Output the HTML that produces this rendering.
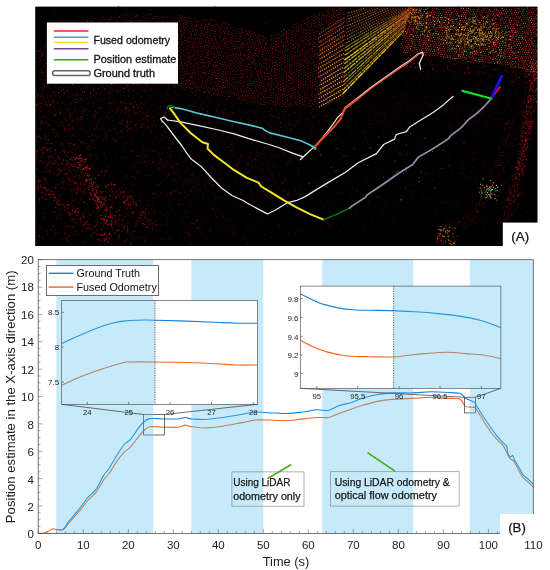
<!DOCTYPE html>
<html><head><meta charset="utf-8"><title>Figure</title>
<style>html,body{margin:0;padding:0;background:#fff}svg{display:block}</style></head>
<body>
<svg width="550" height="570" viewBox="0 0 550 570" font-family="Liberation Sans, Arial, sans-serif">
<rect x="35.2" y="6.6" width="502.3" height="239.4" fill="#000"/>
<linearGradient id="gy" gradientUnits="userSpaceOnUse" x1="345" y1="60" x2="412" y2="14"><stop offset="0" stop-color="#f0d428"/><stop offset="0.45" stop-color="#e6b422"/><stop offset="1" stop-color="#c8501c"/></linearGradient>
<linearGradient id="go" gradientUnits="userSpaceOnUse" x1="345" y1="30" x2="400" y2="8"><stop offset="0" stop-color="#d8801e"/><stop offset="1" stop-color="#b8301a"/></linearGradient>
<path d="M197.9 42.7h1M54.0 110.4h1M156.1 138.5h1M352.0 146.2h1M222.3 137.7h1M504.0 107.6h1M326.5 115.8h1M509.7 120.1h1M111.2 164.2h1M232.3 102.1h1M90.4 150.4h1M35.3 42.8h1M511.9 153.5h1M216.9 171.8h1M416.0 78.0h1M135.6 124.6h1M436.9 26.9h1M267.8 184.6h1M113.5 137.9h1M42.4 239.0h1M308.6 206.3h1M121.8 120.0h1M301.8 122.1h1M262.3 13.3h1M457.1 39.4h1M195.2 179.5h1M205.0 116.4h1M321.8 174.3h1M248.8 23.9h1M353.9 198.5h1M238.5 89.8h1M336.0 172.4h1M159.9 192.4h1M320.7 201.2h1M377.1 123.7h1M492.5 75.4h1M345.1 160.5h1M65.7 70.9h1M447.2 128.4h1M244.2 96.6h1M464.3 73.8h1M80.8 88.5h1M224.5 87.6h1M461.5 215.6h1M521.6 123.9h1M77.9 192.6h1M428.1 62.3h1M386.1 33.4h1M499.9 60.9h1M75.8 107.2h1M55.6 14.9h1M495.5 158.4h1M101.9 125.5h1M159.4 22.1h1M527.6 218.1h1M168.3 26.7h1M460.6 165.7h1M523.9 146.2h1M338.1 192.1h1M310.5 21.7h1M370.6 106.6h1M357.0 224.4h1M297.0 228.2h1M186.7 207.0h1M525.2 122.2h1M340.4 158.9h1M55.8 141.2h1M288.1 49.4h1M363.1 194.3h1M314.1 145.5h1M124.0 184.6h1M501.6 221.0h1M149.4 163.0h1M390.6 114.5h1M237.1 69.9h1M118.1 6.7h1M115.2 224.9h1M166.5 160.8h1M271.0 207.6h1M492.7 41.2h1M208.4 40.6h1M50.7 39.7h1M385.3 183.0h1M445.9 202.8h1M89.0 55.9h1M52.2 233.9h1M462.8 154.6h1M423.5 89.6h1M305.4 58.4h1M35.9 55.0h1M285.5 32.9h1M44.0 45.5h1M55.3 31.6h1M49.0 43.7h1M46.4 49.0h1M40.7 64.4h1M49.7 55.0h1M61.3 44.9h1M52.2 62.8h1M71.0 30.0h1M71.7 33.7h1M60.4 50.8h1M61.0 54.2h1M57.8 58.3h1M49.3 70.5h1M83.0 26.5h1M74.9 42.3h1M80.5 42.1h1M77.3 49.9h1M94.1 22.5h1M74.3 59.2h1M83.6 53.5h1M69.5 79.3h1M61.5 95.5h1M58.7 100.4h1M104.1 23.8h1M93.3 41.4h1M80.6 65.6h1M61.9 98.1h1M97.9 41.7h1M77.8 74.0h1M76.2 79.2h1M115.0 15.9h1M96.0 52.4h1M74.9 86.3h1M67.2 104.1h1M99.0 51.5h1M112.5 42.6h1M109.5 46.4h1M108.3 51.9h1M89.9 82.9h1M112.7 48.9h1M100.8 70.2h1M95.2 75.9h1M85.0 97.4h1M113.3 52.2h1M132.3 26.5h1M121.3 49.2h1M116.1 63.5h1M99.3 91.2h1M121.1 67.7h1M118.0 68.3h1M112.7 81.5h1M150.2 17.7h1M139.1 39.9h1M128.8 58.4h1M113.2 92.1h1M150.2 36.0h1M147.9 41.2h1M128.1 76.9h1M118.6 89.8h1M163.9 15.9h1M127.5 84.1h1M164.5 22.7h1M138.5 68.9h1M164.6 29.4h1M150.3 56.2h1M169.4 26.3h1M142.0 78.9h1M138.5 82.9h1M170.1 29.4h1M166.8 42.0h1M156.5 71.5h1M149.8 86.5h1M161.7 71.4h1M50.5 112.6h1M85.3 107.4h1M88.0 102.6h1M86.9 114.0h1M97.9 102.6h1M95.7 105.2h1M106.4 99.4h1M102.0 116.3h1M119.2 104.9h1M128.0 100.5h1M152.9 91.7h1M167.9 88.5h1M165.8 95.4h1M162.8 102.5h1M168.6 94.7h1M174.3 100.7h1M188.1 95.2h1M194.2 103.2h1M202.7 102.5h1M221.8 101.5h1M219.8 106.9h1M224.5 104.7h1M254.9 113.4h1M260.6 119.6h1M265.8 112.9h1M266.6 125.3h1M276.0 121.0h1M288.9 109.4h1M295.4 125.2h1M317.8 107.4h1M306.2 130.9h1M312.3 126.1h1M318.3 120.5h1M322.9 125.2h1M144.2 105.6h1M71.4 140.7h1M125.8 107.4h1M84.8 136.6h1M148.1 117.2h1M81.0 114.2h1M49.9 126.2h1M85.4 131.3h1M124.3 114.9h1M147.3 112.7h1M140.7 119.7h1M97.5 122.1h1M128.3 109.5h1M66.2 150.2h1M99.8 114.2h1M75.0 122.0h1M64.2 124.8h1M90.1 136.9h1M140.0 104.3h1M58.1 129.3h1M72.2 122.6h1M45.4 140.4h1M38.2 143.6h1M97.4 120.1h1M66.1 109.2h1M138.9 114.6h1M112.1 117.0h1M66.4 213.2h1M88.2 228.3h1M53.7 196.7h1M90.2 220.7h1M63.7 207.6h1M53.8 194.4h1M66.9 212.5h1M52.2 194.6h1M75.5 225.8h1M54.5 197.8h1M72.0 212.8h1M47.5 187.7h1M106.3 231.8h1M56.6 196.5h1M37.2 184.6h1M77.5 210.0h1M54.1 188.2h1M86.5 221.5h1M149.3 225.9h1M131.2 204.3h1M115.1 185.2h1M115.9 189.7h1M110.5 185.6h1M124.4 201.7h1M129.1 201.8h1M147.0 221.9h1M131.2 201.5h1M92.7 198.6h1M93.5 197.8h1M129.9 233.2h1M129.1 234.3h1M119.8 238.7h1M105.6 191.4h1M93.6 179.1h1M106.0 208.2h1M66.8 160.4h1M131.9 233.2h1M111.3 220.7h1M72.5 170.1h1M108.1 191.2h1M53.3 163.0h1M79.0 170.6h1M119.0 223.8h1M91.0 189.7h1M104.5 228.4h1M71.7 182.4h1M48.3 170.2h1M51.0 162.1h1M48.8 160.8h1M44.8 163.5h1M38.6 151.7h1M70.7 181.5h1M42.1 152.6h1M55.9 162.4h1M72.4 183.9h1M39.8 157.4h1M67.1 189.0h1M46.1 168.2h1M77.0 193.0h1M58.8 166.0h1M64.8 167.9h1M81.6 179.0h1M71.6 175.6h1M59.9 170.6h1M71.8 192.2h1M57.4 161.1h1M75.1 181.4h1M51.2 155.9h1M42.6 148.7h1M44.9 162.4h1M68.3 175.0h1M66.4 168.5h1M226.1 230.9h1M41.3 212.9h1M199.3 242.4h1M61.6 208.4h1M108.3 242.4h1M135.2 244.3h1M51.7 167.1h1M85.5 210.1h1M217.0 244.3h1M181.6 213.0h1M66.8 207.9h1M214.8 210.6h1M84.9 155.2h1M80.4 241.1h1M150.2 219.5h1M70.9 165.2h1M214.0 207.6h1M69.6 244.5h1M190.0 231.5h1M113.3 177.8h1M176.4 173.2h1M219.4 229.4h1M190.5 223.7h1M201.7 228.5h1M127.4 224.9h1M50.2 150.0h1M136.2 209.8h1M166.1 227.4h1M70.0 179.9h1M123.5 233.3h1M165.9 187.3h1M214.9 212.6h1M171.8 230.2h1M142.9 184.1h1M237.6 243.8h1M114.2 219.2h1M155.2 234.7h1M135.7 202.9h1M119.6 227.7h1M110.1 237.2h1M123.6 181.0h1M38.3 158.2h1M82.3 222.0h1M131.2 165.2h1M182.7 202.9h1M66.9 210.5h1M155.2 242.3h1M95.1 163.4h1M42.3 197.1h1M180.2 213.8h1M95.1 153.5h1M175.5 173.2h1M127.7 238.1h1M157.0 164.4h1M49.6 208.0h1M104.8 214.9h1M167.6 215.0h1M123.3 216.7h1M37.2 168.8h1M88.2 172.9h1M73.6 150.4h1M76.2 216.3h1M229.8 222.3h1M94.7 163.2h1M111.0 231.0h1M42.8 219.0h1M161.0 170.3h1M36.5 220.4h1M65.5 240.2h1M116.9 223.7h1M103.1 238.1h1M37.4 169.6h1M111.5 167.5h1M289.6 156.2h1M237.2 162.2h1M170.1 175.7h1M237.9 194.5h1M237.7 175.9h1M193.8 154.6h1M264.8 194.3h1M217.7 154.9h1M248.9 152.3h1M298.1 173.7h1M299.8 185.6h1M129.7 128.6h1M284.6 180.2h1M183.4 152.5h1M138.0 106.4h1M260.5 199.7h1M133.3 139.2h1M219.7 119.6h1M145.8 139.4h1M165.8 129.1h1M256.7 156.7h1M252.0 193.3h1M140.4 124.6h1M182.9 165.9h1M232.6 155.4h1M246.2 197.1h1M133.9 116.5h1M181.8 106.1h1M182.6 143.3h1M285.3 143.8h1M256.7 197.6h1M199.1 121.5h1M240.6 155.9h1M271.3 172.6h1M299.1 116.5h1M293.0 152.6h1M168.1 151.3h1M261.6 135.4h1M206.7 156.5h1M128.8 123.8h1M208.3 121.8h1M188.8 135.7h1M194.5 180.0h1M241.7 143.2h1M205.3 184.0h1M257.8 159.6h1M273.4 167.0h1M142.5 111.2h1M289.2 165.6h1M223.4 132.4h1M205.5 151.0h1M154.2 151.5h1M151.1 117.2h1M251.4 137.8h1M140.8 151.5h1M245.6 112.5h1M164.1 162.0h1M186.5 171.8h1M213.1 144.5h1M270.8 114.8h1M277.8 119.6h1M141.8 142.2h1M206.6 133.8h1M155.5 117.1h1M214.6 197.5h1M240.9 137.7h1M180.4 126.0h1M265.1 163.0h1M215.1 196.5h1M287.8 161.9h1M236.8 157.9h1M210.9 116.8h1M219.2 188.2h1M131.8 122.9h1M290.0 183.7h1M182.8 172.9h1M218.1 184.6h1M178.8 164.4h1M205.6 144.1h1M174.0 137.7h1M206.7 166.2h1M215.4 198.6h1M221.0 157.1h1M274.7 141.6h1M187.8 168.1h1M141.6 155.1h1M295.5 149.1h1M179.3 175.8h1M127.0 123.6h1M289.4 150.9h1M158.7 167.3h1M175.3 173.8h1M183.8 120.5h1M203.2 147.5h1M203.3 185.0h1M171.6 110.2h1M170.0 157.4h1M236.1 167.4h1M427.3 129.9h1M474.9 199.5h1M311.6 214.2h1M521.6 220.6h1M508.2 90.7h1M261.7 128.3h1M327.8 225.4h1M462.3 173.4h1M282.3 182.5h1M352.2 188.4h1M383.4 199.2h1M353.4 150.3h1M238.8 164.8h1M350.8 195.0h1M477.3 125.6h1M217.2 143.4h1M443.2 103.9h1M312.9 202.1h1M281.1 129.9h1M523.7 172.1h1M388.8 189.6h1M295.5 150.5h1M511.0 214.1h1M477.5 112.9h1M268.1 161.9h1M435.2 209.5h1M485.4 87.3h1M388.2 229.5h1M252.5 210.5h1M527.3 211.7h1M302.8 148.7h1M289.4 123.9h1M371.2 223.7h1M263.6 152.2h1M176.5 120.0h1M521.4 238.8h1M333.0 193.4h1M468.1 157.9h1M461.5 224.8h1M468.7 146.0h1M486.3 140.6h1M499.7 223.0h1M401.4 183.5h1M272.0 128.4h1M503.3 151.1h1M520.4 104.4h1M297.1 205.7h1M240.3 158.5h1M298.6 140.1h1M482.0 82.3h1M313.0 189.7h1M437.6 198.8h1M203.1 118.4h1M268.2 170.0h1M432.0 180.9h1M222.3 161.1h1M386.0 174.7h1M325.8 144.3h1M484.3 227.3h1M411.4 193.4h1M346.4 201.8h1M327.9 132.9h1M524.1 146.1h1M500.9 119.7h1M458.5 209.0h1M231.5 125.8h1M321.3 231.5h1M283.3 149.8h1M367.8 144.1h1M394.8 148.0h1M522.2 153.8h1M440.3 240.0h1M447.0 234.8h1M236.7 158.8h1M272.8 236.4h1M521.7 208.4h1M364.4 231.8h1M317.9 182.7h1M245.2 126.1h1M367.4 142.2h1M517.9 126.4h1M306.5 122.0h1M426.9 188.9h1M394.0 242.4h1M356.8 169.2h1M323.0 207.3h1M501.8 144.9h1M496.1 237.7h1M237.8 165.6h1M475.1 117.0h1M342.2 140.7h1M253.8 210.5h1M499.5 112.2h1M442.5 125.6h1M242.9 204.9h1M497.1 107.3h1M313.0 159.6h1M436.3 214.2h1M334.9 150.2h1M281.8 198.2h1M480.7 113.3h1M386.3 146.1h1M478.1 142.4h1M421.8 178.6h1M329.8 167.3h1M450.3 93.5h1M460.6 187.0h1M397.5 227.7h1M348.2 201.8h1M483.9 217.0h1M484.2 86.1h1M322.2 138.5h1M332.9 204.0h1M456.7 114.2h1M490.4 102.5h1M488.8 142.1h1M296.7 168.1h1M430.6 104.8h1M450.7 171.9h1M404.2 167.0h1M487.0 239.2h1M282.5 150.2h1M510.7 168.5h1M495.2 162.4h1M427.0 169.3h1M262.9 211.1h1M471.8 221.1h1M431.1 213.9h1M337.0 180.3h1M193.1 121.5h1M258.6 133.2h1M398.4 142.4h1M383.8 125.4h1M513.1 118.9h1M312.2 167.0h1M470.0 149.4h1M190.1 139.4h1M501.2 121.4h1M262.1 242.8h1M323.3 220.1h1M435.1 147.7h1M441.0 164.2h1M416.6 187.0h1M517.4 133.3h1M369.8 134.9h1M245.9 127.0h1M368.9 120.2h1M223.0 115.8h1M471.7 171.6h1M472.3 120.8h1M510.8 111.4h1M472.0 193.6h1M480.5 95.4h1M456.8 143.7h1M495.5 102.5h1M287.8 191.7h1M345.2 101.9h1M350.3 108.2h1M363.2 110.2h1M381.0 79.7h1M374.0 89.7h1M372.0 99.6h1M381.7 89.7h1M379.9 101.9h1M385.1 98.3h1M378.7 121.0h1M399.1 82.1h1M412.5 60.8h1M410.2 66.3h1M396.8 102.3h1M394.0 109.2h1M409.9 73.9h1M406.9 81.9h1M401.0 93.6h1M394.0 112.7h1M418.5 63.8h1M419.6 82.6h1M427.0 79.0h1M424.3 96.5h1M444.3 62.9h1M437.6 77.8h1M438.2 81.4h1M427.2 108.8h1M423.3 110.2h1M443.6 74.6h1M441.3 96.0h1M438.8 100.5h1M454.1 77.6h1M446.2 96.2h1M443.2 104.1h1M449.1 97.4h1M462.8 78.4h1M464.0 83.4h1M458.4 96.0h1M461.2 95.9h1M478.8 70.9h1M475.0 83.5h1M481.9 67.6h1M464.4 116.0h1M472.6 101.4h1M469.2 111.2h1M481.5 93.2h1M475.9 101.1h1M496.2 70.6h1M498.9 67.7h1M489.1 93.9h1M488.0 96.3h1M485.9 102.0h1M481.3 112.3h1M500.7 75.5h1M500.4 78.6h1M487.0 107.8h1M510.8 75.7h1M516.6 72.6h1M516.0 78.8h1M506.5 99.7h1M498.2 119.5h1M515.4 92.6h1M500.8 124.2h1M504.1 121.8h1M518.3 98.7h1M517.2 115.1h1M404.9 61.8h1M420.9 55.7h1M441.3 69.7h1M451.6 66.2h1M467.7 70.0h1M480.6 69.4h1M493.5 73.7h1M500.2 65.5h1M497.2 68.4h1M514.7 73.1h1M518.8 73.0h1M518.2 81.6h1M532.9 86.1h1M525.8 77.8h1M532.7 97.1h1M534.4 99.0h1M524.0 90.5h1M528.3 75.9h1M531.1 83.4h1M528.7 74.9h1M529.7 120.9h1M531.2 118.3h1M524.6 123.4h1M529.4 101.8h1M529.4 120.9h1M529.3 120.2h1M519.8 131.0h1M519.6 162.8h1M521.3 164.0h1M519.5 158.8h1M520.7 147.8h1M520.0 147.1h1M521.7 141.2h1M526.6 143.6h1M527.6 142.4h1M516.6 167.8h1M521.6 143.8h1M522.2 168.4h1M524.6 149.5h1M517.4 155.6h1M518.1 147.7h1M524.8 155.4h1M515.1 185.0h1M512.3 202.0h1M515.6 192.2h1M518.2 176.5h1M516.7 187.7h1M510.1 195.8h1M509.0 202.2h1M511.1 200.0h1M513.9 184.1h1M507.6 214.7h1M507.1 212.6h1M506.9 206.1h1M504.9 228.3h1M504.3 221.1h1M504.7 212.3h1M504.1 214.7h1M505.3 217.7h1M504.8 226.9h1M507.9 223.0h1M503.9 215.4h1M508.5 146.2h1M511.1 122.4h1M503.6 124.6h1M499.1 152.8h1M513.5 121.1h1M509.2 132.0h1M506.0 142.5h1M510.9 124.6h1M485.1 185.6h1M491.4 183.1h1M494.9 182.6h1M490.7 189.6h1M490.1 189.0h1M493.1 170.4h1M481.1 195.6h1M483.5 189.3h1M479.7 220.2h1M485.9 190.9h1M471.5 200.2h1M479.1 206.0h1M474.0 198.9h1M480.0 194.8h1M481.2 206.1h1M469.2 223.2h1M448.3 224.6h1M450.2 232.3h1M465.7 217.7h1M445.4 232.3h1M438.7 233.5h1" stroke="#3a0408" stroke-width="1" fill="none"/>
<path d="M71.6 134.9h1M58.6 212.1h1M377.0 109.0h1M269.1 227.7h1M474.8 181.2h1M419.2 143.8h1M534.0 203.4h1M395.2 219.0h1M278.8 147.6h1M191.8 41.1h1M384.9 69.1h1M302.7 193.1h1M165.4 172.4h1M259.8 230.9h1M86.5 119.1h1M457.4 121.4h1M275.3 49.3h1M527.6 164.0h1M156.0 147.0h1M339.7 54.3h1M475.5 232.2h1M250.4 57.5h1M507.1 160.6h1M238.0 107.5h1M228.3 130.5h1M523.3 31.7h1M461.9 168.4h1M340.7 59.8h1M468.6 115.2h1M534.6 106.6h1M506.4 238.6h1M60.5 54.9h1M171.1 199.0h1M455.6 10.0h1M472.5 167.1h1M37.0 93.8h1M330.0 100.9h1M77.9 16.6h1M68.4 183.0h1M336.4 86.0h1M382.9 168.4h1M521.5 114.2h1M457.2 7.0h1M393.4 222.4h1M216.4 109.1h1M261.7 186.8h1M99.1 119.6h1M176.7 67.8h1M285.4 144.1h1M236.0 113.3h1M49.9 105.2h1M384.7 178.6h1M378.1 54.0h1M151.1 59.6h1M261.1 177.1h1M120.2 7.3h1M410.6 221.7h1M57.1 185.3h1M340.2 85.1h1M426.9 77.0h1M319.9 95.9h1M129.8 22.1h1M494.5 16.3h1M210.9 15.6h1M106.2 55.4h1M375.9 50.9h1M235.0 71.5h1M192.1 142.2h1M243.2 11.0h1M506.6 44.1h1M336.3 138.3h1M101.3 218.6h1M68.1 90.6h1M114.9 221.2h1M489.8 115.9h1M237.9 159.0h1M532.7 144.8h1M184.1 130.2h1M410.5 59.7h1M62.5 142.4h1M355.8 215.2h1M63.4 203.1h1M443.8 48.4h1M203.7 186.1h1M509.7 185.2h1M449.6 157.8h1M183.1 87.2h1M45.7 68.1h1M59.5 188.5h1M166.1 232.6h1M57.9 29.4h1M48.7 46.9h1M38.0 64.4h1M61.5 37.7h1M68.1 28.5h1M69.0 32.1h1M37.6 92.9h1M81.6 24.7h1M61.9 57.6h1M42.5 92.6h1M77.9 33.1h1M63.7 59.1h1M78.0 43.5h1M53.2 90.7h1M46.6 96.9h1M81.7 44.2h1M61.6 81.8h1M80.3 54.9h1M72.9 71.0h1M66.7 81.8h1M54.3 105.9h1M79.9 61.9h1M59.1 106.3h1M95.3 43.7h1M90.6 56.5h1M81.0 72.5h1M73.6 87.1h1M86.1 68.6h1M70.4 96.2h1M118.2 24.0h1M103.6 46.1h1M121.1 26.6h1M104.7 58.0h1M87.3 84.7h1M86.3 89.2h1M90.2 86.2h1M87.2 93.1h1M118.3 55.2h1M104.4 81.3h1M99.2 94.8h1M132.8 46.4h1M124.6 57.5h1M116.0 78.1h1M107.9 90.0h1M135.2 46.8h1M153.1 23.1h1M150.7 28.0h1M147.9 29.6h1M125.3 74.9h1M121.9 87.6h1M156.4 27.5h1M135.6 68.0h1M156.5 42.7h1M134.7 78.5h1M152.7 54.0h1M147.3 63.2h1M142.5 84.9h1M138.3 89.5h1M161.7 60.9h1M157.1 68.7h1M147.3 88.9h1M161.6 65.4h1M167.4 68.4h1M156.8 88.8h1M38.6 129.7h1M37.1 134.5h1M45.2 122.5h1M51.4 126.5h1M62.4 121.8h1M68.2 105.4h1M76.2 118.0h1M84.9 109.4h1M89.3 111.1h1M99.3 105.8h1M113.5 100.3h1M111.3 104.9h1M119.3 110.4h1M123.2 97.0h1M129.4 112.4h1M134.4 102.3h1M137.6 108.0h1M156.8 93.9h1M155.3 113.3h1M164.3 99.2h1M163.3 106.6h1M159.4 108.4h1M174.7 93.5h1M170.2 103.1h1M187.0 97.1h1M196.8 102.2h1M199.9 105.2h1M201.8 109.5h1M210.5 96.8h1M218.4 101.1h1M215.7 106.5h1M219.0 104.1h1M222.3 111.6h1M230.8 104.0h1M232.2 107.8h1M247.3 103.2h1M240.0 119.0h1M252.6 122.0h1M264.4 110.5h1M275.6 105.7h1M283.4 109.0h1M280.4 122.3h1M289.1 113.7h1M285.9 127.7h1M298.5 121.0h1M307.2 113.1h1M305.8 119.2h1M311.1 113.0h1M311.1 122.9h1M319.5 114.1h1M317.6 124.0h1M324.8 127.7h1M337.1 110.3h1M36.8 141.1h1M155.7 125.2h1M62.7 125.9h1M141.6 113.1h1M87.9 129.6h1M67.4 142.7h1M76.8 133.5h1M50.6 133.6h1M150.1 126.1h1M41.0 119.2h1M127.1 132.3h1M41.2 121.3h1M86.8 132.0h1M63.4 126.8h1M122.9 111.0h1M143.3 120.4h1M69.1 109.2h1M152.7 122.4h1M119.1 121.3h1M115.6 121.9h1M91.9 142.7h1M40.0 129.3h1M92.7 107.3h1M81.2 125.2h1M40.7 117.4h1M56.3 113.8h1M135.8 104.4h1M81.5 111.3h1M37.0 137.0h1M45.4 188.3h1M97.0 234.7h1M68.5 211.3h1M48.2 193.8h1M37.8 186.9h1M64.3 201.5h1M104.7 242.2h1M81.1 223.0h1M49.2 194.3h1M64.9 204.2h1M65.2 208.5h1M44.3 192.7h1M92.7 229.9h1M87.0 224.3h1M91.3 234.0h1M72.6 217.3h1M56.3 191.4h1M142.8 210.9h1M113.2 193.7h1M117.6 194.4h1M114.7 189.2h1M141.4 219.5h1M122.3 192.1h1M120.3 199.8h1M112.9 187.1h1M121.3 187.6h1M128.2 206.5h1M128.3 202.3h1M116.4 186.5h1M119.1 189.2h1M141.2 208.7h1M148.3 212.6h1M155.6 224.5h1M137.2 205.7h1M81.8 158.4h1M107.4 220.9h1M126.9 223.1h1M79.7 172.7h1M117.9 220.6h1M111.8 216.9h1M121.9 231.2h1M100.2 195.0h1M82.9 182.5h1M87.4 176.9h1M129.3 234.0h1M122.1 220.1h1M108.3 216.4h1M56.5 156.5h1M83.5 185.4h1M74.7 164.4h1M79.9 189.2h1M125.6 240.4h1M44.6 151.4h1M63.5 172.8h1M52.8 161.0h1M63.7 174.8h1M48.8 156.7h1M36.5 158.2h1M61.2 178.8h1M80.2 187.3h1M49.8 155.4h1M35.7 153.7h1M69.4 179.6h1M73.0 186.4h1M52.7 163.7h1M68.0 176.4h1M68.5 181.5h1M50.8 172.0h1M69.2 178.6h1M148.0 196.4h1M36.2 177.1h1M43.9 208.6h1M104.3 184.3h1M87.1 204.6h1M189.7 244.2h1M136.1 223.5h1M210.1 201.6h1M192.4 178.6h1M201.4 229.1h1M219.6 229.2h1M171.0 200.0h1M38.9 172.5h1M199.9 187.5h1M132.2 167.0h1M119.7 243.3h1M47.2 155.9h1M206.9 238.4h1M194.3 186.9h1M155.9 184.5h1M163.7 200.8h1M177.1 192.1h1M102.5 242.6h1M227.4 219.4h1M71.1 183.7h1M187.0 196.6h1M218.5 208.1h1M202.4 198.2h1M130.7 190.7h1M83.3 180.7h1M170.9 166.6h1M225.0 218.9h1M118.8 225.6h1M186.9 195.9h1M39.8 181.8h1M143.3 180.9h1M38.2 228.3h1M38.0 203.0h1M90.6 159.8h1M145.7 164.7h1M165.3 224.6h1M114.1 240.2h1M65.1 229.3h1M88.2 215.2h1M96.9 234.6h1M147.5 164.1h1M131.6 200.9h1M126.1 157.9h1M187.6 216.6h1M47.3 211.1h1M71.0 194.3h1M157.9 154.7h1M227.9 242.7h1M146.4 222.0h1M83.2 206.8h1M164.1 180.4h1M243.9 238.8h1M118.6 234.2h1M41.2 202.7h1M77.8 208.2h1M37.8 176.8h1M93.6 207.4h1M125.4 210.7h1M236.5 236.7h1M108.1 187.3h1M155.3 194.1h1M151.7 243.8h1M133.5 234.9h1M69.4 177.6h1M170.0 155.5h1M134.4 238.3h1M160.2 159.4h1M101.1 181.7h1M141.1 187.1h1M100.6 170.1h1M181.9 204.9h1M177.3 193.1h1M98.9 172.5h1M197.7 190.2h1M274.6 133.0h1M200.1 190.5h1M224.2 148.7h1M196.2 122.1h1M236.8 166.6h1M168.5 173.7h1M190.7 154.8h1M236.2 166.1h1M251.7 162.3h1M164.3 105.7h1M176.1 106.0h1M146.9 112.3h1M194.4 155.2h1M145.1 150.7h1M272.0 184.9h1M147.6 119.5h1M189.3 121.4h1M287.2 181.6h1M122.8 148.4h1M133.9 131.9h1M162.8 153.8h1M128.1 116.3h1M152.2 157.1h1M232.0 112.9h1M202.8 108.1h1M287.2 164.1h1M294.3 124.8h1M265.3 139.2h1M299.5 155.1h1M284.8 179.2h1M283.7 146.3h1M207.7 173.9h1M180.0 154.3h1M130.3 127.4h1M262.5 169.3h1M270.6 136.9h1M226.2 139.5h1M297.3 189.2h1M298.7 117.2h1M287.4 189.7h1M219.5 119.3h1M223.7 198.4h1M155.7 136.6h1M244.3 156.2h1M270.4 125.2h1M226.7 175.5h1M126.2 146.8h1M129.3 109.0h1M179.8 176.1h1M143.4 161.3h1M246.7 118.7h1M247.2 186.1h1M200.9 107.7h1M181.3 148.2h1M207.2 118.8h1M223.1 186.5h1M250.3 138.4h1M230.6 143.9h1M120.2 137.9h1M169.7 156.4h1M171.5 141.7h1M257.5 148.3h1M247.0 172.8h1M157.4 154.0h1M162.9 139.2h1M212.6 192.6h1M247.2 144.0h1M245.2 114.7h1M133.3 110.1h1M212.6 136.0h1M263.7 136.1h1M293.6 141.4h1M260.4 169.4h1M246.5 173.4h1M281.7 130.8h1M277.7 119.3h1M372.1 174.7h1M273.1 157.3h1M237.2 204.8h1M248.0 122.2h1M202.2 146.8h1M385.4 202.2h1M521.9 131.3h1M229.6 193.2h1M328.6 173.5h1M391.6 219.3h1M255.8 194.1h1M305.1 170.1h1M422.0 243.9h1M220.7 184.7h1M472.5 122.7h1M319.4 136.3h1M502.4 92.9h1M467.7 176.5h1M355.8 200.3h1M401.4 195.7h1M311.2 134.7h1M261.8 182.0h1M520.9 167.1h1M483.7 161.7h1M340.4 192.2h1M379.7 173.4h1M273.7 181.0h1M269.0 169.3h1M450.9 93.5h1M423.1 139.1h1M270.9 237.9h1M278.4 227.3h1M519.4 240.4h1M379.4 162.7h1M255.5 176.8h1M212.6 155.8h1M270.6 210.4h1M428.6 104.7h1M369.9 244.6h1M477.2 129.0h1M243.4 201.4h1M279.4 175.0h1M407.8 135.4h1M386.2 125.0h1M460.7 140.9h1M290.3 220.4h1M201.7 118.6h1M449.3 126.0h1M259.1 125.1h1M420.8 170.4h1M375.1 243.6h1M221.4 183.2h1M339.7 231.0h1M405.9 129.8h1M285.7 215.3h1M473.0 159.8h1M529.8 221.9h1M342.0 235.1h1M243.4 137.5h1M474.1 114.8h1M220.1 169.2h1M181.4 118.7h1M294.8 185.8h1M300.8 188.6h1M184.8 129.5h1M336.2 203.9h1M204.6 149.1h1M506.3 102.7h1M393.6 220.4h1M248.1 170.5h1M273.0 240.9h1M250.9 160.2h1M487.6 105.5h1M420.1 151.2h1M333.3 210.8h1M353.6 209.6h1M280.7 147.2h1M310.0 199.2h1M382.0 213.3h1M404.2 181.9h1M250.7 224.5h1M507.1 123.8h1M474.2 152.3h1M396.2 149.3h1M356.8 203.6h1M306.3 123.6h1M444.9 219.1h1M429.5 199.6h1M262.1 149.6h1M179.4 111.4h1M251.9 204.7h1M359.8 192.1h1M491.0 99.2h1M365.1 131.6h1M288.4 211.2h1M338.8 141.2h1M299.9 144.8h1M264.9 226.4h1M412.5 198.8h1M521.4 144.2h1M400.9 142.1h1M446.5 228.7h1M432.1 170.7h1M291.1 128.0h1M238.9 207.7h1M438.1 136.5h1M498.0 173.3h1M215.8 122.4h1M514.3 186.6h1M334.0 205.0h1M288.0 232.5h1M415.7 125.7h1M317.4 182.3h1M501.3 222.5h1M334.6 124.8h1M478.7 220.2h1M308.0 183.2h1M457.5 185.8h1M354.8 92.3h1M349.7 105.2h1M362.2 91.1h1M358.2 100.8h1M350.1 124.5h1M369.1 100.6h1M393.9 61.1h1M385.2 89.3h1M379.5 98.3h1M375.1 118.7h1M383.6 112.9h1M393.0 96.8h1M386.6 109.7h1M384.2 118.0h1M408.4 85.1h1M415.0 68.8h1M423.5 58.3h1M419.3 73.7h1M433.0 64.6h1M412.3 108.9h1M437.6 60.1h1M432.2 70.0h1M419.1 104.1h1M417.0 109.7h1M442.9 69.9h1M439.1 76.4h1M426.5 103.3h1M429.2 104.7h1M445.6 89.2h1M440.2 112.4h1M459.7 73.2h1M471.8 64.2h1M452.8 111.1h1M457.9 114.1h1M466.9 101.1h1M481.6 72.4h1M476.3 85.2h1M470.3 103.9h1M485.9 76.7h1M485.0 84.2h1M470.3 118.5h1M490.1 78.9h1M496.9 73.0h1M490.7 87.0h1M492.6 90.2h1M486.3 99.9h1M477.6 120.6h1M495.2 87.6h1M499.8 83.5h1M499.7 97.5h1M496.2 103.2h1M508.7 90.7h1M511.5 95.3h1M507.5 115.4h1M516.3 108.4h1M514.3 121.5h1M418.5 64.6h1M419.8 68.0h1M427.5 57.7h1M478.9 66.6h1M503.5 74.8h1M510.5 70.0h1M526.3 77.9h1M531.9 83.9h1M529.0 75.7h1M530.4 83.3h1M530.8 73.7h1M527.7 88.1h1M530.8 73.3h1M529.0 67.3h1M529.6 70.9h1M533.2 64.6h1M534.7 64.0h1M526.9 96.1h1M532.5 66.8h1M522.1 132.0h1M528.5 130.6h1M527.3 116.4h1M528.7 119.4h1M530.7 125.4h1M526.0 114.4h1M524.6 136.3h1M529.1 133.6h1M526.7 119.6h1M529.4 107.4h1M525.9 134.7h1M527.8 126.5h1M528.6 134.1h1M527.5 105.3h1M525.7 123.7h1M523.4 146.0h1M531.1 150.0h1M522.3 150.2h1M524.5 155.1h1M521.3 149.6h1M523.4 142.2h1M521.7 148.4h1M511.3 167.7h1M529.3 159.9h1M517.7 144.4h1M522.2 165.0h1M520.5 153.5h1M521.7 155.3h1M523.0 173.3h1M505.2 199.8h1M519.3 187.1h1M518.4 179.5h1M516.2 178.7h1M509.1 201.9h1M514.0 193.3h1M517.2 196.5h1M514.2 195.0h1M515.4 176.3h1M506.9 203.9h1M507.9 197.6h1M505.9 200.2h1M512.5 195.8h1M518.6 180.4h1M517.6 179.0h1M521.2 185.4h1M507.9 212.6h1M508.8 211.5h1M503.2 221.9h1M509.8 215.4h1M502.7 222.6h1M509.1 223.9h1M504.0 227.6h1M496.7 222.1h1M501.7 222.6h1M503.5 215.5h1M507.5 208.0h1M511.5 212.8h1M505.1 144.0h1M506.8 140.2h1M505.1 122.5h1M505.7 153.4h1M508.6 134.8h1M512.0 123.3h1M511.8 123.9h1M500.5 147.4h1M504.2 139.8h1M510.1 143.6h1M503.6 140.5h1M502.8 169.3h1M495.4 161.9h1M498.0 173.3h1M488.8 186.7h1M499.1 174.8h1M501.2 182.7h1M488.0 198.3h1M486.2 191.7h1M485.7 200.9h1M481.8 202.2h1M466.3 204.7h1M479.0 201.9h1M452.4 215.9h1M466.3 223.7h1M453.2 229.8h1M467.2 216.6h1M457.6 223.8h1" stroke="#43050a" stroke-width="1" fill="none"/>
<path d="M327.9 224.4h1M450.5 36.2h1M325.1 101.6h1M190.2 202.0h1M87.0 143.3h1M185.8 196.8h1M245.2 187.9h1M46.5 117.1h1M342.1 124.8h1M421.1 37.6h1M516.3 42.7h1M220.7 142.2h1M277.1 102.5h1M69.0 56.6h1M474.4 153.6h1M407.1 121.2h1M491.4 91.8h1M354.9 153.4h1M440.1 202.5h1M514.9 93.9h1M492.2 193.9h1M399.3 47.3h1M530.7 53.2h1M44.6 112.0h1M340.9 192.4h1M478.8 20.2h1M498.7 220.3h1M232.3 82.2h1M429.0 221.3h1M479.7 45.6h1M292.5 22.0h1M171.8 223.5h1M175.4 198.0h1M347.5 16.9h1M351.0 133.7h1M180.8 126.3h1M522.6 80.3h1M528.7 88.6h1M523.7 137.6h1M52.5 217.8h1M77.3 73.4h1M516.2 210.9h1M110.3 180.0h1M450.3 146.4h1M441.7 209.2h1M229.5 226.0h1M377.6 103.7h1M456.7 35.3h1M454.5 75.0h1M315.1 101.0h1M490.3 125.6h1M249.9 137.7h1M227.5 185.2h1M98.4 127.1h1M464.9 239.4h1M428.6 60.2h1M359.4 79.3h1M186.1 232.5h1M175.1 82.3h1M273.9 62.8h1M406.5 127.5h1M284.2 54.6h1M108.7 100.8h1M503.1 85.4h1M79.3 175.4h1M222.4 226.7h1M438.7 21.4h1M438.3 183.4h1M74.9 53.8h1M277.2 137.0h1M135.3 65.8h1M533.7 128.1h1M54.4 181.9h1M435.0 165.6h1M356.3 28.4h1M137.5 8.0h1M325.4 93.9h1M100.5 19.0h1M121.4 89.9h1M227.9 187.0h1M489.4 155.1h1M97.0 65.7h1M361.2 80.4h1M346.1 123.8h1M291.5 16.4h1M402.9 201.7h1M515.7 225.9h1M379.8 179.2h1M287.5 226.8h1M332.5 154.0h1M195.5 15.4h1M376.6 221.0h1M201.4 26.1h1M88.6 92.1h1M242.8 78.7h1M114.9 10.0h1M505.9 182.2h1M302.2 103.8h1M41.4 138.5h1M523.4 77.4h1M78.1 128.1h1M166.0 63.1h1M465.9 111.3h1M321.7 80.3h1M91.4 155.5h1M465.4 189.0h1M274.9 38.4h1M444.7 231.2h1M75.4 202.7h1M214.4 215.8h1M183.4 217.1h1M91.4 185.1h1M55.7 207.6h1M111.8 166.8h1M134.6 171.0h1M59.0 241.9h1M189.9 205.2h1M110.8 206.8h1M151.8 178.8h1M67.0 183.7h1M38.1 204.9h1M136.7 173.5h1M227.9 228.0h1M127.8 190.8h1M105.4 184.6h1M169.0 228.4h1M86.6 228.5h1M200.0 216.6h1M48.5 150.2h1M205.9 203.5h1M82.7 241.6h1M50.0 180.0h1M141.8 242.6h1M157.5 240.8h1M114.7 222.4h1M193.1 231.5h1M150.4 202.6h1M77.9 153.9h1M201.8 199.4h1M104.7 222.8h1M122.8 178.5h1M151.5 172.5h1M47.7 244.1h1M102.8 163.9h1M71.3 182.7h1M385.6 124.1h1M405.5 196.8h1M445.2 244.5h1M381.5 205.5h1M329.4 225.8h1M456.5 204.6h1M464.1 176.4h1M221.1 129.4h1M294.9 188.3h1M305.6 136.9h1M359.4 144.4h1M515.0 125.7h1M198.7 137.8h1M311.5 205.8h1M429.2 217.2h1M272.1 193.1h1M499.2 155.5h1M341.3 171.0h1M459.9 168.3h1M497.6 235.2h1M488.2 233.1h1M349.4 190.6h1M518.1 192.3h1M265.1 239.5h1M187.9 122.4h1M526.1 144.6h1M409.0 207.8h1M375.7 115.7h1M484.5 122.8h1M492.3 179.5h1M451.9 144.0h1M204.7 130.9h1M452.0 106.9h1M419.2 104.8h1M280.9 138.6h1M513.1 192.9h1M323.7 205.2h1M251.1 191.6h1M485.1 204.7h1M506.9 180.3h1M465.1 152.1h1M336.9 183.3h1M469.9 172.0h1M428.5 203.9h1M463.4 123.4h1M359.9 197.3h1M224.4 179.7h1M399.7 126.7h1M508.6 188.6h1M422.3 195.4h1M438.5 172.3h1M383.8 190.3h1M264.8 120.7h1M415.6 182.5h1M407.6 219.6h1M314.4 185.2h1M348.1 129.9h1M327.4 146.3h1M472.0 117.7h1M298.1 241.2h1M337.0 215.5h1M251.6 123.0h1M218.8 174.7h1M365.3 232.3h1M234.8 153.6h1M524.1 155.5h1M401.3 235.0h1M411.8 108.5h1M440.0 188.5h1M383.0 211.5h1M363.3 217.3h1M220.6 141.1h1M446.3 238.8h1M530.1 185.8h1M355.3 244.2h1M507.2 99.2h1M405.3 163.7h1M495.2 143.1h1M483.6 224.1h1M389.9 185.7h1M367.1 161.4h1M468.1 146.5h1M336.9 221.1h1M359.0 153.2h1M298.9 163.8h1M310.4 163.8h1M473.2 159.8h1M403.4 186.2h1M307.7 170.4h1M417.3 102.3h1M192.5 134.5h1M349.2 158.1h1M422.4 199.4h1M413.3 224.7h1M392.7 142.9h1M226.3 154.2h1M358.7 190.6h1M283.9 154.6h1M268.3 198.5h1M245.6 133.8h1M397.5 204.0h1M415.6 241.2h1M450.8 228.4h1M367.6 176.7h1M489.7 108.2h1M525.9 138.7h1M503.4 158.4h1M447.1 144.0h1M438.5 163.9h1M349.2 194.4h1M461.0 188.6h1M227.6 204.8h1M480.7 221.4h1M398.3 200.0h1M366.5 150.6h1M349.9 226.9h1M240.7 156.4h1M497.4 105.8h1M401.1 158.0h1M345.8 229.1h1M448.6 153.6h1M293.7 222.3h1M467.0 180.4h1M385.6 241.4h1M439.2 169.4h1M197.1 148.1h1M341.4 175.9h1M260.8 120.4h1M393.0 146.0h1M399.7 125.9h1M354.0 96.6h1M369.3 89.8h1M362.8 103.7h1M358.1 111.5h1M357.9 115.3h1M362.4 105.6h1M354.0 125.7h1M384.2 77.5h1M376.3 100.2h1M372.2 103.6h1M371.9 107.6h1M369.7 109.1h1M369.0 119.5h1M395.9 65.9h1M376.7 103.7h1M386.3 93.4h1M407.4 56.0h1M398.7 69.0h1M378.5 124.4h1M399.0 77.2h1M388.8 103.9h1M383.8 115.2h1M414.2 57.4h1M406.9 73.2h1M404.9 82.5h1M389.8 110.2h1M410.9 78.1h1M405.3 90.5h1M400.5 98.9h1M398.5 103.3h1M396.0 106.0h1M397.1 117.4h1M422.7 65.2h1M422.9 67.5h1M405.2 103.1h1M418.0 86.2h1M416.8 89.8h1M407.1 110.3h1M421.2 92.8h1M417.1 107.3h1M440.3 67.6h1M429.2 93.2h1M434.0 84.9h1M435.7 89.0h1M438.6 86.5h1M431.0 108.3h1M449.8 69.3h1M443.7 80.8h1M438.4 94.5h1M434.2 111.7h1M452.9 81.5h1M460.3 84.6h1M456.4 100.3h1M477.1 69.0h1M467.3 92.3h1M469.2 94.6h1M463.8 104.8h1M459.1 116.3h1M484.6 70.0h1M479.2 91.7h1M496.9 80.4h1M498.4 84.9h1M501.4 87.6h1M492.8 102.9h1M502.8 94.8h1M497.0 108.0h1M494.1 114.3h1M512.4 72.7h1M507.3 85.0h1M508.5 97.9h1M506.0 125.3h1M523.0 112.0h1M521.5 121.6h1M502.2 225.7h1M503.8 226.5h1M502.3 225.6h1M505.5 223.9h1M508.7 209.4h1" stroke="#2e0306" stroke-width="1" fill="none"/>
<path d="M245.7 136.0h1M341.1 24.1h1M65.7 174.5h1M75.7 114.1h1M176.8 41.5h1M382.0 130.0h1M487.0 193.3h1M353.9 235.3h1M294.6 55.7h1M137.9 156.0h1M440.3 41.6h1M49.3 57.5h1M368.0 201.7h1M246.5 226.3h1M100.9 42.9h1M314.7 84.6h1M174.3 191.5h1M257.8 153.2h1M290.2 65.9h1M116.3 109.9h1M239.1 135.1h1M53.8 11.0h1M188.0 62.3h1M365.5 178.0h1M57.2 206.6h1M350.3 182.3h1M105.2 132.0h1M315.7 156.9h1M264.7 23.4h1M486.2 28.6h1M269.4 35.0h1M44.0 116.5h1M72.7 28.2h1M166.7 92.7h1M160.4 70.2h1M494.0 231.8h1M279.1 224.9h1M358.3 24.6h1M195.6 94.8h1M231.9 228.5h1M230.1 60.1h1M90.0 155.9h1M492.5 20.1h1M217.5 86.8h1M499.4 77.8h1M266.7 194.2h1M346.8 168.0h1M153.5 74.0h1M152.2 18.7h1M88.3 149.3h1M322.9 228.6h1M356.8 211.7h1M218.7 198.7h1M76.5 182.2h1M433.1 69.9h1M356.3 242.2h1M344.6 110.1h1M333.9 145.1h1M106.7 54.4h1M392.7 70.3h1M376.4 170.8h1M131.6 99.7h1M155.3 223.9h1M231.9 146.7h1M431.5 14.1h1M332.8 235.8h1M281.5 243.9h1M37.9 54.8h1M52.4 33.5h1M38.2 57.8h1M61.0 30.9h1M40.9 67.9h1M67.0 30.2h1M38.7 78.8h1M75.2 22.0h1M67.2 33.3h1M58.4 53.6h1M48.9 64.0h1M37.9 84.6h1M66.9 44.3h1M64.0 44.9h1M81.0 21.8h1M78.7 29.7h1M63.3 52.9h1M72.9 47.2h1M66.7 54.5h1M60.7 67.8h1M50.0 88.2h1M47.2 94.4h1M43.1 96.4h1M43.1 99.4h1M41.0 101.0h1M37.5 109.8h1M92.4 18.3h1M90.5 21.9h1M85.6 24.6h1M82.0 34.5h1M80.4 37.0h1M74.9 47.5h1M66.3 60.7h1M57.1 76.8h1M63.3 73.6h1M61.6 78.7h1M52.9 96.1h1M50.7 101.8h1M77.3 53.7h1M70.1 68.9h1M68.7 73.0h1M63.2 79.0h1M54.9 97.9h1M100.9 19.6h1M92.8 34.8h1M89.0 38.6h1M84.8 49.7h1M59.0 97.1h1M53.0 107.6h1M94.8 35.7h1M92.9 45.7h1M86.7 51.4h1M85.7 54.8h1M74.7 75.7h1M106.9 24.5h1M92.7 47.9h1M76.4 81.9h1M70.1 92.3h1M101.8 39.2h1M115.7 20.7h1M112.5 27.3h1M107.2 34.9h1M101.0 48.5h1M98.0 54.8h1M95.5 59.8h1M86.0 75.1h1M85.3 80.0h1M81.8 86.4h1M78.2 87.1h1M115.8 31.2h1M111.9 31.1h1M112.2 36.0h1M86.2 78.1h1M87.6 82.2h1M83.9 82.6h1M124.4 21.1h1M114.8 36.8h1M110.6 43.8h1M101.3 62.1h1M83.9 93.0h1M81.3 95.7h1M126.2 19.5h1M126.6 21.8h1M131.8 18.7h1M122.0 36.0h1M101.0 71.9h1M97.9 82.1h1M96.7 83.0h1M118.2 51.4h1M112.4 63.0h1M95.0 90.8h1M142.4 16.5h1M138.7 19.8h1M133.1 29.2h1M115.3 61.3h1M107.6 79.7h1M104.2 83.9h1M143.6 14.4h1M144.3 18.4h1M138.2 27.8h1M123.9 51.1h1M117.9 65.8h1M107.4 85.8h1M100.8 92.9h1M142.5 26.7h1M124.2 60.7h1M112.3 79.6h1M143.8 31.5h1M141.5 33.1h1M139.4 42.7h1M124.0 65.3h1M148.2 33.5h1M139.0 46.8h1M136.6 54.2h1M137.5 53.0h1M129.7 67.2h1M126.6 73.1h1M124.0 82.7h1M117.5 93.1h1M147.2 47.2h1M141.9 57.4h1M161.7 24.3h1M149.5 46.1h1M146.7 53.1h1M130.1 86.4h1M170.1 16.4h1M164.6 26.6h1M162.8 34.6h1M158.3 40.7h1M153.0 49.5h1M132.9 87.9h1M156.4 48.7h1M161.7 46.1h1M156.7 58.1h1M150.6 72.6h1M150.8 82.0h1M168.1 59.0h1M162.5 69.1h1M158.5 74.0h1M167.7 65.6h1M156.9 85.6h1M161.6 86.1h1M166.9 81.8h1M168.1 85.0h1M36.8 128.2h1M47.7 115.0h1M48.1 119.7h1M45.4 129.8h1M59.4 113.0h1M65.4 109.0h1M64.7 115.1h1M58.2 125.3h1M64.6 119.9h1M73.8 110.3h1M67.5 119.9h1M98.6 99.6h1M105.0 98.1h1M116.4 112.1h1M128.6 95.9h1M122.3 110.2h1M127.7 111.6h1M147.7 97.4h1M178.5 95.0h1M173.2 106.7h1M173.5 110.7h1M182.9 109.2h1M207.6 99.4h1M206.7 111.3h1M215.9 111.3h1M217.0 115.1h1M228.4 110.1h1M232.7 105.7h1M238.4 109.8h1M242.5 111.7h1M251.9 101.9h1M249.6 110.9h1M253.5 111.0h1M259.9 104.4h1M257.6 107.2h1M257.6 113.1h1M267.0 107.5h1M268.1 124.6h1M276.1 109.8h1M278.6 113.2h1M298.7 113.9h1M317.5 110.3h1M313.4 130.3h1M323.5 105.8h1M324.5 116.2h1M324.1 121.5h1M334.7 115.4h1M117.2 108.6h1M60.7 142.2h1M62.9 146.1h1M70.6 137.3h1M120.6 106.9h1M42.1 123.7h1M82.6 126.5h1M128.9 107.5h1M119.8 110.1h1M96.8 126.7h1M121.6 124.7h1M108.6 112.7h1M83.1 122.0h1M140.9 108.9h1M120.9 131.0h1M70.8 115.8h1M56.0 135.0h1M111.8 109.9h1M118.4 123.6h1M134.9 101.8h1M124.9 125.8h1M110.8 108.6h1M93.4 117.1h1M55.5 110.1h1M53.5 121.0h1M85.9 148.8h1M77.7 145.6h1M102.5 207.6h1M83.5 168.1h1M89.5 189.9h1M82.9 165.1h1M96.0 196.9h1M84.7 174.5h1M94.5 192.1h1M99.8 202.2h1M76.6 163.0h1M89.3 186.3h1M101.5 199.1h1M113.7 216.8h1M95.5 180.8h1M92.0 185.1h1M57.7 194.8h1M103.0 240.1h1M47.8 190.2h1M102.9 235.8h1M72.7 219.2h1M48.8 190.5h1M99.2 238.9h1M98.6 233.1h1M46.0 182.8h1M87.6 229.0h1M66.2 206.0h1M108.5 241.2h1M42.5 187.8h1M57.8 200.4h1M62.2 199.8h1M35.4 186.4h1M80.0 217.5h1M70.7 219.0h1M42.0 197.7h1M83.3 228.2h1M37.0 188.6h1M36.9 187.3h1M63.7 206.6h1M35.3 186.9h1M82.7 217.3h1M76.1 222.0h1M69.6 214.5h1M103.4 235.2h1M102.4 234.2h1M104.2 238.8h1M43.4 178.7h1M49.9 195.7h1M96.6 233.5h1M93.2 225.3h1M128.0 197.0h1M112.0 190.7h1M125.4 200.5h1M127.2 195.2h1M148.1 225.0h1M156.0 226.7h1M126.8 198.2h1M130.9 209.4h1M130.4 211.5h1M146.0 217.9h1M119.2 191.3h1M122.9 194.1h1M132.2 216.3h1M135.6 201.5h1M144.9 213.6h1M125.8 199.8h1M156.6 225.4h1M106.8 185.3h1M146.2 226.8h1M147.3 226.9h1M142.5 223.9h1M146.4 227.1h1M143.3 216.1h1M123.3 191.3h1M110.6 189.3h1M107.6 185.3h1M112.4 181.9h1M123.2 242.8h1M70.3 190.7h1M118.7 237.7h1M115.1 217.6h1M116.6 221.8h1M108.4 232.7h1M97.2 192.6h1M119.4 207.4h1M118.7 219.1h1M86.6 202.7h1M66.5 160.6h1M80.9 194.8h1M109.9 224.5h1M111.0 245.0h1M84.7 184.7h1M124.9 243.0h1M97.6 208.8h1M87.6 192.4h1M93.1 210.6h1M84.9 182.2h1M85.4 188.2h1M109.8 215.6h1M86.8 166.2h1M80.5 178.9h1M80.4 191.4h1M83.9 214.2h1M85.2 184.0h1M71.6 166.6h1M120.0 245.2h1M106.9 206.3h1M93.2 212.1h1M52.6 173.5h1M54.1 164.3h1M41.3 150.4h1M66.9 174.2h1M42.6 155.3h1M42.5 157.7h1M41.7 163.4h1M77.3 181.1h1M52.3 156.6h1M73.3 176.7h1M69.9 189.7h1M45.4 161.4h1M56.3 175.8h1M39.4 149.5h1M46.5 163.4h1M51.4 164.8h1M36.1 151.4h1M66.3 177.0h1M47.9 162.5h1M53.2 159.3h1M68.8 180.0h1M76.8 181.9h1M48.6 143.5h1M50.3 167.8h1M58.3 184.2h1M76.8 184.0h1M49.8 161.1h1M122.3 197.4h1M113.9 225.3h1M172.1 164.8h1M50.9 229.4h1M129.8 169.7h1M143.5 162.5h1M45.7 189.4h1M140.3 193.5h1M36.8 169.6h1M66.6 154.1h1M52.6 194.6h1M152.3 202.6h1M145.9 175.5h1M141.0 237.0h1M169.2 204.6h1M210.0 240.2h1M138.9 214.2h1M87.4 189.7h1M72.6 227.2h1M223.0 217.2h1M103.8 175.4h1M106.3 206.4h1M85.1 243.1h1M210.2 229.4h1M167.5 152.6h1M149.5 186.7h1M209.6 230.8h1M160.7 159.7h1M116.2 155.1h1M109.5 165.9h1M137.2 235.8h1M96.7 172.0h1M190.3 223.7h1M139.7 238.6h1M71.3 229.1h1M159.8 182.8h1M41.5 196.2h1M202.8 236.6h1M95.5 182.3h1M189.7 233.9h1M127.7 215.3h1M79.8 211.5h1M221.3 213.6h1M59.5 215.6h1M169.1 166.6h1M188.1 205.2h1M225.7 226.7h1M66.6 236.1h1M112.8 203.1h1M164.6 162.9h1M130.4 186.8h1M57.5 209.7h1M65.4 224.0h1M193.0 182.7h1M93.4 159.9h1M62.3 184.3h1M76.2 195.0h1M152.8 162.5h1M48.3 171.7h1M43.7 217.7h1M133.5 199.2h1M109.8 213.9h1M142.1 206.2h1M103.9 153.3h1M150.4 150.2h1M104.9 200.8h1M115.6 184.3h1M45.3 180.2h1M179.0 235.0h1M101.1 171.2h1M92.4 167.7h1M229.2 221.0h1M96.8 206.9h1M69.3 166.2h1M112.3 191.5h1M166.1 217.8h1M151.2 205.9h1M122.9 198.2h1M157.3 196.6h1M120.2 207.9h1M115.6 199.9h1M159.7 193.5h1M183.9 192.2h1M192.9 133.4h1M190.6 162.7h1M157.8 169.8h1M237.5 162.9h1M217.3 161.4h1M291.4 130.9h1M125.2 108.1h1M268.2 140.5h1M251.1 167.1h1M214.1 154.9h1M229.7 114.2h1M175.3 122.0h1M289.9 162.2h1M203.7 194.6h1M170.8 115.3h1M140.6 108.2h1M252.4 123.8h1M286.6 145.8h1M190.8 142.3h1M218.6 178.4h1M231.5 169.1h1M122.2 146.3h1M226.5 115.6h1M251.3 154.1h1M252.2 120.2h1M228.8 159.1h1M146.8 156.1h1M152.3 125.9h1M170.3 167.4h1M225.9 174.8h1M213.1 184.6h1M173.0 143.7h1M269.9 131.5h1M284.4 179.1h1M208.8 116.1h1M145.7 165.0h1M130.5 141.3h1M242.8 123.0h1M190.7 127.5h1M195.4 125.9h1M220.7 130.4h1M132.7 110.8h1M198.8 156.0h1M299.4 148.6h1M187.9 160.1h1M267.4 171.7h1M230.5 174.2h1M276.6 117.1h1M139.1 107.0h1M231.4 129.9h1M240.9 192.0h1M200.4 150.3h1M139.6 117.3h1M194.2 115.7h1M124.5 144.4h1M286.2 178.1h1M208.6 142.0h1M183.6 135.1h1M187.3 171.4h1M142.2 159.3h1M280.1 137.9h1M206.7 177.0h1M201.5 123.4h1M147.5 111.3h1M263.8 131.2h1M128.9 116.5h1M177.2 109.5h1M152.4 161.8h1M209.1 155.3h1M282.0 115.4h1M275.2 166.3h1M133.3 105.5h1M180.0 116.3h1M184.5 118.3h1M253.6 131.3h1M255.3 177.2h1M245.8 141.4h1M294.0 156.6h1M214.8 133.3h1M256.1 143.1h1M177.4 171.2h1M171.3 150.4h1M236.8 165.7h1M259.6 166.6h1M152.3 142.3h1M140.0 152.3h1M166.0 164.4h1M262.6 152.0h1M350.7 112.7h1M357.4 107.9h1M365.2 91.6h1M367.7 93.1h1M368.3 124.5h1M404.3 58.4h1M381.1 114.1h1M407.5 59.8h1M407.0 68.2h1M408.3 70.6h1M389.0 121.3h1M396.7 108.9h1M406.8 98.8h1M422.9 71.3h1M449.2 62.0h1M453.5 95.5h1M466.6 67.8h1M472.0 85.1h1M475.9 90.2h1M471.1 93.2h1M481.5 90.2h1M490.6 108.8h1M495.2 118.6h1M506.9 104.2h1M523.4 82.3h1M507.6 120.7h1M524.9 87.2h1M513.7 115.5h1M511.8 121.6h1M524.8 97.7h1M406.7 55.1h1M411.5 57.4h1M418.1 58.8h1M429.7 57.0h1M437.1 69.6h1M441.5 61.2h1M447.3 65.1h1M449.4 67.3h1M453.0 71.5h1M456.4 62.7h1M460.4 67.3h1M466.6 65.2h1M470.0 72.9h1M479.1 74.7h1M480.9 71.9h1M512.5 71.9h1M512.9 70.6h1M523.4 76.1h1M525.5 71.8h1M533.3 91.4h1M532.5 69.4h1M533.7 75.3h1M532.9 75.0h1M530.8 87.0h1M531.0 69.2h1M528.7 96.4h1M525.7 71.1h1M527.7 99.7h1M529.3 86.8h1M533.1 80.7h1M530.3 99.2h1M531.2 72.2h1M528.8 74.9h1M533.2 74.5h1M530.3 86.4h1M531.9 82.6h1M527.4 81.5h1M532.8 96.9h1M536.4 80.2h1M532.2 63.2h1M522.1 62.3h1M529.8 92.6h1M532.6 72.3h1M530.7 83.9h1M530.0 95.5h1M531.2 69.1h1M525.6 63.0h1M533.7 64.6h1M533.6 84.6h1M534.5 90.4h1M528.0 102.3h1M527.5 127.1h1M528.6 106.8h1M524.6 121.2h1M522.5 124.0h1M522.6 132.5h1M533.1 122.9h1M530.6 121.2h1M527.3 135.7h1M525.9 108.0h1M532.4 120.2h1M527.2 103.1h1M523.7 124.9h1M528.3 120.9h1M529.8 129.9h1M524.1 123.2h1M531.1 127.0h1M530.5 123.6h1M534.3 106.4h1M531.2 105.8h1M522.0 174.2h1M516.4 174.3h1M522.4 163.8h1M527.7 146.4h1M526.0 140.5h1M518.4 160.9h1M528.0 150.6h1M521.6 161.9h1M521.3 163.2h1M522.8 174.0h1M522.4 159.2h1M521.1 156.2h1M521.7 159.9h1M521.5 149.5h1M525.6 141.6h1M521.8 150.3h1M516.7 171.1h1M514.8 198.9h1M514.1 196.8h1M515.3 198.9h1M519.5 175.8h1M513.5 200.9h1M511.1 195.8h1M514.1 197.2h1M511.2 198.3h1M509.7 176.4h1M520.7 181.8h1M516.9 190.8h1M506.9 207.2h1M505.2 214.0h1M504.1 212.5h1M509.2 209.7h1M508.4 205.0h1M502.9 226.8h1M505.0 219.8h1M501.7 141.9h1M515.3 122.3h1M497.2 154.0h1M506.3 137.1h1M505.3 139.7h1M505.4 123.6h1M504.9 142.0h1M497.8 185.7h1M494.4 177.2h1M492.1 186.9h1M496.3 177.9h1M490.6 182.7h1M503.1 155.9h1M496.7 160.6h1M488.9 174.1h1M485.7 192.0h1M491.6 195.4h1M476.6 219.1h1M470.0 213.9h1M484.0 202.9h1M483.4 197.3h1M475.5 210.7h1M477.4 211.6h1M474.6 217.9h1M482.7 205.3h1M470.1 220.5h1M455.6 218.8h1M465.0 222.2h1M450.9 227.8h1M469.2 224.1h1M448.0 227.9h1M466.5 225.9h1M467.4 218.5h1M464.5 222.1h1M443.7 230.8h1M465.2 228.1h1M444.5 230.5h1M451.3 227.3h1M444.6 241.7h1M441.3 238.8h1M451.4 244.3h1M456.9 239.7h1M447.1 239.1h1" stroke="#5a060c" stroke-width="1" fill="none"/>
<path d="M318.7 154.8h1M76.3 78.5h1M206.0 90.4h1M235.1 226.1h1M174.8 39.4h1M469.2 73.3h1M530.7 170.0h1M364.2 183.7h1M218.1 36.0h1M534.0 118.2h1M532.3 195.8h1M78.8 233.1h1M49.0 148.0h1M299.7 230.1h1M492.3 91.3h1M262.4 134.3h1M107.0 218.0h1M145.5 234.6h1M171.0 37.6h1M312.0 52.0h1M158.6 113.6h1M365.0 137.3h1M251.6 19.9h1M266.0 44.3h1M214.3 6.9h1M167.9 28.1h1M230.9 84.7h1M517.2 96.8h1M401.5 55.7h1M283.3 98.2h1M347.2 38.5h1M391.3 75.0h1M135.3 240.8h1M388.5 62.0h1M233.1 44.7h1M162.4 22.2h1M193.7 191.7h1M479.4 201.0h1M137.4 25.9h1M239.2 63.7h1M262.7 86.3h1M136.7 11.4h1M81.7 221.3h1M99.1 108.4h1M297.6 169.9h1M349.9 133.1h1M35.8 135.3h1M63.0 53.1h1M75.9 61.1h1M129.3 60.1h1M47.1 149.3h1M61.2 21.0h1M362.9 132.2h1M51.2 165.7h1M456.7 242.4h1M317.1 188.3h1M214.3 203.3h1M197.6 183.1h1M50.4 104.9h1M47.4 62.6h1M394.6 118.1h1M431.9 225.3h1M246.7 243.2h1M122.2 38.4h1M361.5 30.7h1M533.0 31.1h1M478.6 61.9h1M222.2 214.0h1M444.4 202.6h1M74.3 14.1h1M358.9 100.1h1M248.1 203.0h1M238.4 209.2h1M127.1 58.8h1M370.7 84.2h1M249.0 164.3h1M259.6 154.7h1M455.4 200.6h1M89.0 37.4h1M75.4 186.6h1M59.6 212.1h1M161.8 134.8h1M405.9 95.5h1M218.1 18.0h1M137.8 156.0h1M358.0 161.6h1M67.2 156.5h1M394.5 8.1h1M409.5 118.0h1M477.1 187.5h1M421.6 150.7h1M323.8 75.3h1M37.4 124.1h1M384.4 204.2h1M59.9 27.3h1M58.0 31.9h1M49.2 50.9h1M45.9 56.7h1M55.3 47.5h1M46.4 67.2h1M65.9 36.4h1M60.9 48.5h1M52.9 60.3h1M68.4 35.6h1M41.5 87.3h1M83.3 21.8h1M72.8 43.7h1M69.0 49.3h1M51.9 83.3h1M54.2 85.0h1M52.9 86.1h1M69.1 62.2h1M70.2 65.7h1M55.1 87.5h1M47.4 106.7h1M98.6 21.2h1M94.9 25.9h1M93.5 26.9h1M89.3 35.4h1M87.3 44.6h1M75.6 66.1h1M54.9 101.5h1M106.6 19.0h1M97.8 34.1h1M74.3 72.4h1M70.0 86.8h1M104.5 26.4h1M98.7 38.1h1M95.6 46.3h1M67.7 97.5h1M64.0 104.0h1M86.8 64.3h1M75.1 89.4h1M107.4 39.7h1M98.2 60.0h1M96.6 66.1h1M118.0 30.8h1M98.2 68.1h1M79.7 100.7h1M129.7 13.7h1M129.7 17.2h1M120.6 29.8h1M97.5 74.8h1M92.2 81.6h1M124.7 30.9h1M126.0 36.4h1M121.5 46.7h1M121.5 60.7h1M109.7 81.1h1M138.0 32.8h1M118.8 75.7h1M109.5 91.5h1M129.5 65.1h1M149.8 30.8h1M135.6 58.5h1M135.0 64.9h1M130.6 74.8h1M141.4 61.4h1M124.1 92.4h1M172.9 20.9h1M170.0 23.3h1M162.3 38.6h1M149.2 66.2h1M161.2 54.6h1M153.1 68.4h1M161.4 83.2h1M159.9 84.7h1M169.7 70.7h1M164.6 83.6h1M55.8 114.3h1M53.8 115.0h1M66.8 110.7h1M74.5 107.0h1M70.4 113.6h1M108.7 98.0h1M107.6 110.7h1M110.1 116.7h1M128.7 103.6h1M131.9 101.8h1M144.8 91.6h1M149.7 90.1h1M153.2 98.9h1M151.5 105.9h1M165.9 93.0h1M177.9 99.3h1M180.8 103.8h1M189.6 95.2h1M189.7 112.1h1M196.2 108.4h1M226.4 102.9h1M229.8 115.4h1M255.6 120.7h1M270.4 118.3h1M272.5 124.6h1M282.2 111.0h1M292.7 113.7h1M307.9 119.3h1M313.2 114.9h1M321.7 109.3h1M326.5 116.3h1M322.0 128.8h1M341.0 111.7h1M342.2 113.1h1M344.8 109.7h1M45.9 139.9h1M143.0 117.8h1M95.9 124.3h1M39.1 118.8h1M148.7 128.8h1M133.9 125.0h1M51.7 129.7h1M91.8 147.6h1M109.7 106.3h1M106.4 137.1h1M87.6 125.9h1M136.4 113.5h1M88.3 136.8h1M41.2 122.3h1M76.7 115.3h1M130.2 104.5h1M59.2 115.2h1M65.0 118.7h1M107.3 131.0h1M116.8 109.8h1M72.8 119.1h1M84.1 109.9h1M87.0 109.8h1M128.2 114.1h1M74.0 150.2h1M54.1 200.5h1M105.4 237.8h1M89.7 227.0h1M74.2 211.5h1M38.7 182.6h1M101.4 240.5h1M63.1 204.4h1M50.0 188.7h1M74.2 211.0h1M96.1 229.9h1M47.1 189.8h1M71.2 220.0h1M105.1 233.0h1M135.0 205.4h1M111.4 182.1h1M124.8 191.5h1M127.8 206.2h1M152.2 223.8h1M113.8 195.2h1M148.2 219.3h1M139.0 214.5h1M128.0 195.7h1M83.1 194.5h1M91.7 186.1h1M66.1 170.0h1M92.5 197.2h1M91.5 197.0h1M72.0 195.8h1M82.9 191.4h1M97.6 202.7h1M71.7 164.3h1M97.3 216.2h1M101.1 184.9h1M83.6 189.4h1M108.8 239.3h1M92.1 199.5h1M131.6 242.7h1M63.3 159.6h1M112.8 202.9h1M107.3 225.4h1M59.8 173.4h1M102.1 178.3h1M70.3 180.9h1M86.1 181.1h1M83.8 184.4h1M118.1 245.1h1M79.8 190.0h1M84.7 191.8h1M57.0 155.7h1M38.5 161.2h1M55.6 160.4h1M76.7 183.7h1M69.0 185.8h1M66.6 177.5h1M40.6 162.6h1M35.7 159.8h1M61.2 187.9h1M64.0 169.0h1M70.4 180.8h1M58.7 162.7h1M77.8 187.8h1M72.4 189.5h1M59.1 169.8h1M42.2 156.2h1M79.9 182.6h1M50.3 170.7h1M58.2 174.0h1M60.6 194.9h1M225.5 216.1h1M182.2 222.8h1M56.1 174.8h1M96.4 178.9h1M161.6 197.2h1M226.8 234.1h1M40.5 228.7h1M48.9 165.7h1M68.3 156.4h1M71.1 152.4h1M60.8 218.7h1M241.9 238.6h1M99.5 215.5h1M190.3 223.9h1M94.0 221.1h1M54.8 236.4h1M79.9 181.8h1M95.5 223.1h1M194.8 225.4h1M143.6 218.7h1M157.3 230.5h1M148.5 221.1h1M134.6 155.9h1M89.2 212.4h1M92.0 174.9h1M39.3 200.2h1M189.2 203.3h1M73.0 219.1h1M220.4 226.9h1M66.7 162.8h1M120.9 215.0h1M150.5 194.4h1M176.8 191.6h1M49.3 209.2h1M66.8 205.1h1M142.2 153.7h1M247.8 244.6h1M214.1 214.2h1M200.5 232.2h1M135.0 166.2h1M55.1 161.1h1M42.9 213.4h1M161.3 211.4h1M44.9 150.1h1M223.9 220.3h1M179.7 177.7h1M76.2 191.8h1M138.2 180.7h1M174.5 180.4h1M82.6 225.3h1M132.4 198.6h1M139.1 199.6h1M55.7 229.2h1M145.9 200.2h1M241.4 155.7h1M178.0 130.0h1M170.9 109.5h1M290.0 132.3h1M184.6 180.1h1M281.3 139.3h1M168.0 174.0h1M187.5 132.2h1M294.0 189.4h1M188.5 133.2h1M211.2 186.9h1M265.4 161.9h1M142.5 119.1h1M216.8 150.8h1M252.2 161.3h1M206.4 144.0h1M236.6 165.0h1M297.7 149.0h1M149.9 139.3h1M268.1 167.1h1M163.6 113.9h1M237.6 125.3h1M215.8 155.3h1M161.1 163.1h1M145.5 102.5h1M283.8 153.4h1M262.6 117.6h1M298.4 198.1h1M196.6 154.2h1M186.8 182.5h1M157.3 121.7h1M140.3 155.5h1M162.8 122.9h1M239.4 162.6h1M289.5 194.6h1M248.8 157.9h1M160.2 140.1h1M281.0 180.7h1M150.1 167.1h1M206.5 141.6h1M247.8 156.7h1M183.5 138.2h1M288.6 115.8h1M154.8 107.5h1M146.2 157.5h1M148.1 136.2h1M201.9 123.8h1M271.4 191.3h1M132.3 131.0h1M256.4 129.2h1M261.6 157.8h1M268.5 186.3h1M267.3 179.4h1M270.2 121.3h1M274.3 183.1h1M171.2 132.2h1M160.6 134.2h1M228.4 173.4h1M275.1 197.1h1M284.5 124.4h1M211.5 121.7h1M165.0 172.1h1M234.7 163.1h1M211.1 166.6h1M248.4 182.6h1M165.8 136.4h1M231.1 143.0h1M226.8 119.9h1M253.3 162.0h1M239.9 119.9h1M235.8 164.1h1M288.6 129.1h1M191.8 113.6h1M205.6 122.3h1M298.5 188.2h1M221.3 188.3h1M218.2 155.8h1M214.4 195.7h1M347.7 110.3h1M352.2 101.7h1M354.6 122.8h1M378.1 87.6h1M378.0 94.8h1M392.5 66.2h1M391.1 77.2h1M402.4 64.0h1M414.3 60.3h1M401.1 111.2h1M407.0 106.5h1M435.9 71.3h1M452.5 69.1h1M460.1 77.5h1M444.3 111.9h1M450.9 105.8h1M449.4 110.3h1M469.1 72.3h1M465.9 75.2h1M465.7 86.1h1M456.4 104.8h1M481.1 82.0h1M489.1 74.3h1M473.4 109.4h1M478.4 113.6h1M483.2 106.1h1M505.9 70.5h1M496.7 99.1h1M504.7 110.2h1M515.0 90.1h1M517.2 112.5h1M400.0 64.4h1M403.7 53.6h1M420.0 63.8h1M422.9 68.5h1M424.2 58.4h1M431.1 65.0h1M459.2 69.9h1M472.9 67.4h1M475.2 66.4h1M488.4 76.1h1M491.7 77.1h1M495.0 66.9h1M504.0 69.5h1M513.4 75.1h1M516.3 81.2h1M521.2 74.6h1M532.8 80.5h1M532.0 64.5h1M530.7 70.8h1M530.7 80.5h1M536.2 100.1h1M529.3 69.0h1M529.3 71.4h1M531.9 81.6h1M527.5 87.5h1M528.0 78.8h1M525.2 86.0h1M529.9 74.6h1M529.5 111.7h1M529.5 114.5h1M522.3 135.3h1M522.6 136.3h1M525.0 124.8h1M525.4 133.8h1M526.7 116.2h1M523.5 132.5h1M524.7 101.8h1M527.2 113.3h1M531.2 101.6h1M524.0 142.9h1M521.9 141.6h1M523.0 145.3h1M524.0 147.6h1M518.6 165.8h1M520.9 168.7h1M523.5 159.5h1M515.8 171.4h1M523.8 146.7h1M524.9 143.4h1M518.5 162.8h1M519.0 153.5h1M516.8 185.1h1M515.4 199.7h1M524.5 179.4h1M511.8 195.3h1M513.0 187.4h1M518.8 175.2h1M508.6 186.8h1M513.7 202.6h1M515.6 182.2h1M517.3 204.6h1M510.3 206.3h1M510.1 208.8h1M507.2 211.1h1M506.9 220.2h1M509.2 210.9h1M511.8 215.2h1M506.2 217.6h1M507.6 215.8h1M511.7 140.3h1M513.2 126.0h1M501.0 152.3h1M508.2 135.7h1M506.5 130.3h1M508.6 135.4h1M504.9 144.6h1M501.9 133.2h1M512.7 146.8h1M504.6 141.1h1M482.4 185.3h1M493.0 183.1h1M492.9 177.7h1M496.7 165.5h1M492.4 182.9h1M498.6 157.9h1M502.3 163.0h1M474.2 217.7h1M469.4 218.4h1M476.7 207.0h1M476.3 205.1h1M454.5 230.4h1M464.7 222.5h1M443.0 236.0h1" stroke="#4a050a" stroke-width="1" fill="none"/>
<path d="M170.0 31.8h1M178.7 18.3h1M172.6 50.6h1M180.3 31.4h1M170.4 70.7h1M185.2 17.5h1M181.5 44.5h1M178.0 51.2h1M173.9 78.7h1M179.1 65.1h1M177.5 66.5h1M175.1 76.9h1M181.1 62.2h1M189.7 41.8h1M180.1 83.2h1M191.6 44.9h1M188.8 53.7h1M185.1 73.7h1M184.9 81.0h1M181.3 88.0h1M199.4 28.6h1M191.1 77.3h1M189.0 80.4h1M196.8 63.8h1M192.7 83.1h1M207.1 29.2h1M205.2 40.1h1M203.9 44.9h1M198.0 74.2h1M202.0 62.3h1M199.6 71.7h1M195.7 87.0h1M213.5 25.8h1M207.3 55.2h1M204.2 62.9h1M202.3 72.6h1M215.1 31.6h1M208.2 65.8h1M204.6 72.5h1M209.6 63.6h1M204.5 91.5h1M218.2 47.2h1M214.3 54.7h1M213.2 66.8h1M223.9 33.1h1M215.6 67.2h1M214.7 72.7h1M225.3 38.7h1M224.4 43.3h1M217.4 65.4h1M216.2 78.3h1M215.4 83.0h1M213.7 93.4h1M220.5 73.9h1M216.9 89.3h1M222.2 79.7h1M227.7 65.9h1M225.5 74.7h1M238.5 32.0h1M236.4 41.5h1M233.7 48.5h1M240.9 29.1h1M234.9 54.3h1M241.2 47.3h1M238.0 55.1h1M236.3 59.1h1M247.2 33.6h1M240.0 54.5h1M241.1 58.3h1M249.8 34.0h1M240.8 73.4h1M236.1 93.1h1M246.9 58.7h1M242.5 70.9h1M249.0 59.4h1M246.2 67.4h1M241.0 90.9h1M245.8 90.3h1M243.5 91.9h1M244.6 95.2h1M243.6 99.7h1M252.5 63.1h1M251.3 75.2h1M261.0 46.8h1M255.4 64.1h1M253.1 81.6h1M251.6 83.5h1M249.7 96.2h1M264.0 48.0h1M252.1 93.6h1M260.3 73.2h1M264.7 60.1h1M264.0 72.9h1M258.8 93.5h1M266.3 65.9h1M267.1 68.8h1M264.7 79.3h1M260.4 98.8h1M259.6 103.2h1M265.5 88.8h1M270.2 100.7h1M271.9 102.1h1M268.7 79.0h1M270.7 86.9h1M277.5 85.5h1M280.1 90.0h1M282.1 94.5h1M284.8 102.7h1M283.0 91.8h1M289.3 105.1h1M276.2 69.4h1M282.8 83.3h1M289.9 96.8h1M287.5 86.7h1M272.1 48.8h1M288.2 80.4h1M290.4 88.4h1M294.5 97.4h1M299.3 103.2h1M288.2 75.9h1M292.6 86.9h1M294.6 89.4h1M275.5 41.6h1M277.6 46.4h1M279.6 51.5h1M282.8 55.8h1M284.4 60.4h1M290.7 73.7h1M290.3 77.2h1M292.5 78.7h1M304.2 100.9h1M277.7 43.9h1M282.0 52.4h1M287.3 58.7h1M293.2 76.3h1M295.8 77.8h1M298.1 85.0h1M275.8 34.0h1M282.9 46.5h1M288.7 60.9h1M298.2 75.4h1M302.6 85.0h1M305.0 92.9h1M306.5 97.8h1M285.7 46.1h1M291.1 59.4h1M281.0 31.6h1M286.2 37.5h1M303.4 73.8h1M311.4 94.8h1M286.3 31.9h1M285.6 34.0h1M292.7 45.1h1M292.1 48.3h1M305.3 75.1h1M312.3 85.8h1M314.5 89.9h1M316.8 97.6h1M288.8 30.1h1M303.3 65.5h1M312.2 82.7h1M316.8 91.8h1M321.7 101.1h1M314.7 79.0h1M319.8 82.0h1M298.3 31.2h1M297.7 34.4h1M306.9 52.3h1M318.1 72.5h1M323.8 88.2h1M301.4 30.0h1M307.8 43.9h1M317.9 65.9h1M320.3 70.7h1M306.1 33.5h1M307.7 40.7h1M314.4 54.6h1M324.4 76.9h1M303.8 23.5h1M305.8 30.0h1M322.9 66.3h1M325.4 68.7h1M327.9 75.6h1M329.3 77.2h1M329.3 80.1h1M314.0 42.5h1M323.8 57.5h1M319.7 45.9h1M328.4 62.0h1M332.8 70.3h1M332.4 73.7h1M337.0 79.4h1M339.1 83.8h1M343.5 93.6h1M315.7 31.7h1M319.6 40.6h1M322.0 35.9h1M327.1 47.8h1M333.4 62.4h1M335.4 66.0h1M337.8 70.7h1M344.1 84.8h1M329.7 44.1h1M338.2 62.9h1M318.6 15.2h1M318.7 18.9h1M322.5 28.0h1M327.9 36.8h1M329.3 38.8h1M342.9 65.6h1M329.8 33.1h1M331.9 37.8h1M332.2 39.6h1M323.7 15.6h1M334.5 38.8h1M339.4 45.4h1M333.3 19.8h1M332.5 22.6h1M342.1 37.7h1M333.3 14.3h1M342.4 32.1h1M335.3 12.7h1M337.7 20.5h1M336.4 10.5h1M339.0 14.4h1M37.6 51.6h1M48.8 41.8h1M46.5 43.9h1M51.2 46.6h1M46.5 63.6h1M55.7 60.8h1M66.0 46.7h1M49.0 80.7h1M36.2 104.5h1M87.2 21.1h1M69.5 52.8h1M63.4 75.8h1M54.1 92.2h1M46.6 105.0h1M58.4 92.9h1M73.2 78.3h1M109.9 16.3h1M109.0 19.4h1M92.8 51.2h1M86.1 61.9h1M81.2 68.4h1M111.3 18.3h1M79.0 80.4h1M115.5 23.4h1M103.9 43.2h1M95.9 56.1h1M121.7 16.0h1M92.0 70.9h1M77.3 94.7h1M74.7 102.5h1M121.7 32.4h1M124.0 34.6h1M92.5 88.2h1M137.4 15.7h1M135.3 16.4h1M124.5 45.0h1M130.5 44.4h1M126.5 46.9h1M121.8 56.4h1M111.8 72.7h1M140.9 50.8h1M162.2 17.6h1M126.9 79.5h1M153.2 43.0h1M147.7 51.0h1M145.4 59.4h1M130.1 81.4h1M167.8 23.7h1M138.3 75.6h1M136.7 81.8h1M159.6 54.2h1M155.7 55.5h1M150.9 69.8h1M168.3 44.9h1M152.3 77.7h1M146.4 85.0h1M161.3 75.4h1M167.7 79.7h1M126.7 130.6h1M64.5 128.2h1M54.5 115.2h1M134.7 125.2h1M132.8 107.1h1M108.8 130.4h1M53.3 129.7h1M45.6 122.5h1M81.8 117.0h1M146.1 115.9h1M94.0 114.3h1M60.1 113.3h1M126.4 126.1h1M120.1 102.6h1M64.6 129.7h1M122.1 131.6h1M120.7 123.3h1M44.1 147.6h1M129.6 122.1h1M61.2 144.0h1M45.7 143.7h1M89.0 145.7h1M126.0 109.0h1M68.4 124.9h1M126.9 122.1h1M140.9 127.1h1M55.1 150.2h1M51.0 143.6h1M114.4 215.5h1M83.6 159.6h1M76.2 157.3h1M96.1 190.8h1M105.4 223.3h1M78.0 158.4h1M88.6 179.4h1M90.6 185.2h1M92.2 191.1h1M89.0 179.6h1M110.5 217.6h1M74.9 158.5h1M84.3 169.5h1M102.6 199.7h1M81.3 160.2h1M85.4 179.8h1M98.1 198.9h1M100.6 197.5h1M111.1 224.3h1M100.2 203.0h1M110.1 216.9h1M95.5 197.2h1M109.4 224.3h1M89.1 186.7h1M82.8 161.7h1M114.7 222.5h1M41.0 192.6h1M49.0 194.5h1M46.0 190.7h1M40.3 185.2h1M63.8 207.0h1M73.7 212.1h1M90.9 235.3h1M45.5 199.2h1M68.2 212.6h1M37.6 188.0h1M55.9 202.0h1M44.1 188.0h1M37.8 180.2h1M104.2 234.8h1M107.3 241.7h1M69.7 213.1h1M80.3 218.3h1M41.6 187.5h1M81.2 230.8h1M53.4 197.5h1M76.9 215.3h1M38.3 181.7h1M132.9 203.0h1M141.9 212.4h1M108.0 185.1h1M131.9 213.2h1M140.7 215.4h1M144.5 224.4h1M123.3 202.3h1M124.4 196.1h1M115.6 191.9h1M127.5 197.8h1M128.3 204.7h1M144.5 210.9h1M105.8 187.1h1M126.2 200.1h1M65.7 164.9h1M73.3 157.0h1M110.7 207.6h1M119.3 215.8h1M108.1 216.8h1M76.0 157.5h1M116.0 211.6h1M106.0 170.8h1M109.3 233.4h1M58.2 157.5h1M122.2 219.8h1M126.5 239.9h1M74.7 182.9h1M106.8 237.9h1M89.4 179.9h1M61.7 163.6h1M97.5 175.5h1M63.0 160.2h1M89.5 199.1h1M70.0 159.6h1M82.3 192.1h1M118.5 210.2h1M135.4 225.2h1M163.0 165.5h1M67.9 152.2h1M98.4 185.7h1M53.8 211.6h1M187.8 234.3h1M38.9 199.8h1M68.4 164.9h1M161.9 239.6h1M64.8 233.4h1M44.4 178.1h1M52.3 226.1h1M118.2 230.0h1M153.0 193.4h1M178.7 204.4h1M185.7 212.7h1M94.2 195.3h1M91.0 194.4h1M68.3 236.2h1M179.5 192.7h1M170.5 193.6h1M75.9 193.1h1M115.9 197.3h1M55.4 233.6h1M192.8 223.7h1M38.6 235.9h1M66.2 226.7h1M144.0 240.2h1M45.0 194.5h1M55.2 187.7h1M197.3 227.4h1M402.0 39.6h1M407.4 11.4h1M404.8 26.0h1M406.3 34.3h1M406.6 36.5h1M411.5 10.0h1M408.9 40.8h1M412.6 18.7h1M414.2 23.0h1M410.7 50.5h1M419.1 12.8h1M417.0 15.3h1M416.6 22.7h1M417.3 41.4h1M416.4 53.5h1M417.7 47.8h1M425.8 9.9h1M424.4 11.5h1M424.2 22.1h1M422.8 37.9h1M420.3 44.2h1M420.1 48.0h1M426.4 22.0h1M424.9 34.4h1M426.9 28.6h1M426.3 42.8h1M430.4 20.3h1M430.9 26.4h1M428.4 42.7h1M434.1 14.6h1M432.6 27.0h1M431.0 38.8h1M428.6 53.2h1M431.8 55.1h1M439.0 11.7h1M437.4 23.8h1M437.4 27.4h1M436.1 39.7h1M434.8 47.6h1M434.1 55.8h1M438.9 32.0h1M443.0 20.2h1M441.6 28.1h1M440.0 34.2h1M439.2 37.9h1M437.5 54.0h1M445.7 22.5h1M446.4 49.1h1M444.1 54.6h1M452.4 12.7h1M452.3 17.3h1M451.2 25.4h1M453.4 15.2h1M452.1 37.7h1M449.6 47.0h1M450.3 53.5h1M448.8 55.8h1M456.9 18.0h1M453.7 31.6h1M460.2 9.7h1M458.1 25.6h1M456.9 50.1h1M461.5 24.4h1M460.3 36.7h1M459.4 54.5h1M464.0 20.7h1M462.9 32.8h1M467.0 13.0h1M466.6 26.8h1M464.9 32.8h1M465.8 35.3h1M463.0 49.3h1M469.3 13.1h1M467.8 24.9h1M467.7 29.3h1M471.7 17.4h1M471.4 27.4h1M470.0 35.5h1M467.1 53.6h1M475.8 11.6h1M473.2 31.8h1M470.3 46.1h1M469.7 56.1h1M476.6 9.5h1M473.2 38.4h1M474.2 44.6h1M471.9 49.7h1M478.7 13.8h1M482.7 8.9h1M480.7 18.1h1M479.9 22.1h1M479.6 32.4h1M477.1 46.5h1M476.3 54.5h1M484.6 8.5h1M484.8 12.5h1M481.2 31.0h1M480.4 35.1h1M480.7 44.9h1M480.0 52.7h1M478.2 55.0h1M487.6 15.2h1M487.7 25.2h1M484.8 45.7h1M483.4 61.6h1M490.7 18.0h1M489.1 19.5h1M489.0 29.5h1M484.6 59.8h1M493.0 14.1h1M490.6 27.7h1M490.3 32.0h1M489.4 39.9h1M488.1 54.3h1M487.4 56.1h1M495.4 28.2h1M492.4 52.5h1M500.2 10.5h1M499.4 12.8h1M497.8 24.7h1M498.6 27.2h1M495.8 40.5h1M501.2 22.8h1M499.9 35.5h1M503.9 9.3h1M505.2 11.4h1M504.3 15.2h1M501.8 25.4h1M501.6 39.7h1M506.2 9.3h1M505.9 19.9h1M505.2 21.5h1M501.5 49.5h1M500.2 57.7h1M504.8 47.7h1M504.0 50.2h1M513.1 16.1h1M513.3 20.3h1M511.3 25.9h1M514.2 22.9h1M511.7 52.8h1M515.4 41.2h1M520.7 13.5h1M514.8 51.0h1M515.6 57.1h1M515.0 61.6h1M513.3 63.2h1M521.9 15.2h1M520.5 23.6h1M515.0 67.2h1M524.8 17.8h1M524.0 21.6h1M521.2 45.4h1M526.0 15.7h1M525.7 19.7h1M526.5 21.9h1M525.7 30.3h1M524.0 41.7h1M521.0 60.2h1M521.7 62.2h1M520.9 65.8h1M529.8 10.0h1M529.4 14.2h1M527.1 27.8h1M526.0 42.6h1M523.5 56.5h1M523.4 66.5h1M530.4 16.0h1M528.2 46.6h1M526.2 48.6h1M526.8 54.7h1M525.2 70.4h1M533.8 8.2h1M534.5 10.4h1M530.1 40.9h1M528.5 58.6h1M534.5 26.6h1M533.8 35.0h1M530.2 67.7h1M535.1 33.5h1M535.1 47.1h1M533.9 51.2h1M531.9 71.5h1M533.9 61.3h1M407.9 57.7h1M409.6 66.3h1M413.8 63.7h1M525.0 73.9h1M530.1 71.5h1M533.9 79.0h1M529.1 95.6h1M534.1 73.0h1M531.3 71.2h1M531.6 71.8h1M529.2 80.5h1M532.7 68.4h1M532.8 76.1h1M530.6 62.3h1M526.8 64.5h1M529.8 88.1h1M534.4 71.5h1M525.7 133.5h1M529.5 132.2h1M522.2 136.0h1M528.7 122.2h1M522.1 126.0h1M527.2 125.1h1M525.4 118.3h1M532.6 110.6h1M520.4 135.8h1M525.5 122.8h1M528.0 102.2h1M525.0 128.2h1M525.9 111.6h1M528.3 126.3h1M531.6 106.0h1M525.2 139.7h1M524.7 117.1h1M514.7 166.8h1M525.5 141.5h1M521.3 169.9h1M518.4 161.9h1M515.4 167.2h1M523.6 154.0h1M522.2 165.2h1M521.9 140.6h1M517.6 160.8h1M512.7 179.4h1M515.4 178.2h1M511.8 176.0h1M510.2 192.9h1M517.1 195.4h1M457.3 236.7h1M442.8 242.3h1M452.2 244.8h1M436.4 242.9h1M436.8 241.6h1" stroke="#c8141e" stroke-width="1" fill="none"/>
<path d="M174.6 22.9h1M177.5 22.6h1M175.4 25.4h1M174.9 29.6h1M170.0 57.4h1M176.6 38.8h1M171.8 55.2h1M171.2 63.4h1M183.5 19.2h1M177.8 41.6h1M172.8 68.4h1M172.2 73.3h1M171.1 78.1h1M182.5 40.0h1M181.0 52.6h1M176.7 74.1h1M176.6 79.6h1M188.6 27.9h1M190.4 30.8h1M182.1 57.9h1M179.3 71.9h1M179.8 75.6h1M177.6 77.3h1M175.3 87.5h1M193.0 23.9h1M188.9 43.8h1M187.3 48.4h1M184.8 58.5h1M186.1 61.5h1M184.8 65.5h1M181.6 73.2h1M186.1 71.7h1M199.0 20.2h1M198.5 25.3h1M194.2 47.4h1M188.6 77.2h1M202.8 23.5h1M200.4 30.5h1M196.8 52.7h1M193.8 55.3h1M191.8 65.2h1M190.5 70.1h1M204.5 21.1h1M191.7 80.3h1M189.7 90.3h1M207.4 22.4h1M206.7 34.8h1M203.2 41.6h1M196.7 78.9h1M194.4 81.6h1M204.9 55.3h1M200.5 67.5h1M201.7 69.3h1M200.2 74.3h1M210.9 40.4h1M208.0 47.8h1M206.4 60.2h1M203.3 74.9h1M198.1 87.2h1M217.8 22.0h1M206.5 71.3h1M218.6 24.1h1M207.2 80.7h1M219.0 43.2h1M209.5 79.8h1M206.7 89.0h1M224.7 29.1h1M219.6 46.0h1M218.8 49.9h1M218.9 53.1h1M216.7 60.3h1M211.7 80.1h1M213.3 82.6h1M221.7 46.3h1M226.3 49.8h1M222.1 62.1h1M218.2 76.4h1M231.6 27.5h1M230.1 48.2h1M229.6 52.3h1M227.7 62.7h1M222.8 89.8h1M236.1 33.2h1M234.1 44.0h1M226.9 85.7h1M235.5 48.8h1M231.3 68.6h1M227.1 96.6h1M242.9 30.4h1M243.1 37.8h1M240.2 40.1h1M240.1 44.8h1M236.0 64.1h1M235.5 71.9h1M230.7 91.9h1M243.8 43.5h1M243.9 47.9h1M234.7 79.4h1M232.8 89.8h1M231.0 94.9h1M232.8 96.9h1M243.8 58.2h1M242.7 64.0h1M241.9 68.4h1M237.5 88.0h1M235.6 98.0h1M244.6 60.8h1M242.5 78.4h1M240.3 80.5h1M239.2 86.2h1M236.7 95.5h1M252.5 44.6h1M243.5 76.7h1M243.2 88.8h1M242.2 94.5h1M247.8 71.9h1M258.3 45.7h1M256.2 55.6h1M254.2 66.3h1M249.7 77.5h1M245.0 97.9h1M251.7 78.8h1M252.1 85.9h1M248.9 101.1h1M259.7 62.7h1M255.5 79.5h1M251.9 101.2h1M263.6 58.0h1M263.3 63.4h1M258.8 82.0h1M257.2 87.0h1M256.1 89.7h1M257.0 92.0h1M253.5 99.6h1M267.0 51.0h1M260.2 80.8h1M261.1 83.6h1M257.1 102.2h1M262.8 81.5h1M260.4 95.9h1M259.2 101.1h1M264.8 86.4h1M262.3 100.9h1M265.5 97.5h1M272.7 97.3h1M276.2 105.6h1M273.0 90.3h1M277.3 97.4h1M271.0 80.3h1M272.7 85.7h1M275.7 89.6h1M279.8 95.8h1M268.8 70.8h1M276.3 81.2h1M279.0 80.3h1M280.2 87.5h1M283.9 96.2h1M279.2 77.4h1M280.5 79.1h1M289.9 99.8h1M293.6 105.8h1M270.2 53.2h1M290.0 91.2h1M270.2 47.4h1M276.5 60.8h1M278.8 62.6h1M281.5 70.0h1M285.9 79.1h1M287.9 83.9h1M292.4 90.3h1M275.1 47.4h1M297.1 96.2h1M301.7 104.7h1M282.7 58.9h1M284.7 63.2h1M287.0 65.1h1M299.1 92.0h1M303.7 104.4h1M282.7 50.5h1M286.9 61.6h1M299.9 86.4h1M306.4 99.7h1M289.0 57.8h1M293.5 66.4h1M300.3 80.7h1M281.1 34.5h1M282.7 42.1h1M285.2 42.6h1M290.2 55.0h1M303.2 79.4h1M304.8 86.5h1M309.7 95.9h1M311.9 96.9h1M315.6 106.8h1M288.0 44.4h1M289.9 46.4h1M289.7 49.0h1M292.6 54.1h1M309.7 89.5h1M294.9 49.3h1M301.4 63.8h1M311.3 88.6h1M297.3 48.7h1M305.2 69.2h1M316.9 89.8h1M319.8 94.0h1M319.5 96.8h1M295.2 38.0h1M310.6 70.0h1M314.9 82.0h1M321.2 96.0h1M325.8 101.7h1M326.3 104.3h1M295.1 35.8h1M306.6 54.9h1M308.2 59.4h1M315.2 76.2h1M319.3 85.0h1M326.1 99.3h1M296.4 26.6h1M302.5 42.5h1M309.0 54.0h1M330.9 101.6h1M309.4 50.4h1M313.4 60.1h1M322.9 75.2h1M324.3 82.3h1M333.1 101.1h1M301.0 24.6h1M318.6 60.7h1M318.1 63.8h1M323.3 69.0h1M335.9 97.0h1M312.9 41.3h1M316.6 53.1h1M320.8 61.9h1M332.2 81.3h1M336.2 94.1h1M306.5 22.2h1M312.4 35.8h1M323.8 61.3h1M336.5 88.4h1M341.2 96.5h1M343.1 99.0h1M312.5 29.8h1M330.2 66.2h1M330.1 69.5h1M315.2 28.1h1M322.1 45.5h1M324.0 49.1h1M329.1 56.1h1M324.3 38.2h1M331.5 51.9h1M334.2 53.0h1M337.5 65.1h1M344.0 75.6h1M321.2 23.6h1M324.7 31.9h1M331.7 42.6h1M332.0 46.2h1M340.3 61.2h1M322.8 22.1h1M326.0 23.7h1M334.1 45.1h1M336.2 46.1h1M343.2 62.1h1M327.5 22.1h1M334.3 35.9h1M344.0 48.6h1M344.2 51.5h1M339.3 30.3h1M342.8 23.8h1M38.5 62.1h1M55.1 44.3h1M49.5 61.4h1M72.3 23.1h1M49.6 68.8h1M70.1 38.2h1M55.8 65.2h1M51.9 66.3h1M47.5 77.1h1M72.0 37.0h1M51.8 77.3h1M63.2 68.9h1M61.9 74.0h1M45.0 102.0h1M86.2 34.6h1M82.0 48.3h1M66.2 75.1h1M54.4 95.4h1M100.3 21.0h1M104.6 19.9h1M101.5 25.7h1M69.4 81.9h1M68.0 87.6h1M103.0 30.0h1M93.0 54.4h1M90.1 67.7h1M110.8 40.0h1M105.7 42.6h1M99.1 57.3h1M89.9 76.6h1M106.5 48.4h1M95.9 74.3h1M93.6 74.9h1M117.9 37.6h1M114.8 40.7h1M118.3 41.6h1M110.9 60.8h1M121.9 43.9h1M106.6 73.5h1M100.5 80.3h1M135.9 24.5h1M135.7 26.4h1M130.7 34.0h1M128.8 37.8h1M95.2 97.7h1M139.2 25.4h1M129.0 41.3h1M115.3 70.2h1M113.5 75.7h1M130.6 52.1h1M143.8 38.0h1M116.3 87.2h1M124.0 78.4h1M132.1 69.6h1M166.8 17.0h1M161.5 28.9h1M159.6 30.2h1M149.0 49.1h1M133.2 77.8h1M152.6 47.0h1M154.1 56.7h1M165.2 40.5h1M158.5 59.2h1M167.2 51.1h1M160.5 58.8h1M157.3 78.9h1M169.4 63.6h1M167.4 73.0h1M164.4 74.3h1M38.1 115.9h1M69.2 107.7h1M93.2 102.3h1M97.9 109.2h1M102.6 99.3h1M107.5 103.9h1M109.8 102.8h1M108.0 112.9h1M105.4 116.5h1M112.9 102.9h1M123.1 95.5h1M124.6 102.5h1M126.2 107.6h1M139.9 99.0h1M132.8 110.6h1M140.9 96.4h1M141.2 103.2h1M146.6 101.1h1M150.2 99.2h1M149.3 109.2h1M164.1 112.3h1M167.7 111.3h1M190.6 91.2h1M186.7 108.4h1M197.8 97.3h1M206.2 97.7h1M246.3 110.0h1M263.5 116.5h1M268.6 111.4h1M269.9 127.4h1M278.5 118.0h1M284.7 111.7h1M288.2 125.3h1M294.6 112.7h1M292.8 125.6h1M294.8 127.8h1M306.7 127.1h1M313.1 108.4h1M311.9 117.6h1M314.9 117.2h1M328.5 104.7h1M330.7 109.6h1M326.8 120.9h1M335.7 119.6h1M332.7 122.9h1M342.4 123.3h1M94.7 135.1h1M92.4 140.3h1M68.2 143.2h1M38.4 136.3h1M106.1 138.8h1M142.0 106.0h1M107.4 118.5h1M125.6 120.8h1M37.3 150.8h1M104.8 133.5h1M98.7 128.6h1M58.3 125.2h1M100.0 108.8h1M127.0 127.6h1M72.1 134.1h1M72.2 147.4h1M99.4 107.7h1M92.0 134.2h1M91.5 134.3h1M115.9 133.0h1M86.6 148.2h1M87.3 146.5h1M103.0 129.5h1M66.2 140.3h1M139.4 121.0h1M143.8 123.5h1M132.7 107.9h1M38.0 134.3h1M49.8 151.3h1M117.5 111.1h1M87.8 224.7h1M101.0 235.3h1M83.8 222.6h1M56.2 204.2h1M54.7 197.7h1M51.4 195.7h1M59.8 204.5h1M85.9 223.5h1M104.6 245.2h1M82.1 214.6h1M73.5 223.1h1M40.6 181.5h1M37.2 181.9h1M66.9 208.3h1M38.4 185.8h1M56.5 199.3h1M88.8 227.2h1M149.8 222.2h1M144.9 216.0h1M140.5 217.8h1M121.3 193.5h1M122.5 192.0h1M142.7 211.5h1M138.7 214.4h1M123.3 197.1h1M132.6 213.2h1M137.4 218.2h1M119.6 193.6h1M139.6 212.8h1M106.7 185.1h1M130.0 195.8h1M138.5 217.5h1M141.3 219.8h1M151.7 224.5h1M84.0 201.9h1M115.3 233.1h1M100.4 202.0h1M123.6 228.2h1M117.7 230.4h1M124.6 242.7h1M133.4 238.1h1M135.6 237.9h1M54.5 154.2h1M107.1 235.1h1M51.9 157.9h1M74.3 182.8h1M97.7 189.9h1M134.5 231.5h1M109.0 195.2h1M67.1 162.8h1M91.6 186.7h1M91.4 196.1h1M108.1 217.9h1M95.7 185.6h1M80.1 184.6h1M70.2 169.9h1M79.2 209.2h1M73.5 182.4h1M69.2 170.4h1M39.6 161.3h1M37.9 158.4h1M48.1 158.3h1M72.1 179.8h1M45.9 149.1h1M50.4 163.5h1M67.9 167.9h1M57.4 169.7h1M68.9 179.2h1M64.3 181.0h1M48.3 163.2h1M54.7 160.9h1M74.7 177.2h1M46.9 150.5h1M69.9 184.4h1M67.2 184.0h1M38.1 148.0h1M58.5 172.9h1M53.7 173.5h1M50.2 170.0h1M51.8 154.5h1M65.9 174.5h1M50.2 156.0h1M58.9 158.9h1M36.4 155.3h1M43.4 162.1h1M36.5 150.4h1M64.6 187.0h1M75.9 174.8h1M51.9 162.6h1M88.6 219.1h1M131.2 238.6h1M126.2 208.3h1M231.7 242.5h1M95.9 207.2h1M46.2 171.1h1M69.2 216.2h1M88.7 227.4h1M42.9 172.2h1M137.2 162.5h1M164.3 243.4h1M53.9 229.7h1M65.9 182.0h1M127.0 192.1h1M182.2 186.1h1M185.5 217.0h1M69.4 162.1h1M159.0 163.0h1M123.8 241.1h1M57.0 215.8h1M78.7 190.2h1M43.9 180.4h1M112.0 208.0h1M135.4 222.5h1M109.3 237.7h1M123.4 228.3h1M198.0 228.0h1M96.7 170.1h1M69.3 226.9h1M108.4 199.2h1M44.2 243.9h1M171.9 209.3h1M44.5 188.1h1M189.4 243.2h1M73.4 181.2h1M84.0 242.0h1M164.9 112.9h1M157.6 141.7h1M243.2 186.9h1M152.2 151.7h1M228.2 113.7h1M284.3 146.0h1M212.5 158.0h1M179.7 155.8h1M234.8 178.0h1M270.2 144.3h1M245.5 127.4h1M214.2 127.7h1M165.6 112.4h1M230.4 144.7h1M130.6 104.1h1M142.2 135.3h1M202.9 169.4h1M228.5 165.9h1M169.3 147.3h1M163.3 127.7h1M287.5 194.2h1M146.8 115.5h1M272.1 178.3h1M286.3 162.8h1M213.8 134.8h1M171.0 144.1h1M262.3 136.1h1M169.5 140.8h1M263.8 134.2h1M136.0 156.0h1M265.0 195.8h1M292.7 194.4h1M125.2 142.3h1M250.7 143.4h1M294.4 191.0h1M148.2 160.1h1M255.3 179.3h1M247.6 165.0h1M151.0 130.7h1M244.8 198.1h1M217.2 120.1h1M228.1 189.3h1M289.0 123.2h1M282.5 155.9h1M254.7 186.2h1M219.9 173.8h1M192.2 174.7h1M201.1 132.1h1M166.8 108.7h1M164.0 132.1h1M262.9 132.1h1M278.8 131.2h1M293.5 140.5h1M120.2 130.8h1M191.5 108.0h1M270.3 155.1h1M168.6 148.1h1M289.4 159.8h1M252.4 138.0h1M235.2 168.6h1M245.8 164.5h1M226.9 147.4h1M217.9 126.7h1M165.4 148.5h1M279.7 122.9h1M233.4 149.4h1M174.8 131.8h1M221.5 111.9h1M268.0 179.4h1M290.9 129.6h1M278.2 155.9h1M281.9 134.9h1M269.8 115.6h1M278.6 145.4h1M187.0 138.3h1M252.9 198.2h1M125.2 103.1h1M250.8 129.6h1M262.3 133.3h1M257.8 196.3h1M185.5 148.9h1M183.7 182.8h1M203.8 166.9h1M199.1 110.1h1M412.2 67.0h1M424.8 64.2h1M427.7 60.0h1M429.6 63.0h1M437.1 60.2h1M457.5 65.8h1M483.2 63.8h1M498.7 77.4h1M524.4 83.3h1M530.9 76.0h1M535.5 90.7h1M532.8 78.0h1M525.0 93.8h1M531.4 81.8h1M529.0 92.0h1M532.6 66.7h1M532.1 62.2h1M534.0 70.6h1M530.2 89.1h1M530.1 71.9h1M526.8 97.1h1M528.9 93.1h1M534.9 92.1h1M531.2 138.4h1M527.3 118.1h1M526.5 121.3h1M530.6 116.2h1M532.0 126.5h1M528.9 117.5h1M530.9 118.4h1M527.8 112.3h1M529.9 107.6h1M520.5 139.0h1M520.6 136.7h1M526.4 107.0h1M527.0 121.4h1M530.0 123.8h1M525.7 132.4h1M526.0 130.4h1M528.9 109.8h1M531.0 107.7h1M527.5 122.9h1M516.3 163.4h1M517.9 158.2h1M515.4 166.5h1M522.1 175.4h1M523.7 140.2h1M522.0 148.8h1M526.6 143.8h1M516.8 162.3h1M523.2 172.5h1M526.6 156.7h1M510.5 203.9h1M515.0 178.6h1M516.8 183.9h1M513.8 196.7h1M507.8 200.9h1M517.0 190.2h1M516.1 177.7h1M512.4 186.5h1M516.6 188.0h1M510.6 189.2h1M508.8 199.2h1M510.6 193.4h1M513.6 195.6h1M509.3 196.3h1M508.2 198.6h1M512.3 195.6h1M506.4 206.1h1M507.9 218.6h1M509.0 219.2h1M503.7 220.9h1M507.0 121.6h1M508.1 124.1h1M498.5 149.0h1M507.5 138.7h1M506.1 123.8h1M501.5 162.4h1M498.8 165.1h1M494.3 167.4h1M498.9 156.1h1M491.8 192.4h1M503.2 171.3h1M483.0 190.1h1M494.3 185.1h1M506.6 158.2h1M491.7 173.8h1M488.3 200.1h1M482.9 203.8h1M475.4 223.3h1M443.7 228.1h1M444.7 229.1h1M439.2 234.2h1M440.0 231.2h1M440.3 233.6h1M443.0 230.9h1M445.0 232.7h1M453.9 222.1h1M446.6 236.8h1M463.0 217.6h1" stroke="#6a080e" stroke-width="1" fill="none"/>
<path d="M173.8 27.4h1M171.7 30.0h1M172.1 32.5h1M171.4 37.4h1M177.9 15.8h1M174.9 33.2h1M172.6 39.5h1M182.6 16.8h1M185.4 24.5h1M181.9 32.0h1M176.6 56.3h1M173.3 71.8h1M171.7 83.9h1M189.8 20.1h1M182.5 50.6h1M180.0 57.0h1M178.4 69.4h1M177.0 71.5h1M174.7 84.0h1M189.9 23.4h1M186.6 38.5h1M180.5 67.8h1M181.1 70.8h1M177.4 82.0h1M178.0 85.2h1M194.2 18.8h1M193.9 26.5h1M189.5 38.3h1M188.9 46.9h1M187.7 51.1h1M197.2 22.3h1M192.8 38.8h1M190.4 52.2h1M183.0 78.6h1M196.8 37.7h1M195.0 39.8h1M189.2 72.7h1M187.7 74.1h1M201.6 28.4h1M201.1 33.5h1M196.9 44.9h1M195.3 50.6h1M204.0 27.0h1M204.4 29.5h1M199.7 46.2h1M199.7 53.4h1M197.5 58.5h1M194.9 73.3h1M204.0 36.3h1M198.1 68.5h1M195.0 76.1h1M195.2 83.3h1M209.3 35.4h1M205.8 49.6h1M204.3 51.8h1M202.4 65.3h1M198.5 79.8h1M211.8 36.3h1M208.1 51.2h1M205.1 57.4h1M204.9 65.9h1M200.7 76.8h1M207.5 62.8h1M203.5 77.6h1M203.5 85.2h1M220.9 22.1h1M214.9 46.7h1M213.3 48.6h1M211.6 53.5h1M211.5 61.2h1M209.4 71.3h1M206.6 79.0h1M218.4 35.3h1M212.1 72.5h1M210.4 77.4h1M209.4 82.0h1M222.9 31.0h1M221.4 35.0h1M220.7 40.4h1M212.7 74.6h1M213.3 77.1h1M211.8 87.9h1M210.3 92.5h1M227.2 28.7h1M225.6 31.1h1M226.8 33.8h1M219.7 70.7h1M216.3 86.0h1M231.8 35.5h1M228.1 46.8h1M224.0 69.0h1M218.2 94.2h1M231.5 50.2h1M228.4 58.0h1M224.1 76.9h1M221.6 87.7h1M237.7 29.3h1M237.9 36.3h1M229.7 63.7h1M231.3 65.7h1M225.4 90.1h1M223.4 92.7h1M239.9 34.2h1M236.5 44.5h1M236.0 56.4h1M233.6 66.3h1M232.1 71.3h1M230.1 73.6h1M229.1 78.5h1M239.9 53.0h1M237.3 62.1h1M231.6 86.6h1M245.6 31.1h1M245.3 35.3h1M245.5 38.1h1M245.9 40.8h1M241.6 60.6h1M240.8 65.4h1M235.1 89.9h1M251.2 31.7h1M251.3 39.3h1M249.9 44.9h1M247.8 54.3h1M240.2 88.8h1M254.2 32.6h1M248.8 64.3h1M243.4 81.2h1M258.0 35.7h1M254.7 50.6h1M252.9 55.9h1M250.8 57.4h1M252.6 60.6h1M250.1 70.0h1M246.0 82.3h1M259.9 36.0h1M259.3 51.3h1M256.9 66.2h1M247.7 98.1h1M263.2 40.0h1M261.1 54.5h1M261.9 56.8h1M258.2 71.6h1M253.5 83.9h1M264.7 50.9h1M261.0 65.5h1M259.3 77.9h1M258.2 79.3h1M268.0 53.3h1M265.7 63.3h1M257.7 90.3h1M266.9 73.5h1M270.1 93.0h1M272.8 88.9h1M275.1 95.2h1M282.2 106.6h1M268.8 76.4h1M269.1 67.3h1M278.1 88.6h1M269.7 61.9h1M269.1 65.2h1M273.6 74.3h1M280.5 85.0h1M286.9 100.5h1M275.7 72.6h1M282.6 85.9h1M284.8 90.5h1M269.6 50.3h1M276.5 64.2h1M281.3 72.9h1M287.9 90.0h1M294.0 101.0h1M272.4 52.1h1M279.4 65.6h1M297.0 99.1h1M296.4 102.1h1M275.4 50.4h1M285.7 70.7h1M290.9 80.1h1M292.4 84.0h1M294.4 92.2h1M299.2 97.5h1M271.3 36.3h1M277.3 50.0h1M306.2 105.7h1M284.3 58.0h1M289.0 64.3h1M308.7 103.9h1M300.3 84.0h1M309.1 101.1h1M311.6 103.2h1M310.9 106.5h1M286.9 50.6h1M294.5 64.0h1M300.7 74.9h1M306.6 91.0h1M313.4 101.8h1M282.8 35.2h1M292.6 51.2h1M293.8 58.2h1M296.6 60.5h1M298.8 64.1h1M298.9 66.9h1M302.7 76.6h1M307.7 82.1h1M313.9 99.8h1M284.0 29.5h1M287.6 36.2h1M288.4 38.6h1M306.0 72.0h1M308.2 79.8h1M309.5 84.8h1M319.4 99.8h1M321.4 103.6h1M304.1 61.5h1M306.4 66.4h1M299.6 50.2h1M304.8 56.6h1M310.0 72.5h1M323.8 100.5h1M293.1 27.5h1M304.7 50.6h1M308.5 62.0h1M316.1 73.4h1M296.3 29.7h1M309.0 56.9h1M315.5 67.4h1M315.6 70.4h1M322.5 80.5h1M326.0 93.0h1M304.7 39.3h1M318.4 69.0h1M329.1 91.4h1M329.4 86.2h1M336.5 99.6h1M310.7 39.7h1M310.1 33.4h1M313.0 38.6h1M327.9 67.2h1M332.3 76.4h1M339.0 92.5h1M306.3 18.7h1M310.7 25.2h1M312.9 32.4h1M322.0 50.4h1M339.2 87.6h1M308.2 17.7h1M311.8 19.6h1M321.6 41.9h1M326.4 50.6h1M328.5 58.2h1M334.8 72.4h1M341.4 86.1h1M320.5 31.2h1M331.2 56.6h1M314.0 15.8h1M318.7 24.6h1M320.3 26.3h1M320.7 28.6h1M324.8 34.7h1M331.8 49.0h1M335.8 61.2h1M340.4 66.5h1M316.3 13.8h1M328.2 34.2h1M333.6 47.8h1M335.9 52.4h1M339.1 56.7h1M338.6 59.4h1M341.0 64.0h1M322.0 14.8h1M328.0 28.7h1M327.7 31.6h1M330.5 26.7h1M331.1 21.4h1M333.5 25.6h1M336.9 38.1h1M338.8 41.9h1M344.1 42.4h1M333.6 16.9h1M333.4 11.8h1M336.3 15.5h1M337.8 17.5h1M339.9 21.8h1M342.5 26.5h1M338.7 11.4h1M340.5 19.1h1M341.2 8.2h1" stroke="#90101a" stroke-width="1" fill="none"/>
<path d="M170.6 35.0h1M176.9 30.7h1M175.9 36.0h1M174.1 48.2h1M178.1 44.0h1M176.5 53.8h1M173.7 64.1h1M171.8 65.7h1M183.2 34.2h1M181.1 36.7h1M176.4 64.7h1M175.6 69.2h1M186.9 22.8h1M185.9 27.6h1M184.2 37.0h1M184.5 40.4h1M178.3 62.4h1M173.2 86.2h1M187.4 41.1h1M195.3 21.3h1M192.1 29.2h1M192.7 31.0h1M184.3 63.3h1M196.0 25.1h1M196.0 26.6h1M188.3 58.5h1M181.8 84.0h1M195.7 35.0h1M195.4 43.1h1M193.6 44.9h1M191.1 62.6h1M186.7 79.1h1M185.2 83.8h1M183.8 89.5h1M202.7 20.4h1M199.2 38.6h1M195.2 58.2h1M193.4 59.9h1M192.2 72.3h1M201.7 35.7h1M200.8 43.4h1M209.6 20.0h1M208.0 24.1h1M201.6 51.4h1M202.2 54.3h1M200.3 56.5h1M209.7 27.5h1M207.1 45.5h1M204.4 46.8h1M196.7 89.1h1M202.0 80.3h1M213.8 33.9h1M214.1 36.7h1M210.7 49.1h1M205.1 75.3h1M215.0 38.8h1M213.6 44.0h1M203.5 93.0h1M219.8 29.5h1M219.6 37.7h1M217.4 44.7h1M217.0 52.1h1M214.9 62.2h1M212.7 64.7h1M226.1 23.4h1M223.1 38.8h1M217.6 55.4h1M215.4 65.4h1M215.5 75.5h1M213.7 85.6h1M227.9 31.8h1M229.7 34.5h1M224.8 46.0h1M222.1 64.4h1M221.0 65.9h1M217.6 81.0h1M231.3 33.0h1M229.0 42.0h1M225.6 57.2h1M223.9 62.4h1M223.4 67.0h1M233.7 41.1h1M224.9 72.0h1M222.7 82.5h1M232.5 53.8h1M231.7 61.0h1M228.9 75.8h1M226.9 81.2h1M224.6 87.4h1M240.4 36.7h1M242.1 43.0h1M242.5 45.0h1M239.3 60.7h1M232.9 92.9h1M247.9 38.9h1M243.1 55.4h1M233.9 94.7h1M248.3 49.3h1M245.3 55.9h1M243.6 66.4h1M241.8 76.3h1M238.5 94.1h1M238.3 98.4h1M251.8 42.7h1M249.4 52.3h1M242.5 86.6h1M255.5 45.2h1M246.7 84.5h1M242.3 96.4h1M255.9 48.4h1M257.7 50.8h1M255.0 53.7h1M251.4 67.8h1M250.3 73.0h1M248.9 83.4h1M247.2 96.0h1M259.9 43.6h1M259.1 49.2h1M258.1 53.8h1M254.9 68.6h1M255.9 71.1h1M253.3 74.0h1M254.1 76.9h1M249.8 88.5h1M248.9 93.6h1M265.3 38.1h1M252.9 96.7h1M265.0 44.8h1M259.9 69.5h1M257.0 84.5h1M266.2 59.0h1M263.3 66.1h1M261.2 75.7h1M264.5 76.1h1M264.5 94.1h1M263.4 98.8h1M262.2 104.5h1M266.7 102.1h1M270.7 95.2h1M274.6 104.2h1M268.9 85.2h1M272.8 93.3h1M275.1 98.1h1M270.6 84.0h1M270.7 78.3h1M279.1 98.9h1M281.9 101.2h1M270.8 71.8h1M281.7 98.1h1M271.8 66.6h1M270.9 69.4h1M275.7 75.3h1M275.8 78.7h1M283.0 88.8h1M284.6 94.2h1M287.1 98.8h1M270.3 56.0h1M269.5 59.2h1M274.5 68.4h1M272.6 54.1h1M285.9 82.3h1M296.4 104.4h1M283.5 75.2h1M285.9 76.0h1M284.6 66.3h1M283.8 69.1h1M285.7 73.5h1M297.6 93.2h1M273.4 40.8h1M289.0 72.1h1M275.8 38.6h1M285.4 54.8h1M293.4 72.1h1M302.2 90.6h1M281.0 40.0h1M291.3 64.7h1M309.4 98.2h1M280.4 36.8h1M310.9 100.3h1M285.7 39.8h1M287.1 41.6h1M300.9 69.4h1M289.6 43.3h1M294.7 52.4h1M303.5 70.7h1M307.5 76.6h1M310.1 81.2h1M293.0 40.0h1M292.3 42.1h1M294.6 47.5h1M296.9 51.6h1M298.7 55.6h1M307.6 74.1h1M310.5 75.4h1M297.3 43.0h1M297.7 45.2h1M301.9 51.2h1M312.5 74.3h1M316.9 86.8h1M302.1 49.4h1M313.0 69.1h1M324.0 91.6h1M328.9 100.2h1M300.0 38.3h1M313.2 62.6h1M298.8 28.6h1M302.4 37.0h1M314.3 57.3h1M329.6 88.9h1M331.3 93.6h1M312.1 49.1h1M316.9 56.0h1M325.8 74.2h1M326.6 78.5h1M327.8 81.4h1M309.9 37.2h1M314.3 46.4h1M319.0 55.4h1M318.5 57.8h1M306.4 24.8h1M314.9 39.9h1M319.4 49.1h1M321.4 53.5h1M325.5 65.0h1M334.1 83.5h1M337.0 85.3h1M341.0 94.7h1M317.9 38.7h1M317.7 41.3h1M323.2 55.2h1M328.8 64.2h1M335.0 78.2h1M343.0 95.9h1M313.5 23.4h1M332.8 67.6h1M336.7 76.8h1M329.0 53.1h1M335.7 63.9h1M339.8 73.3h1M318.7 21.7h1M342.3 74.3h1M344.8 70.3h1M344.6 73.6h1M318.9 13.5h1M336.4 43.8h1M341.3 49.8h1M326.5 11.8h1M329.8 23.8h1M332.6 29.0h1M328.9 10.2h1M328.2 13.8h1M335.1 24.0h1M338.2 28.8h1M339.1 36.1h1M342.3 40.7h1M340.0 27.4h1M341.7 35.4h1M340.3 25.3h1M343.2 20.6h1M341.2 12.8h1M343.2 14.6h1M343.6 17.8h1" stroke="#b01018" stroke-width="1" fill="none"/>
<path d="M176.4 20.3h1M175.8 28.3h1M171.3 44.4h1M180.4 15.8h1M178.3 25.7h1M177.8 33.1h1M174.6 40.9h1M171.7 57.8h1M170.0 67.6h1M180.9 26.9h1M181.2 29.3h1M177.6 48.8h1M178.3 54.4h1M174.8 66.5h1M175.0 74.2h1M188.1 17.9h1M188.1 25.6h1M185.1 32.5h1M182.8 42.7h1M182.3 47.9h1M181.5 54.5h1M173.7 81.2h1M188.5 36.4h1M185.1 47.8h1M184.3 55.7h1M183.3 60.8h1M186.8 53.2h1M184.1 71.0h1M181.7 81.2h1M194.9 30.1h1M195.7 32.2h1M190.3 49.4h1M185.6 68.9h1M193.7 52.0h1M190.1 59.3h1M189.9 64.1h1M190.0 67.0h1M192.9 67.5h1M188.2 84.7h1M206.6 19.8h1M200.2 48.4h1M190.3 84.9h1M201.9 46.6h1M197.2 65.9h1M211.3 25.3h1M196.9 81.4h1M198.1 83.9h1M215.6 20.8h1M210.3 33.3h1M209.3 45.6h1M217.2 26.6h1M209.8 55.9h1M204.9 81.3h1M219.3 27.1h1M215.7 34.3h1M210.3 66.9h1M222.9 23.1h1M211.3 69.5h1M219.9 48.3h1M213.8 70.3h1M224.3 36.6h1M223.1 48.5h1M212.0 90.0h1M227.7 39.9h1M222.8 56.2h1M228.2 49.8h1M226.5 59.8h1M223.0 74.9h1M221.1 76.6h1M232.6 45.3h1M227.0 70.7h1M223.0 85.4h1M235.9 38.6h1M232.9 56.0h1M230.9 57.8h1M224.4 96.1h1M239.1 41.7h1M235.1 61.2h1M232.9 63.6h1M228.5 83.1h1M229.1 86.4h1M241.8 35.3h1M238.8 49.3h1M235.9 67.0h1M230.0 89.2h1M239.5 67.6h1M236.0 82.3h1M248.9 31.0h1M247.5 35.7h1M245.3 46.1h1M244.8 50.7h1M238.6 75.3h1M236.2 85.1h1M249.0 41.5h1M246.9 51.2h1M244.8 69.3h1M255.0 35.3h1M251.1 49.9h1M247.2 69.4h1M245.0 72.3h1M245.5 79.2h1M239.4 96.6h1M256.0 37.6h1M256.1 40.2h1M253.9 47.7h1M252.6 52.7h1M250.8 62.5h1M257.7 43.2h1M250.7 80.5h1M247.3 87.5h1M246.1 100.4h1M263.1 36.5h1M261.3 39.2h1M257.3 61.7h1M264.8 42.7h1M262.8 44.6h1M262.2 49.6h1M259.3 59.4h1M257.6 68.8h1M256.3 73.7h1M255.1 86.7h1M263.4 54.7h1M261.4 67.5h1M254.2 95.0h1M265.9 55.8h1M260.1 88.3h1M256.1 100.1h1M267.6 79.5h1M263.1 96.5h1M265.8 99.7h1M269.5 103.9h1M271.6 105.7h1M268.3 90.4h1M269.8 89.6h1M279.1 104.9h1M275.7 84.0h1M280.4 93.1h1M272.0 60.4h1M284.6 88.0h1M287.7 92.3h1M283.0 78.0h1M283.2 79.8h1M285.1 85.7h1M289.6 94.7h1M291.8 95.9h1M291.6 98.4h1M274.0 56.3h1M277.7 58.2h1M290.3 84.8h1M270.9 41.1h1M277.9 52.7h1M277.7 55.6h1M298.9 100.2h1M303.9 107.3h1M275.0 45.3h1M279.6 54.0h1M288.8 69.6h1M295.6 86.1h1M296.9 91.0h1M299.1 95.5h1M301.3 96.8h1M276.0 36.9h1M280.8 45.5h1M289.1 65.8h1M290.5 70.7h1M295.6 80.1h1M304.0 95.1h1M278.7 34.4h1M296.1 71.4h1M295.5 74.0h1M298.3 79.0h1M304.3 89.8h1M283.4 38.0h1M296.5 65.8h1M298.1 70.5h1M313.0 104.7h1M294.0 55.9h1M300.2 71.7h1M312.8 79.8h1M314.5 88.2h1M295.6 41.0h1M299.4 47.4h1M319.4 91.6h1M299.7 44.2h1M302.3 46.3h1M306.2 58.3h1M311.3 63.7h1M310.5 67.3h1M317.3 81.1h1M326.4 96.2h1M293.7 24.8h1M304.2 47.3h1M307.2 49.7h1M313.8 65.8h1M319.9 79.1h1M296.7 23.6h1M304.5 42.1h1M311.8 52.2h1M320.5 73.7h1M325.0 79.7h1M327.2 84.8h1M331.0 96.3h1M307.2 37.9h1M315.8 58.5h1M321.1 68.1h1M323.0 72.0h1M334.4 92.4h1M305.4 27.7h1M308.3 32.1h1M312.5 44.3h1M334.1 87.2h1M308.5 29.0h1M321.6 56.7h1M330.3 74.1h1M331.9 79.6h1M308.4 23.1h1M310.6 27.4h1M315.1 33.9h1M315.0 37.1h1M324.5 52.5h1M326.4 56.2h1M325.5 59.9h1M341.6 91.8h1M330.5 62.7h1M337.7 74.2h1M341.9 82.7h1M344.1 87.3h1M315.8 25.8h1M318.0 30.2h1M324.7 40.4h1M331.3 54.6h1M316.0 19.4h1M327.4 39.6h1M327.7 42.8h1M333.9 55.5h1M339.8 69.4h1M320.7 20.1h1M325.5 28.8h1M336.4 54.5h1M325.4 25.8h1M343.1 59.6h1M320.9 11.9h1M328.0 24.7h1M328.5 16.5h1M329.0 19.8h1M339.7 39.2h1M341.5 46.1h1M343.4 45.4h1M331.5 11.9h1M335.2 18.8h1M343.7 39.5h1M340.3 16.2h1M340.4 10.5h1M43.7 47.2h1M54.5 33.4h1M47.2 53.2h1M42.7 55.4h1M40.4 60.7h1M63.5 25.0h1M60.5 34.7h1M40.7 70.1h1M38.3 71.8h1M52.5 52.2h1M50.1 58.6h1M40.8 73.0h1M62.5 38.7h1M43.0 75.3h1M40.6 79.6h1M41.9 83.5h1M67.0 41.3h1M52.4 69.4h1M43.2 82.3h1M72.6 39.6h1M66.9 50.3h1M60.6 61.4h1M54.6 70.6h1M49.4 77.9h1M46.7 84.7h1M43.2 89.0h1M37.9 102.6h1M80.6 26.8h1M59.2 72.6h1M54.3 74.5h1M76.9 39.9h1M58.9 79.4h1M55.0 81.9h1M50.0 96.2h1M43.2 105.1h1M40.0 107.8h1M95.6 18.6h1M75.5 55.6h1M57.0 83.2h1M57.5 86.8h1M52.2 93.8h1M86.6 38.0h1M83.0 46.4h1M78.2 56.7h1M60.7 87.7h1M97.9 23.1h1M92.0 37.4h1M81.8 58.1h1M89.8 46.8h1M83.1 59.6h1M77.6 69.5h1M57.2 103.8h1M101.7 31.5h1M86.5 57.3h1M106.9 32.2h1M104.6 36.5h1M97.4 47.4h1M94.1 49.8h1M89.7 71.0h1M75.7 93.7h1M72.6 100.4h1M116.0 25.9h1M109.3 36.8h1M96.0 62.5h1M80.3 89.4h1M126.6 15.4h1M89.7 79.4h1M118.2 35.1h1M103.8 63.3h1M101.5 67.2h1M135.5 14.2h1M130.0 21.1h1M104.3 70.2h1M101.6 75.7h1M93.3 91.1h1M86.4 99.0h1M124.6 41.0h1M119.0 48.1h1M93.0 95.6h1M125.8 39.8h1M127.4 42.6h1M109.7 70.4h1M141.7 20.7h1M132.7 40.4h1M127.7 49.1h1M125.1 55.3h1M118.4 62.0h1M118.8 71.3h1M115.4 73.5h1M109.9 88.0h1M153.5 16.4h1M135.8 44.5h1M132.7 50.2h1M133.4 54.0h1M121.0 69.6h1M118.9 79.6h1M115.9 81.9h1M112.7 85.0h1M112.6 89.6h1M149.7 25.5h1M144.0 35.5h1M137.7 49.1h1M119.6 82.0h1M157.5 16.6h1M155.8 21.3h1M152.8 27.4h1M147.0 37.2h1M130.3 72.0h1M162.3 21.2h1M153.5 36.1h1M150.5 38.9h1M143.6 52.0h1M120.9 91.2h1M156.0 38.6h1M153.2 41.3h1M138.9 65.3h1M128.2 90.9h1M166.8 21.2h1M143.6 62.5h1M141.2 66.9h1M140.9 71.7h1M129.4 88.8h1M173.0 18.4h1M168.0 27.8h1M161.7 41.4h1M133.0 90.6h1M162.4 48.1h1M152.8 59.7h1M138.8 85.7h1M159.6 56.3h1M153.3 70.4h1M151.3 76.2h1M167.8 47.3h1M164.8 56.7h1M158.5 67.7h1M153.6 75.0h1M153.3 85.0h1M150.6 89.5h1M158.4 80.6h1M164.2 77.1h1M39.9 111.5h1M71.9 121.1h1M81.2 113.4h1M79.7 117.8h1M81.1 120.2h1M76.6 121.6h1M94.8 111.5h1M93.6 117.1h1M119.9 113.4h1M132.5 97.5h1M137.5 93.5h1M135.3 112.4h1M144.5 113.6h1M154.1 111.6h1M160.5 96.2h1M192.3 92.9h1M189.4 105.6h1M207.5 105.9h1M226.3 99.3h1M224.3 109.4h1M231.7 112.9h1M240.4 102.3h1M257.3 105.3h1M248.8 120.3h1M271.1 109.2h1M275.3 116.7h1M310.2 129.8h1M339.8 104.2h1M338.1 113.4h1M338.6 121.8h1M68.9 109.5h1M41.9 148.4h1M65.9 121.3h1M95.6 126.4h1M42.2 121.2h1M155.9 125.2h1M47.5 126.2h1M72.4 127.7h1M47.9 150.0h1M117.7 107.1h1M44.9 147.4h1M70.4 143.4h1M74.8 110.3h1M82.5 142.9h1M145.3 126.2h1M149.2 115.2h1M114.0 128.6h1M114.2 141.1h1M93.9 148.1h1M94.7 117.3h1M115.7 107.2h1M72.5 113.6h1M80.4 142.7h1M39.9 123.5h1M44.8 137.4h1M91.5 140.3h1M142.6 125.0h1M132.8 106.2h1M153.3 120.4h1M114.6 140.9h1M74.3 144.1h1M48.5 124.6h1M143.4 113.3h1M112.7 138.4h1M128.6 111.0h1M68.8 128.8h1M153.4 117.0h1M147.1 120.5h1M64.1 149.1h1M54.8 137.0h1M78.5 147.2h1M40.2 138.4h1M89.5 117.9h1M47.8 111.6h1M81.6 141.5h1M136.0 104.4h1M109.7 103.6h1M96.0 112.3h1M125.6 113.2h1M43.5 116.9h1M57.7 136.7h1M36.4 151.9h1M130.3 103.1h1M115.7 139.8h1M80.6 119.7h1M84.4 143.7h1M101.3 107.6h1M82.9 130.2h1M98.7 122.1h1M78.2 139.4h1M97.5 136.8h1M81.2 128.4h1M46.1 118.4h1M135.9 123.9h1M105.5 135.6h1M36.8 137.0h1M42.1 150.4h1M121.8 136.5h1M36.9 140.2h1M103.0 139.8h1M112.0 110.7h1M118.2 116.3h1M85.2 166.8h1M102.9 225.8h1M106.3 198.1h1M103.4 203.3h1M100.9 207.4h1M97.9 200.1h1M79.1 165.2h1M80.5 157.7h1M84.5 162.6h1M100.6 218.8h1M81.1 157.6h1M97.8 198.8h1M92.2 184.9h1M97.6 187.7h1M112.1 217.7h1M105.9 211.8h1M87.8 176.4h1M95.7 191.5h1M79.2 165.1h1M82.8 159.2h1M96.2 185.1h1M87.1 168.0h1M90.1 196.1h1M102.8 223.8h1M91.9 186.5h1M104.0 218.9h1M82.7 172.9h1M103.8 205.9h1M90.2 194.0h1M87.9 224.7h1M58.6 205.3h1M38.9 179.6h1M92.9 232.2h1M99.2 240.6h1M75.5 210.2h1M84.3 224.1h1M94.2 232.6h1M98.3 235.0h1M75.4 214.6h1M41.9 190.6h1M55.2 197.3h1M80.2 222.2h1M40.3 186.8h1M99.9 223.5h1M110.9 235.9h1M38.3 189.3h1M66.8 205.2h1M74.2 219.9h1M96.5 235.3h1M63.8 210.3h1M78.4 218.6h1M96.6 230.1h1M38.5 184.2h1M49.1 190.3h1M83.9 224.6h1M123.5 203.6h1M111.1 182.6h1M128.9 199.0h1M141.8 223.7h1M127.4 204.9h1M126.7 199.5h1M122.4 197.8h1M132.4 211.7h1M117.6 195.1h1M150.8 219.9h1M138.3 221.2h1M126.5 196.3h1M112.3 184.7h1M109.3 190.7h1M135.9 220.4h1M124.1 204.1h1M50.3 157.3h1M70.3 151.6h1M117.8 202.9h1M90.8 179.2h1M96.1 204.1h1M86.1 193.9h1M118.3 215.0h1M118.4 230.3h1M101.8 205.2h1M75.6 149.0h1M111.7 223.4h1M87.7 168.3h1M81.7 185.1h1M73.0 177.0h1M59.6 152.4h1M76.1 189.8h1M105.9 195.8h1M131.5 231.8h1M112.3 200.0h1M89.1 199.9h1M100.3 219.1h1M117.9 239.1h1M106.7 224.4h1M82.5 169.4h1M79.2 167.1h1M120.8 225.0h1M90.4 166.4h1M86.0 170.5h1M109.4 223.4h1M92.5 165.0h1M100.9 201.1h1M112.2 230.9h1M74.2 170.1h1M75.0 155.0h1M110.9 225.7h1M101.8 218.6h1M54.7 157.9h1M88.3 185.6h1M118.6 236.1h1M118.0 218.0h1M84.5 181.7h1M129.5 244.0h1M104.9 203.1h1M53.6 171.4h1M63.7 189.8h1M61.3 183.1h1M75.6 171.0h1M56.9 164.1h1M58.0 170.7h1M62.3 177.7h1M65.3 173.6h1M62.0 163.1h1M68.3 178.6h1M46.5 165.7h1M46.5 165.2h1M45.3 167.9h1M69.0 167.9h1M47.1 149.4h1M77.2 187.3h1M58.1 165.6h1M35.7 158.0h1M41.4 147.2h1M77.5 189.5h1M54.4 164.0h1M47.9 156.5h1M35.9 153.9h1M40.4 160.6h1M75.4 189.5h1M73.5 189.5h1M50.2 195.2h1M129.8 202.9h1M47.2 234.7h1M99.8 241.3h1M43.4 237.5h1M190.1 190.9h1M166.0 220.6h1M126.4 213.6h1M117.9 189.2h1M46.0 230.5h1M121.8 157.6h1M197.7 184.1h1M48.0 194.1h1M129.5 217.8h1M107.6 229.1h1M159.2 168.7h1M171.6 191.6h1M138.2 172.0h1M167.6 238.0h1M85.2 159.4h1M80.2 199.8h1M184.0 197.8h1M125.1 204.8h1M104.7 170.7h1M96.1 157.2h1M133.1 184.9h1M202.6 193.4h1M62.0 188.0h1M101.7 172.5h1M169.9 193.7h1M67.6 240.5h1M160.6 224.8h1M38.1 224.2h1M150.2 175.9h1M162.7 215.6h1M165.9 195.2h1M49.1 172.4h1M115.6 221.2h1M65.3 238.3h1M75.0 210.4h1M101.4 192.6h1M148.4 232.0h1M169.8 240.2h1M37.7 190.9h1M196.8 220.4h1M101.4 229.0h1M60.5 170.0h1M86.4 168.0h1M197.1 194.5h1M176.8 163.5h1M97.3 219.7h1M108.9 209.6h1M74.0 162.5h1M131.8 176.5h1M99.9 173.1h1M194.2 187.7h1M204.0 222.8h1M131.2 192.0h1M45.6 170.9h1M185.0 232.2h1M82.6 224.8h1M43.0 152.4h1M66.4 239.7h1M158.4 184.8h1M126.7 232.7h1M91.5 238.0h1M175.5 164.4h1M56.1 218.8h1M173.5 172.8h1M135.2 178.1h1M207.6 221.3h1M146.3 236.8h1M229.3 134.1h1M190.9 174.8h1M255.6 120.2h1M299.9 194.7h1M272.3 116.5h1M189.8 134.4h1M291.1 146.7h1M253.0 111.8h1M161.0 121.7h1M134.3 113.8h1M142.5 149.9h1M234.3 134.6h1M170.6 117.4h1M189.9 182.0h1M152.9 150.4h1M200.2 162.9h1M240.3 156.6h1M288.2 192.9h1M132.3 151.1h1M283.3 119.2h1M221.1 197.1h1M140.1 111.9h1M196.9 177.7h1M247.5 162.6h1M122.2 121.3h1M128.1 128.6h1M240.3 135.5h1M159.8 106.3h1M272.8 198.4h1M247.9 117.4h1M271.5 145.0h1M232.2 113.1h1M151.2 132.2h1M252.1 141.8h1M230.5 150.7h1M191.0 163.5h1M164.6 115.1h1M206.8 112.2h1M158.3 153.3h1M255.0 159.3h1M166.8 176.2h1M135.9 130.0h1M248.5 172.3h1M262.2 164.4h1M214.8 180.2h1M218.7 116.6h1M212.1 185.5h1M142.6 146.8h1M270.3 137.2h1M161.6 137.9h1M156.3 150.0h1M256.9 155.8h1M236.5 138.5h1M212.9 185.3h1M145.1 156.7h1M296.6 122.1h1M284.0 191.5h1M225.9 199.1h1M282.1 183.1h1M164.8 118.9h1M280.5 127.7h1M271.5 174.9h1M160.9 162.6h1M130.0 150.7h1M204.1 180.6h1M122.4 101.7h1M218.8 122.6h1M216.3 145.4h1M262.9 190.6h1M250.2 189.3h1M281.5 150.0h1M204.9 188.4h1M276.8 188.6h1M189.8 154.7h1M194.9 124.5h1M223.5 112.7h1M407.6 62.1h1M411.8 64.1h1M416.3 54.9h1M437.1 66.0h1M447.7 61.5h1M453.6 63.6h1M457.6 71.9h1M462.0 63.3h1M478.0 62.7h1M500.6 77.3h1M504.8 71.1h1M506.9 68.5h1M508.4 78.5h1M536.3 80.6h1M532.9 71.3h1M528.3 96.2h1M530.5 88.5h1M535.1 90.7h1M535.4 94.9h1M528.9 63.3h1M528.2 74.9h1M527.7 73.7h1M526.0 71.3h1M534.4 64.8h1M526.7 99.1h1M534.7 78.7h1M526.1 83.5h1M532.5 89.7h1M526.8 69.0h1M532.8 62.7h1M532.1 95.4h1M532.7 97.4h1M529.2 73.6h1M529.5 99.6h1M532.3 84.3h1M533.5 100.1h1M530.9 112.7h1M528.2 111.4h1M522.9 121.5h1M527.8 123.8h1M528.8 139.7h1M524.3 116.5h1M528.5 100.6h1M525.8 111.1h1M524.9 123.8h1M521.4 131.8h1M531.3 107.6h1M523.9 132.5h1M531.3 127.2h1M531.3 103.9h1M533.0 102.9h1M527.4 111.1h1M536.2 120.1h1M524.1 99.8h1M530.4 130.7h1M521.7 137.0h1M522.0 133.5h1M522.4 131.0h1M516.3 170.0h1M520.6 157.7h1M519.6 166.8h1M518.3 168.6h1M521.7 156.1h1M523.5 151.8h1M523.6 140.3h1M521.0 147.8h1M517.6 167.9h1M525.6 142.3h1M525.3 149.6h1M515.5 167.8h1M524.2 151.2h1M522.1 168.2h1M518.3 163.7h1M525.9 150.7h1M523.7 170.0h1M523.4 147.8h1M524.5 145.0h1M519.1 143.0h1M517.7 172.7h1M523.1 163.4h1M519.2 178.0h1M514.2 190.9h1M516.5 204.4h1M510.1 200.5h1M513.1 201.8h1M510.0 190.5h1M515.5 176.9h1M506.9 200.3h1M513.1 185.6h1M509.9 192.2h1M513.2 201.6h1M515.2 179.3h1M508.1 197.8h1M514.9 189.9h1M507.8 226.1h1M504.3 210.3h1M502.5 207.9h1M509.6 127.8h1M504.2 129.5h1M501.9 152.2h1M498.6 145.4h1M499.4 165.2h1M491.8 186.6h1M500.9 155.1h1M497.4 165.1h1M490.3 170.8h1M503.2 167.9h1M484.7 188.2h1M505.1 164.9h1M475.6 212.1h1M473.2 215.9h1M479.4 205.1h1M484.4 207.6h1M472.7 220.6h1M487.0 193.4h1M478.5 203.4h1M467.1 214.7h1M477.5 210.8h1M490.0 196.1h1M485.6 194.9h1M485.3 191.1h1M475.6 208.6h1M448.5 231.9h1M440.2 233.3h1M447.5 222.5h1M458.3 222.4h1M463.7 227.9h1M452.7 228.5h1M459.2 221.7h1M456.7 227.3h1M439.0 236.2h1M439.5 238.1h1" stroke="#7a0a10" stroke-width="1" fill="none"/>
<path d="M172.9 34.6h1M173.9 37.2h1M172.5 42.3h1M180.7 18.1h1M180.0 24.2h1M175.4 43.4h1M173.7 45.4h1M181.8 21.8h1M176.5 46.1h1M184.6 22.5h1M184.1 30.1h1M180.9 41.4h1M179.4 47.1h1M178.2 59.5h1M173.0 75.7h1M187.4 29.9h1M180.0 59.8h1M191.3 26.1h1M187.8 33.4h1M186.3 42.7h1M186.3 46.2h1M185.2 50.2h1M182.1 65.5h1M178.7 79.6h1M182.1 75.6h1M180.9 78.6h1M180.3 86.2h1M193.5 34.4h1M194.5 37.7h1M189.2 56.5h1M192.7 49.8h1M192.2 54.7h1M186.6 82.4h1M197.6 40.0h1M197.6 47.9h1M194.7 62.9h1M190.1 83.3h1M205.2 24.4h1M203.8 34.5h1M201.7 39.4h1M197.4 55.5h1M195.9 60.8h1M196.2 68.2h1M192.4 75.6h1M203.4 49.1h1M198.5 61.7h1M196.7 70.8h1M192.8 85.8h1M206.6 37.6h1M205.9 42.6h1M203.2 60.4h1M212.5 27.7h1M203.5 70.6h1M200.4 85.6h1M214.4 29.1h1M212.1 39.2h1M213.0 41.0h1M210.5 51.4h1M207.7 58.6h1M201.0 87.2h1M217.1 29.1h1M218.8 32.0h1M213.1 57.1h1M211.0 59.3h1M208.1 76.8h1M206.8 85.8h1M203.6 88.6h1M220.5 32.2h1M215.2 57.1h1M210.7 74.4h1M221.3 43.4h1M218.4 57.7h1M210.1 90.1h1M223.4 41.1h1M219.8 55.5h1M219.2 60.5h1M213.9 88.5h1M229.9 27.4h1M226.6 41.8h1M226.6 44.8h1M219.2 78.4h1M215.0 90.9h1M232.8 30.6h1M230.2 37.5h1M226.6 52.6h1M225.2 65.3h1M222.6 71.5h1M219.5 81.6h1M220.9 85.0h1M219.2 86.7h1M218.1 91.8h1M234.2 28.6h1M235.3 30.9h1M233.6 33.5h1M235.3 35.5h1M232.5 38.4h1M228.9 59.9h1M226.1 68.1h1M227.8 73.0h1M226.5 78.4h1M225.5 83.1h1M237.3 51.6h1M238.3 57.9h1M233.9 69.8h1M232.7 82.3h1M230.5 84.3h1M240.6 62.4h1M238.5 65.4h1M236.0 74.3h1M237.1 77.4h1M234.1 85.3h1M244.6 53.9h1M240.0 70.5h1M238.0 80.2h1M252.6 34.2h1M248.0 46.6h1M242.7 74.3h1M250.9 55.3h1M246.2 74.1h1M240.7 99.1h1M254.8 43.0h1M249.3 75.3h1M248.3 79.8h1M258.9 41.2h1M246.4 92.3h1M261.8 41.4h1M258.2 56.9h1M258.8 64.2h1M257.3 76.5h1M256.2 81.4h1M254.0 91.2h1M250.9 98.6h1M266.9 40.0h1M265.8 48.6h1M258.4 75.1h1M254.6 97.7h1M254.2 102.0h1M265.0 68.7h1M256.9 95.6h1M257.9 97.7h1M268.0 60.9h1M266.1 70.7h1M266.8 76.8h1M264.3 91.1h1M265.0 104.4h1M274.8 101.1h1M277.1 100.0h1M272.9 83.0h1M278.0 94.2h1M282.2 103.7h1M283.7 104.7h1M270.8 75.1h1M273.9 76.1h1M287.3 104.1h1M278.0 83.4h1M280.3 81.4h1M287.1 95.8h1M268.2 48.2h1M272.2 57.6h1M280.8 76.6h1M275.1 54.1h1M283.7 71.6h1M292.3 93.4h1M294.4 95.0h1M299.2 105.9h1M271.1 39.3h1M281.8 61.6h1M281.2 64.3h1M290.4 83.2h1M273.0 37.7h1M292.5 81.4h1M290.9 68.0h1M299.5 88.9h1M280.3 42.0h1M284.9 49.2h1M285.2 51.2h1M302.8 87.7h1M287.3 48.3h1M291.2 56.4h1M298.3 72.9h1M301.0 77.5h1M302.9 82.4h1M305.1 84.5h1M307.2 87.9h1M283.2 33.5h1M296.1 63.0h1M305.4 78.1h1M312.5 91.8h1M290.6 40.3h1M297.3 57.2h1M298.9 61.2h1M316.2 94.7h1M287.9 33.3h1M295.4 44.0h1M310.4 78.5h1M314.3 84.7h1M291.0 31.6h1M292.5 36.5h1M301.5 54.4h1M303.8 59.1h1M306.4 60.8h1M306.4 63.1h1M308.3 65.4h1M317.1 83.5h1M319.6 88.4h1M321.5 93.0h1M293.8 30.6h1M298.0 36.7h1M298.3 39.8h1M300.1 41.1h1M303.9 53.7h1M313.3 71.7h1M322.3 89.3h1M324.2 94.9h1M328.6 103.6h1M325.0 85.8h1M326.8 90.6h1M330.9 99.8h1M298.4 26.0h1M303.5 34.8h1M316.8 62.0h1M333.3 98.6h1M303.4 29.2h1M309.3 42.7h1M330.0 83.5h1M331.6 90.1h1M333.4 95.3h1M323.2 64.4h1M327.6 73.2h1M331.9 84.3h1M307.9 26.2h1M319.1 52.5h1M330.5 71.7h1M308.5 20.3h1M319.7 42.6h1M334.8 74.6h1M310.7 22.9h1M313.6 26.3h1M319.5 37.3h1M324.8 46.4h1M331.5 60.1h1M333.5 64.8h1M339.3 80.8h1M311.0 16.3h1M313.3 21.3h1M315.7 22.8h1M317.8 27.3h1M319.8 34.9h1M327.1 45.5h1M333.4 59.5h1M340.1 75.5h1M342.2 77.7h1M335.8 57.6h1M343.0 71.6h1M344.8 79.3h1M322.7 24.9h1M334.4 50.4h1M342.7 68.4h1M321.3 17.4h1M323.8 18.7h1M338.9 53.1h1M340.5 58.9h1M325.8 17.3h1M339.4 47.7h1M326.5 15.2h1M337.2 34.6h1M330.9 17.6h1M335.2 27.7h1M339.8 33.0h1M335.3 21.4h1M338.3 22.7h1M333.9 8.7h1M343.8 8.6h1M343.4 12.6h1M45.9 45.4h1M43.8 51.3h1M60.2 24.4h1M51.0 39.1h1M55.8 40.7h1M66.0 26.4h1M46.5 72.4h1M59.1 55.8h1M36.2 97.4h1M74.6 32.2h1M52.8 72.5h1M40.9 94.6h1M40.9 96.7h1M60.8 64.8h1M54.9 78.9h1M68.4 59.4h1M66.3 64.8h1M47.5 100.8h1M67.3 78.4h1M52.1 103.6h1M96.0 28.3h1M97.9 30.4h1M109.4 24.2h1M109.7 26.0h1M84.7 70.3h1M70.5 103.8h1M106.8 46.1h1M100.4 56.0h1M119.0 27.6h1M112.4 37.8h1M102.3 58.8h1M122.9 28.2h1M108.9 54.5h1M96.7 79.6h1M130.6 24.3h1M111.9 55.9h1M90.1 96.4h1M131.9 22.0h1M107.5 70.1h1M104.8 77.4h1M97.7 88.7h1M138.1 21.7h1M121.3 53.0h1M112.3 64.6h1M101.7 86.8h1M141.2 22.8h1M133.2 36.1h1M108.7 78.1h1M146.6 15.7h1M146.4 19.7h1M144.3 22.4h1M144.6 26.3h1M129.2 47.4h1M106.2 92.8h1M152.8 18.8h1M158.5 18.8h1M144.1 45.5h1M132.3 62.3h1M158.8 27.0h1M138.1 58.7h1M138.5 62.6h1M136.6 72.2h1M136.7 84.5h1M157.7 50.4h1M144.2 75.7h1M144.5 80.5h1M157.0 61.6h1M144.9 90.3h1M162.5 79.9h1M168.5 75.0h1M165.7 80.0h1M108.8 213.8h1M78.7 156.1h1M100.2 194.0h1M104.1 199.1h1M92.4 186.2h1M103.9 209.5h1M85.8 173.5h1M94.7 182.1h1M102.5 212.6h1M87.5 174.2h1M76.8 157.0h1M86.2 167.7h1M88.0 189.6h1M95.4 189.6h1M94.4 194.6h1M96.9 198.6h1M83.5 168.0h1M87.0 165.8h1M54.6 196.8h1M87.5 224.5h1M57.1 202.6h1M71.3 202.6h1M53.1 199.8h1M104.0 240.4h1M58.3 199.0h1M68.5 204.9h1M67.9 212.8h1M51.5 193.0h1M106.5 243.6h1M101.1 233.5h1M70.3 214.4h1M85.3 222.3h1M86.6 221.5h1M142.4 213.0h1M139.8 214.9h1M118.9 196.9h1M156.6 224.6h1M152.3 227.3h1M145.7 221.6h1M132.6 201.5h1M152.8 223.9h1M149.1 223.0h1M124.7 203.3h1M120.2 191.6h1M142.3 213.2h1M147.2 218.9h1M154.1 212.3h1M139.0 218.7h1M132.8 212.2h1M92.1 190.7h1M77.4 187.8h1M118.7 235.9h1M114.8 220.0h1M91.0 165.6h1M108.9 238.3h1M66.3 172.8h1M85.6 212.5h1M95.4 193.7h1M65.7 160.7h1M112.4 215.1h1M78.8 175.8h1M102.8 217.2h1M59.9 170.4h1M89.0 183.4h1M117.8 237.3h1M96.7 222.3h1M61.1 171.1h1M122.4 230.6h1M93.0 182.6h1M94.5 202.0h1M112.1 228.1h1M75.4 183.0h1M127.7 222.9h1M403.9 23.6h1M403.3 27.3h1M403.6 37.5h1M404.3 39.8h1M403.6 43.7h1M408.9 9.5h1M407.3 25.7h1M411.1 20.4h1M407.5 42.6h1M412.1 32.5h1M409.6 42.2h1M414.8 18.7h1M414.8 28.6h1M413.8 32.8h1M412.3 35.0h1M413.4 41.1h1M412.2 49.0h1M418.1 10.8h1M417.4 20.7h1M414.2 52.9h1M421.2 9.1h1M417.4 45.2h1M422.5 11.1h1M422.3 17.6h1M420.3 27.6h1M420.9 29.4h1M419.7 31.9h1M420.3 33.9h1M424.3 15.8h1M422.0 35.8h1M426.9 17.8h1M422.9 50.5h1M429.5 18.6h1M431.8 19.0h1M430.1 30.4h1M427.3 55.3h1M432.0 25.0h1M430.9 32.9h1M432.5 36.9h1M431.5 45.0h1M435.5 33.4h1M435.1 37.6h1M442.0 13.9h1M442.7 23.9h1M438.1 56.0h1M446.3 8.5h1M445.3 10.1h1M443.9 28.7h1M440.5 46.1h1M441.7 48.3h1M447.5 16.2h1M446.1 32.7h1M444.7 34.5h1M443.4 52.8h1M448.6 24.9h1M446.6 34.5h1M451.6 11.3h1M451.4 21.2h1M449.8 26.9h1M454.3 17.0h1M453.9 21.4h1M450.9 45.2h1M456.0 35.9h1M456.6 38.0h1M454.6 43.7h1M455.0 50.2h1M460.0 26.1h1M459.8 30.4h1M458.9 38.7h1M458.5 42.7h1M457.5 46.0h1M455.7 56.1h1M462.8 22.7h1M461.5 30.3h1M466.1 8.4h1M465.3 19.0h1M466.6 16.7h1M465.8 29.1h1M464.9 36.9h1M463.2 58.9h1M471.1 11.4h1M467.4 39.4h1M466.8 47.6h1M472.0 23.2h1M468.5 41.5h1M473.9 23.5h1M469.6 49.4h1M475.1 32.2h1M471.0 57.9h1M471.9 60.1h1M479.7 16.0h1M476.5 34.4h1M475.6 48.5h1M481.9 12.4h1M477.9 38.8h1M477.4 49.1h1M482.9 18.8h1M479.6 46.7h1M479.3 57.2h1M487.2 8.9h1M486.9 13.3h1M483.0 41.4h1M488.1 17.6h1M487.0 23.0h1M484.4 49.5h1M484.4 53.4h1M491.3 9.7h1M490.0 15.2h1M489.7 26.0h1M487.1 35.8h1M487.0 40.0h1M487.1 46.1h1M484.9 62.1h1M489.3 46.3h1M493.7 20.2h1M490.5 48.3h1M497.5 18.8h1M496.6 22.5h1M494.6 38.8h1M491.8 56.9h1M491.2 60.7h1M500.0 14.6h1M497.1 32.7h1M496.9 38.7h1M496.4 42.4h1M498.9 32.8h1M497.4 49.1h1M496.5 53.0h1M503.5 17.4h1M502.6 31.0h1M500.7 37.0h1M500.3 41.6h1M501.1 43.5h1M499.9 51.3h1M506.2 23.2h1M504.0 29.4h1M500.7 63.5h1M507.4 21.6h1M505.9 29.7h1M505.3 34.1h1M505.2 38.0h1M505.4 44.0h1M502.0 61.8h1M503.2 64.3h1M502.0 65.6h1M511.4 15.7h1M508.9 26.2h1M508.2 43.9h1M505.6 60.4h1M514.7 8.3h1M512.4 13.8h1M512.0 18.1h1M511.4 22.1h1M508.8 42.4h1M510.1 44.5h1M514.6 24.3h1M511.2 42.6h1M512.3 44.8h1M510.3 61.0h1M516.9 14.8h1M515.9 22.7h1M515.4 27.1h1M512.3 51.1h1M518.0 37.4h1M516.2 49.6h1M521.4 25.1h1M520.2 27.5h1M521.1 29.7h1M519.3 31.1h1M520.1 37.6h1M516.9 55.5h1M517.0 61.5h1M516.5 65.3h1M525.0 13.5h1M523.3 29.6h1M522.3 33.6h1M524.4 27.5h1M523.4 36.1h1M527.7 30.2h1M524.5 48.4h1M532.6 10.2h1M527.7 36.7h1M527.7 40.6h1M526.1 58.4h1M524.9 64.6h1M533.8 14.6h1M531.3 28.3h1M529.8 50.8h1M534.3 31.1h1M531.3 55.6h1M528.3 69.5h1M529.6 71.4h1M534.9 43.2h1M536.0 45.5h1M535.6 56.0h1M535.4 60.1h1M402.5 62.3h1M409.9 55.5h1M413.3 61.6h1M423.6 55.7h1M431.1 61.0h1M432.7 65.6h1M448.3 70.7h1M482.2 67.0h1M507.6 72.2h1M516.3 76.2h1M532.2 84.5h1M530.4 98.7h1M530.1 98.5h1M535.1 80.1h1M529.9 96.5h1M530.6 89.4h1M534.4 75.2h1M528.4 97.0h1M531.9 67.2h1M530.4 100.6h1M529.7 123.2h1M529.2 133.9h1M521.2 112.2h1M527.5 138.7h1M520.9 129.0h1M524.7 128.5h1M527.9 128.9h1M531.5 129.1h1M526.5 113.7h1M526.4 120.7h1M529.8 101.6h1M528.8 126.0h1M515.0 138.8h1M517.9 151.3h1M520.5 152.8h1M521.4 170.3h1M521.6 153.9h1M519.6 150.8h1M438.9 237.0h1M453.1 243.3h1M454.3 241.8h1M452.7 242.2h1M442.3 244.5h1M440.2 240.4h1" stroke="#8a0c14" stroke-width="1" fill="none"/>
<path d="M170.2 49.6h1M171.0 52.3h1M179.1 21.2h1M179.0 28.9h1M173.4 53.4h1M183.0 23.9h1M180.8 34.5h1M178.1 36.1h1M179.7 39.1h1M174.8 50.4h1M175.1 58.8h1M170.0 75.3h1M186.3 20.4h1M183.1 26.8h1M180.4 49.4h1M175.5 61.1h1M171.9 81.1h1M191.4 21.5h1M191.0 33.7h1M191.0 35.9h1M187.0 55.9h1M183.1 68.2h1M193.1 42.4h1M191.8 47.5h1M188.1 61.5h1M186.6 64.3h1M187.2 66.0h1M197.6 30.5h1M192.5 56.9h1M185.8 87.5h1M201.1 25.7h1M198.5 35.0h1M199.1 43.1h1M190.4 75.1h1M188.8 87.4h1M202.6 31.7h1M197.8 50.7h1M194.7 65.9h1M193.5 70.6h1M193.8 78.3h1M191.6 88.5h1M206.6 26.5h1M205.8 32.3h1M200.9 59.3h1M212.2 20.3h1M209.9 23.0h1M210.6 30.3h1M207.6 32.1h1M208.2 40.5h1M194.6 91.5h1M212.7 30.4h1M209.3 38.2h1M208.9 42.6h1M206.8 52.8h1M203.4 67.4h1M199.2 90.2h1M215.8 24.1h1M211.3 44.0h1M212.5 46.6h1M208.7 53.7h1M208.6 61.6h1M205.9 67.8h1M202.3 83.0h1M216.1 42.1h1M213.4 51.9h1M208.0 73.4h1M205.7 83.2h1M221.1 25.1h1M221.5 27.9h1M216.0 49.4h1M208.7 87.4h1M208.1 92.4h1M223.8 26.1h1M217.1 62.3h1M210.7 84.1h1M228.5 24.5h1M227.0 26.4h1M221.5 51.3h1M221.4 58.5h1M219.6 63.8h1M219.0 68.8h1M216.9 70.8h1M217.9 73.2h1M211.3 94.7h1M224.5 54.1h1M218.1 84.0h1M215.8 93.9h1M231.0 40.1h1M227.5 55.2h1M219.8 89.3h1M217.1 95.9h1M231.2 42.5h1M230.4 55.3h1M225.0 80.5h1M220.9 92.0h1M221.1 94.7h1M234.7 46.1h1M228.8 68.3h1M241.3 32.3h1M238.6 38.8h1M237.9 47.3h1M233.5 58.6h1M228.4 91.5h1M233.6 74.6h1M233.9 77.2h1M232.3 79.0h1M228.4 93.5h1M229.3 96.7h1M241.6 50.1h1M237.0 69.4h1M234.5 88.0h1M247.0 43.2h1M239.9 77.7h1M238.3 83.0h1M250.1 36.4h1M245.2 63.7h1M240.9 83.7h1M237.7 91.0h1M253.2 37.2h1M250.5 47.2h1M248.0 56.6h1M243.4 83.8h1M249.5 67.2h1M246.8 76.9h1M258.9 38.7h1M254.0 58.2h1M254.4 61.2h1M249.1 85.5h1M248.0 90.2h1M251.1 91.2h1M262.5 52.0h1M259.5 66.8h1M265.5 52.5h1M262.5 59.9h1M262.0 77.9h1M258.8 85.4h1M263.6 84.1h1M261.9 86.1h1M263.2 89.0h1M262.2 93.4h1M267.3 84.8h1M266.4 91.4h1M263.6 102.2h1M267.9 97.3h1M270.0 97.4h1M277.6 103.3h1M268.2 82.7h1M274.9 93.4h1M268.3 73.1h1M276.0 87.1h1M277.1 91.6h1M273.3 79.0h1M284.5 99.9h1M286.2 106.6h1M274.1 71.0h1M289.3 102.7h1M272.2 62.9h1M274.4 65.4h1M278.6 73.8h1M291.7 105.0h1M274.9 62.1h1M279.2 69.0h1M278.6 70.9h1M294.2 103.1h1M270.8 45.0h1M281.2 67.9h1M273.0 43.6h1M272.6 47.0h1M279.5 57.7h1M279.5 59.6h1M288.8 78.0h1M301.7 102.6h1M286.4 67.8h1M297.6 87.2h1M301.7 99.3h1M278.5 41.1h1M297.9 81.3h1M304.3 97.6h1M308.6 106.8h1M278.7 38.5h1M282.6 44.8h1M287.0 56.1h1M307.2 94.0h1M290.1 52.0h1M294.2 61.5h1M296.2 69.2h1M305.2 81.2h1M307.6 85.9h1M310.4 87.3h1M314.6 96.1h1M316.7 101.0h1M316.3 103.8h1M299.8 58.8h1M301.3 66.6h1M303.9 67.3h1M318.8 102.2h1M291.0 34.4h1M290.9 37.8h1M299.5 53.3h1M301.9 60.1h1M323.1 103.4h1M308.0 68.3h1M312.6 76.8h1M324.1 97.5h1M295.8 31.9h1M317.8 77.9h1M322.0 87.2h1M302.4 40.5h1M305.2 45.0h1M311.4 58.9h1M317.6 75.4h1M320.0 76.9h1M329.1 97.8h1M300.8 33.2h1M310.0 48.4h1M311.5 55.8h1M315.8 64.8h1M326.7 86.9h1M301.0 26.5h1M303.3 32.2h1M305.1 36.9h1M309.6 44.7h1M312.3 46.5h1M314.0 51.0h1M331.8 88.0h1M308.3 35.2h1M321.1 59.1h1M334.1 88.9h1M339.0 95.2h1M338.3 98.0h1M303.4 20.8h1M310.3 30.4h1M317.5 47.7h1M334.6 81.2h1M338.8 90.5h1M322.3 47.9h1M337.2 82.2h1M341.8 89.2h1M326.1 54.7h1M339.7 78.9h1M344.2 90.8h1M313.9 17.4h1M328.8 50.4h1M337.7 68.5h1M342.4 79.7h1M344.5 81.4h1M316.4 16.4h1M322.9 30.3h1M329.5 46.6h1M329.6 41.4h1M329.5 35.1h1M334.0 42.1h1M336.2 48.9h1M338.6 51.2h1M341.5 55.1h1M325.9 21.3h1M330.8 30.0h1M332.2 31.2h1M337.2 39.9h1M344.1 54.5h1M334.8 29.9h1M335.0 33.3h1M341.9 43.6h1M331.2 15.8h1M337.2 31.3h1M332.0 9.7h1M337.7 26.6h1M344.1 36.4h1M342.6 30.0h1M344.5 31.3h1M344.6 25.5h1M338.5 8.9h1M39.7 50.3h1M51.8 42.6h1M58.0 39.3h1M44.0 65.9h1M64.3 35.1h1M54.7 50.1h1M55.6 54.2h1M55.4 57.1h1M46.8 70.9h1M43.1 78.6h1M75.0 27.6h1M37.6 95.6h1M64.3 56.5h1M40.8 103.4h1M38.1 106.2h1M86.1 26.7h1M91.4 21.2h1M90.1 29.8h1M75.3 62.2h1M62.9 83.3h1M58.5 89.9h1M102.9 17.3h1M86.8 49.1h1M73.7 73.9h1M70.3 76.4h1M61.0 90.4h1M99.8 28.9h1M95.6 39.1h1M78.0 67.1h1M72.4 81.3h1M61.9 102.2h1M84.3 68.0h1M98.3 44.3h1M89.8 58.8h1M83.9 73.7h1M77.6 83.2h1M72.7 94.7h1M80.9 81.1h1M124.1 14.2h1M117.6 21.4h1M90.3 74.1h1M85.2 87.1h1M82.0 92.7h1M93.3 78.3h1M112.8 45.4h1M106.8 56.4h1M102.0 82.9h1M96.2 93.0h1M133.7 32.6h1M123.8 48.9h1M110.0 74.4h1M107.1 82.4h1M134.8 37.6h1M111.0 84.5h1M130.5 54.2h1M109.5 94.0h1M155.4 17.0h1M136.1 51.6h1M126.3 66.6h1M127.3 69.8h1M124.0 72.1h1M120.8 77.9h1M144.5 41.9h1M157.9 22.3h1M125.0 85.0h1M162.2 31.6h1M149.7 51.6h1M147.9 57.4h1M144.8 66.9h1M166.9 38.4h1M152.8 63.2h1M164.6 45.6h1M142.2 90.9h1M163.8 67.5h1M125.0 106.5h1M69.0 114.0h1M93.5 128.4h1M69.5 146.6h1M61.5 123.1h1M72.5 128.8h1M52.4 132.5h1M50.0 148.0h1M78.0 118.9h1M68.9 130.2h1M55.5 133.5h1M59.4 110.3h1M112.7 120.3h1M44.4 134.9h1M47.8 139.9h1M82.8 110.4h1M69.9 116.7h1M44.9 137.4h1M130.6 129.2h1M148.0 126.9h1M94.1 128.9h1M147.0 116.1h1M84.9 173.6h1M98.0 175.3h1M100.6 191.0h1M79.8 169.4h1M98.4 199.4h1M78.3 162.8h1M98.7 197.4h1M104.4 200.2h1M93.0 199.3h1M79.5 167.1h1M92.9 190.1h1M96.3 203.0h1M111.1 222.3h1M104.4 221.8h1M106.3 208.6h1M94.0 193.5h1M84.6 159.3h1M77.5 158.6h1M106.4 221.3h1M102.3 197.1h1M103.0 203.7h1M103.1 203.5h1M103.9 219.9h1M103.4 204.5h1M101.4 204.7h1M81.1 158.9h1M96.4 198.1h1M98.0 201.7h1M69.2 215.2h1M58.5 204.9h1M82.1 214.4h1M44.9 187.5h1M83.2 225.1h1M80.1 220.3h1M103.2 234.9h1M91.1 229.0h1M84.0 217.6h1M59.4 197.0h1M85.5 228.2h1M102.1 235.1h1M58.4 203.5h1M105.6 238.4h1M100.8 235.0h1M96.1 225.1h1M87.5 228.7h1M54.9 207.4h1M155.8 221.2h1M113.1 195.3h1M135.3 203.3h1M145.7 208.6h1M123.2 191.7h1M144.6 217.2h1M151.9 229.2h1M120.2 193.0h1M144.8 213.5h1M123.7 192.5h1M130.8 196.2h1M146.3 227.3h1M138.5 220.9h1M131.6 199.4h1M95.5 203.0h1M59.1 159.0h1M105.3 172.2h1M99.8 192.0h1M76.7 185.3h1M92.2 188.8h1M124.4 216.7h1M58.1 168.1h1M82.5 176.0h1M113.9 233.5h1M79.5 166.2h1M103.3 191.6h1M84.9 161.1h1M57.4 175.4h1M103.4 220.7h1M127.2 231.1h1M78.5 178.3h1M99.2 198.7h1M70.5 172.1h1M101.6 229.6h1M84.6 189.7h1M78.0 188.6h1M82.9 202.1h1M106.0 206.8h1M98.7 196.2h1M65.7 155.4h1M97.8 207.6h1M73.6 166.4h1M127.1 226.4h1M188.7 236.8h1M105.0 186.6h1M61.6 239.8h1M138.7 200.9h1M75.3 230.9h1M216.9 217.1h1M105.4 158.3h1M173.4 180.3h1M63.0 150.4h1M125.9 176.0h1M89.5 154.8h1M72.5 219.7h1M73.3 227.3h1M74.0 234.1h1M103.6 198.5h1M196.0 221.3h1M111.2 205.4h1M61.6 204.5h1M233.0 233.3h1M62.9 182.2h1M172.8 167.9h1M102.8 220.3h1M141.5 212.0h1M212.3 208.4h1M100.2 244.8h1M144.9 161.8h1M188.4 179.7h1M147.5 205.3h1M72.9 200.9h1M107.0 166.2h1M76.9 222.9h1M93.4 184.3h1M122.5 224.1h1M415.8 57.5h1M415.2 66.9h1M442.7 58.4h1M449.5 58.9h1M453.8 64.8h1M457.5 61.2h1M462.2 60.6h1M468.7 61.8h1M467.5 73.1h1M477.3 72.2h1M484.6 73.3h1M510.0 81.2h1M519.0 77.5h1M528.4 74.9h1M535.4 77.8h1M534.7 78.8h1M530.6 83.8h1M533.4 64.1h1M529.6 63.3h1M532.7 77.5h1M533.9 67.7h1M524.1 63.9h1M525.7 76.5h1M535.9 88.6h1M535.4 65.2h1M532.9 86.7h1M532.4 68.2h1M533.6 77.8h1M529.6 128.2h1M532.0 121.5h1M534.5 111.0h1M523.6 112.1h1M531.8 123.4h1M528.3 102.2h1M522.9 115.7h1M528.6 128.5h1M524.7 139.9h1M525.2 132.2h1M526.1 107.0h1M526.6 113.9h1M528.7 133.0h1M524.7 138.0h1M531.0 113.8h1M523.6 102.7h1M516.8 167.5h1M519.2 173.4h1M521.2 160.8h1M523.2 156.3h1M521.2 153.8h1M519.7 144.9h1M524.1 144.6h1M507.4 199.1h1M516.8 184.5h1M508.8 191.7h1M519.2 194.2h1M521.6 192.2h1M515.4 177.7h1M518.2 196.0h1M509.9 203.9h1M514.3 190.2h1M450.6 241.0h1M440.9 242.1h1M440.7 240.4h1M438.3 236.3h1M454.9 241.2h1" stroke="#a00e16" stroke-width="1" fill="none"/>
<path d="M41.6 53.4h1M41.1 56.0h1M52.4 50.6h1M42.3 72.2h1M57.6 49.6h1M63.9 48.1h1M46.6 80.3h1M43.9 85.7h1M78.5 26.3h1M57.8 66.3h1M54.1 68.3h1M47.5 87.1h1M75.4 39.4h1M57.4 70.3h1M52.8 80.8h1M74.8 44.1h1M84.4 36.7h1M76.4 51.6h1M72.8 57.6h1M65.8 70.9h1M84.0 42.1h1M52.9 101.1h1M50.1 105.2h1M62.9 89.7h1M90.1 50.8h1M66.6 90.7h1M64.1 93.0h1M106.7 22.4h1M101.4 35.0h1M82.8 63.8h1M72.5 84.4h1M106.4 27.9h1M100.4 42.2h1M92.8 57.2h1M118.7 17.0h1M112.6 24.9h1M110.7 33.4h1M93.3 61.8h1M87.5 72.1h1M76.5 99.7h1M84.2 91.5h1M80.7 98.7h1M115.8 43.8h1M109.6 50.0h1M104.5 60.3h1M103.5 67.2h1M90.3 93.1h1M127.8 32.3h1M114.6 53.5h1M118.0 58.1h1M135.7 34.9h1M104.4 88.9h1M149.5 14.1h1M133.9 42.5h1M150.4 23.0h1M146.6 26.9h1M143.6 29.5h1M141.2 37.8h1M124.4 68.5h1M116.4 91.4h1M153.4 30.6h1M141.0 47.5h1M136.4 61.0h1M153.0 34.1h1M144.3 49.8h1M129.1 79.0h1M123.7 88.6h1M141.1 63.6h1M135.1 74.6h1M127.1 85.9h1M138.0 73.7h1M133.1 84.4h1M164.8 32.3h1M151.2 58.7h1M150.6 63.6h1M144.3 68.2h1M142.5 74.6h1M148.0 78.6h1M143.7 83.2h1M159.0 69.9h1M153.3 82.1h1M165.1 70.5h1M96.7 187.1h1M106.7 210.7h1M86.1 167.4h1M100.9 202.2h1M106.8 220.6h1M96.9 205.3h1M79.3 155.8h1M85.8 159.0h1M79.5 158.2h1M77.8 162.4h1M87.7 188.0h1M109.8 207.4h1M79.8 162.0h1M97.5 206.3h1M97.5 199.4h1M87.1 180.0h1M100.6 205.0h1M81.0 160.8h1M110.1 211.8h1M107.5 224.6h1M98.6 210.2h1M93.2 188.6h1M105.9 209.8h1M95.1 194.9h1M90.3 178.3h1M112.3 218.0h1M94.3 196.3h1M81.9 169.7h1M100.5 215.2h1M91.3 180.3h1M93.2 182.8h1M104.6 239.9h1M73.2 206.3h1M53.3 194.5h1M76.6 208.3h1M105.5 239.1h1M51.4 191.6h1M58.7 201.1h1M67.6 204.6h1M90.0 214.4h1M71.9 210.6h1M82.7 216.2h1M104.2 233.3h1M78.2 213.2h1M77.8 212.1h1M75.0 211.9h1M99.6 234.8h1M94.6 226.8h1M97.4 239.6h1M136.0 205.0h1M129.9 204.8h1M124.6 201.2h1M114.2 185.2h1M142.2 223.6h1M114.1 184.6h1M115.1 197.9h1M110.8 184.1h1M130.2 197.4h1M109.8 195.8h1M123.2 201.9h1M73.8 144.8h1M89.5 192.9h1M71.2 164.3h1M67.4 163.0h1M110.5 226.3h1M123.8 226.3h1M83.0 168.5h1M130.3 243.9h1M102.4 219.3h1M73.9 166.4h1M95.0 178.4h1M116.0 230.3h1M79.1 164.4h1M127.3 229.2h1M76.5 167.3h1M70.4 157.5h1M64.0 152.0h1M105.1 197.3h1M111.3 220.2h1M104.5 210.5h1M98.4 208.1h1M74.6 159.8h1M95.3 187.7h1M109.1 234.4h1M432.4 68.4h1M447.0 67.9h1M454.6 60.0h1M463.9 72.4h1M467.8 67.5h1M470.4 62.2h1M473.4 62.6h1M484.9 66.4h1M493.6 69.6h1M513.2 81.6h1M533.6 75.5h1M533.7 80.7h1M531.1 67.0h1M535.0 98.9h1M531.0 99.6h1M536.0 78.4h1M526.6 69.4h1M530.5 69.7h1M530.2 82.2h1M529.9 85.9h1M529.4 90.2h1M534.5 67.2h1M532.1 90.9h1M532.4 73.8h1M526.2 106.0h1M527.5 102.0h1M530.4 127.0h1M530.5 121.6h1M529.7 114.0h1M536.2 102.0h1M529.6 125.1h1M528.8 107.6h1M523.3 127.2h1M526.7 139.9h1M523.7 166.6h1M523.1 147.5h1M521.9 171.9h1M523.0 151.1h1M525.5 148.4h1M527.0 147.1h1M518.2 168.9h1M518.4 163.7h1M519.3 165.4h1M524.1 156.7h1M525.3 140.3h1M524.3 166.5h1M514.5 174.3h1M519.4 162.3h1M517.5 169.5h1M519.6 158.5h1M525.9 159.8h1M519.1 174.4h1M450.0 241.0h1M448.5 240.6h1M452.7 236.8h1" stroke="#d81a26" stroke-width="1" fill="none"/>
<path d="M85.9 180.0h1M86.2 180.5h1M85.2 167.9h1M90.5 183.9h1M96.6 196.6h1M96.5 208.3h1M78.5 158.8h1M89.4 168.6h1M96.4 192.9h1M91.4 182.8h1M80.2 155.1h1M99.2 201.8h1M108.6 217.1h1M94.6 200.5h1M100.1 206.4h1M106.3 220.1h1M88.9 169.2h1M96.6 201.0h1M88.7 175.8h1M87.2 175.2h1M105.0 216.8h1M97.3 197.9h1M77.6 168.1h1M80.6 164.5h1" stroke="#d84018" stroke-width="1" fill="none"/>
<path d="M444.6 214.2h1M518.2 203.7h1M457.3 99.3h1M513.8 217.0h1M472.5 88.3h1M256.8 223.5h1M498.6 171.2h1M320.7 126.4h1M304.9 159.1h1M436.3 219.6h1M234.8 192.9h1M523.5 161.8h1M323.3 127.0h1M420.8 146.4h1M514.0 141.0h1M449.9 124.1h1M204.3 162.8h1M331.6 162.4h1M298.8 134.2h1M531.1 219.6h1M524.4 195.9h1M533.5 231.3h1M420.7 183.9h1M451.9 189.9h1M497.4 200.8h1M329.6 207.1h1M346.3 146.1h1M351.8 228.2h1M520.9 238.6h1M319.1 138.9h1M289.1 192.0h1M500.2 188.6h1M299.2 186.2h1M261.6 129.9h1M316.7 195.1h1M500.4 193.9h1M470.8 199.2h1M515.8 152.9h1M354.2 219.2h1M294.6 120.8h1M306.3 220.3h1M435.3 241.9h1M375.8 122.1h1M522.5 234.6h1M490.6 136.0h1M370.4 187.1h1M473.9 176.1h1M187.2 115.2h1M358.6 132.0h1M370.9 237.3h1M259.4 217.6h1M457.0 183.5h1M499.0 116.4h1M274.9 181.4h1M222.6 133.5h1M480.1 103.5h1M433.7 149.6h1M413.6 239.9h1M462.6 164.3h1M426.5 168.9h1M486.3 125.2h1M511.5 79.8h1M313.4 191.7h1M344.6 239.6h1M269.9 235.8h1M512.3 134.4h1M275.6 222.3h1M393.8 201.7h1M521.5 86.5h1M313.8 237.7h1M498.8 176.0h1M465.7 109.9h1M510.6 221.6h1M257.6 154.1h1M216.0 184.0h1M272.7 162.4h1M480.3 96.5h1M399.2 203.6h1M356.6 224.4h1M298.1 169.8h1M405.3 177.4h1M398.0 233.8h1M222.1 141.2h1M427.9 174.4h1M472.2 135.3h1M245.5 210.6h1M264.2 178.5h1M273.1 240.9h1M377.0 239.0h1M201.6 120.0h1M353.0 219.9h1M493.4 161.9h1M339.6 133.3h1M464.0 174.7h1M388.4 152.9h1M318.9 226.4h1M381.1 214.3h1M454.0 115.7h1M447.3 94.1h1M483.7 126.4h1M472.2 185.5h1M312.0 219.9h1M371.2 220.1h1M262.4 150.2h1M379.4 226.7h1M482.6 155.9h1M476.0 125.0h1M500.5 188.2h1M505.6 102.5h1M336.2 136.6h1M218.6 123.3h1M527.5 236.1h1M356.0 242.4h1M225.2 117.3h1M363.2 170.4h1M248.9 171.4h1M332.7 207.1h1M475.0 175.3h1M245.0 169.1h1M477.4 237.6h1M491.0 106.3h1M230.8 208.2h1M523.2 136.6h1M458.7 243.1h1M299.1 192.2h1M414.5 233.7h1M225.9 201.1h1M390.5 153.3h1M253.9 231.3h1M312.5 178.4h1M267.1 166.8h1M403.2 157.5h1M425.0 166.1h1M323.5 137.3h1M210.6 141.7h1M240.8 181.5h1M356.1 100.1h1M385.5 68.1h1M386.7 72.6h1M375.2 114.5h1M404.1 76.0h1M411.5 87.5h1M404.5 94.0h1M423.5 79.6h1M428.4 89.5h1M440.5 79.5h1M435.1 95.8h1M460.9 63.7h1M440.6 110.4h1M447.2 103.9h1M456.5 108.7h1M474.0 116.6h1M487.3 111.8h1M503.2 81.8h1M502.7 90.2h1M522.7 73.3h1M514.4 106.4h1M519.0 100.9h1" stroke="#2a0306" stroke-width="1" fill="none"/>
<path d="M451.0 175.4h1M251.7 136.3h1M412.1 140.5h1M267.8 133.2h1M242.2 217.3h1M412.5 244.4h1M454.1 178.3h1M456.9 151.3h1M412.3 160.0h1M421.2 170.9h1M482.7 112.7h1M381.0 115.6h1M239.2 196.5h1M491.4 199.6h1M355.2 225.9h1M493.6 144.2h1M222.1 122.8h1M528.7 218.7h1M206.8 171.2h1M254.3 203.2h1M444.4 145.2h1M361.2 225.2h1M391.5 190.0h1M439.8 122.2h1M251.6 132.3h1M386.8 165.0h1M307.6 191.6h1M452.3 166.4h1M397.9 202.8h1M260.8 209.5h1M418.3 114.1h1M531.5 206.5h1M415.2 165.3h1M322.4 228.9h1M402.5 153.6h1M510.4 158.7h1M367.6 149.2h1M470.4 201.3h1M387.3 218.2h1M493.9 133.2h1M498.5 123.0h1M348.7 240.7h1M241.1 223.3h1M293.5 133.2h1M499.3 181.3h1M379.7 172.8h1M341.1 135.0h1M289.9 170.2h1M407.1 147.6h1M498.1 242.9h1M450.4 222.5h1M478.9 216.3h1M409.9 212.6h1M418.4 111.0h1M498.6 112.3h1M335.2 166.1h1M358.5 140.0h1M304.8 236.7h1M319.9 227.1h1M303.1 196.6h1M466.7 143.0h1M235.6 174.5h1M328.0 178.5h1M510.0 165.7h1M352.6 209.3h1M513.8 187.3h1M507.1 238.1h1M388.8 138.7h1M250.1 152.1h1M524.6 201.6h1M393.1 196.2h1M218.6 116.2h1M324.0 179.0h1M476.3 91.2h1M193.0 125.4h1M309.2 198.2h1M434.3 148.3h1M298.4 149.5h1M483.0 132.5h1M272.7 214.3h1M346.6 178.0h1M361.2 161.4h1M223.6 143.4h1M424.0 198.0h1M255.5 161.0h1M395.7 132.0h1M501.1 202.0h1M290.1 157.1h1M333.6 207.7h1M507.0 130.5h1M495.5 138.2h1M246.8 185.5h1M269.8 224.1h1M361.8 157.8h1M272.7 154.2h1M294.2 232.9h1M261.5 149.8h1M462.2 220.4h1M366.0 168.3h1M331.4 213.2h1M467.3 178.0h1M456.9 204.0h1M241.3 137.2h1M214.9 126.5h1M402.9 220.0h1M293.8 153.6h1M460.8 167.6h1M388.8 238.8h1M466.2 232.3h1M243.2 134.8h1M229.0 137.5h1M243.0 203.1h1M309.9 232.6h1M510.8 215.6h1M438.9 121.4h1M401.2 145.3h1M458.8 154.1h1M474.3 178.6h1M508.3 78.1h1M263.6 218.2h1M320.5 130.4h1M374.7 162.2h1M285.3 216.7h1M511.9 81.2h1M417.7 141.6h1M457.8 104.2h1M332.9 227.0h1M433.7 163.3h1M386.2 118.0h1M343.6 147.9h1M523.0 183.3h1M507.4 134.9h1M342.2 126.2h1M478.1 170.8h1M278.1 180.6h1M312.7 216.8h1M517.2 98.0h1M241.3 149.6h1M469.9 230.5h1M342.3 209.8h1M212.6 147.2h1M191.0 130.2h1M258.9 165.7h1M470.3 167.9h1M348.2 97.7h1M359.6 97.7h1M353.6 110.3h1M348.8 121.8h1M372.0 92.3h1M367.8 98.6h1M365.3 100.1h1M360.7 117.6h1M382.5 74.0h1M362.3 124.0h1M368.8 127.5h1M383.3 100.4h1M380.1 106.3h1M399.4 74.2h1M393.1 100.0h1M380.8 122.3h1M396.3 97.2h1M402.1 96.0h1M390.3 123.1h1M425.3 84.3h1M409.6 111.5h1M456.2 97.1h1M462.2 100.5h1M458.7 107.1h1M466.7 106.7h1M479.6 100.1h1M492.7 75.7h1M485.2 91.2h1M484.5 94.5h1M484.5 116.6h1M497.1 114.8h1M494.3 121.9h1M517.4 104.0h1M522.4 100.6h1M522.7 124.8h1" stroke="#220205" stroke-width="1" fill="none"/>
<path d="M483.9 165.0h1M400.7 127.9h1M327.6 223.3h1M492.6 222.2h1M339.8 180.4h1M436.2 96.4h1M486.6 146.4h1M395.2 203.5h1M284.8 141.1h1M247.7 236.5h1M265.1 235.3h1M339.0 241.1h1M245.7 211.2h1M520.9 101.6h1M502.6 190.1h1M511.8 109.1h1M297.6 231.5h1M489.9 88.5h1M302.0 139.6h1M479.4 202.7h1M517.9 84.9h1M235.2 191.5h1M402.8 173.9h1M256.2 152.4h1M434.9 196.6h1M529.1 170.1h1M392.6 211.5h1M480.7 201.9h1M524.8 132.1h1M507.6 91.8h1M200.4 115.9h1M212.0 167.5h1M490.0 243.8h1M413.5 184.5h1M252.3 232.1h1M418.9 183.0h1M315.1 135.8h1M260.0 239.1h1M318.2 209.4h1M336.7 226.1h1M300.7 232.6h1M250.6 218.0h1M484.7 173.7h1M473.6 146.2h1M339.1 127.6h1M479.1 216.6h1M398.3 153.0h1M485.5 176.3h1M393.0 174.4h1M346.2 221.9h1M180.1 120.9h1M327.8 189.2h1M442.8 114.6h1M520.7 102.8h1M418.9 152.7h1M487.0 127.4h1M500.8 173.9h1M363.0 227.4h1M314.1 181.4h1M454.2 201.1h1M431.5 206.0h1M325.9 195.1h1M533.4 233.9h1M232.6 127.5h1M359.4 186.8h1M257.1 228.2h1M281.8 145.0h1M255.8 151.5h1M408.1 191.5h1M383.3 132.5h1M259.0 181.8h1M256.9 126.5h1M486.2 161.5h1M517.7 133.0h1M314.8 173.2h1M396.1 223.6h1M425.2 152.8h1M406.8 186.1h1M255.7 162.3h1M455.1 234.0h1M438.9 226.7h1M283.2 128.1h1M295.9 152.1h1M465.9 189.2h1M394.1 133.6h1M331.1 181.5h1M285.2 121.3h1M257.9 244.1h1M379.9 146.1h1M513.3 218.8h1M508.7 103.7h1M401.9 226.8h1M507.1 96.9h1M464.2 156.1h1M416.6 133.2h1M428.3 174.4h1M448.5 127.5h1M332.2 173.2h1M436.3 107.4h1M436.0 210.4h1M433.8 104.1h1M427.5 180.4h1M236.4 182.0h1M269.0 199.0h1M331.3 159.9h1M468.3 114.5h1M250.4 181.6h1M261.8 217.8h1M371.9 180.0h1M217.4 170.0h1M299.8 191.5h1M233.6 135.5h1M257.2 207.9h1M287.8 174.1h1M321.8 139.1h1M348.7 187.5h1M374.8 81.6h1M369.2 105.2h1M365.4 112.6h1M386.9 79.9h1M380.7 92.2h1M371.3 123.8h1M392.0 92.5h1M387.8 94.0h1M395.8 89.7h1M383.9 122.9h1M415.5 77.1h1M411.2 107.3h1M429.2 74.0h1M425.9 87.6h1M448.9 86.4h1M459.0 69.7h1M469.6 70.9h1M476.1 66.0h1M471.4 88.7h1M485.2 65.5h1M479.3 97.1h1M476.6 107.1h1M479.7 116.1h1M491.2 115.8h1M505.0 92.9h1M505.8 95.5h1M501.9 102.7h1M510.8 91.0h1M520.8 80.2h1M523.0 103.6h1M518.8 127.9h1" stroke="#33040a" stroke-width="1" fill="none"/>
<path d="M405.6 11.6h1M405.4 17.7h1M404.3 35.9h1M402.9 52.0h1M407.8 28.1h1M407.0 32.2h1M405.6 48.0h1M403.8 50.2h1M404.7 52.4h1M408.6 30.0h1M414.0 12.8h1M412.6 24.5h1M410.1 34.3h1M410.7 40.7h1M409.4 46.3h1M414.8 14.8h1M415.7 17.0h1M418.8 9.1h1M414.2 43.2h1M412.6 51.4h1M420.2 21.2h1M418.3 27.1h1M416.9 35.4h1M419.3 45.6h1M417.1 51.7h1M418.6 53.6h1M423.2 23.5h1M420.8 50.2h1M426.1 19.8h1M424.6 37.9h1M428.5 16.0h1M428.5 26.2h1M427.1 34.7h1M432.2 10.8h1M429.9 24.7h1M427.1 44.7h1M427.2 48.6h1M434.5 11.2h1M431.4 29.0h1M431.8 35.2h1M429.4 49.2h1M435.6 13.2h1M434.1 25.2h1M433.1 33.4h1M438.1 9.2h1M437.4 17.5h1M437.2 21.1h1M434.5 41.5h1M433.1 53.2h1M441.0 15.5h1M440.3 23.9h1M439.0 25.5h1M435.1 53.9h1M438.6 52.3h1M444.8 24.7h1M443.9 32.7h1M441.8 38.0h1M442.6 40.4h1M442.1 44.2h1M440.5 56.3h1M448.8 8.6h1M451.1 9.0h1M449.6 16.4h1M447.2 31.1h1M447.8 32.8h1M445.8 43.2h1M447.6 47.0h1M448.3 49.1h1M447.1 57.2h1M455.3 9.1h1M451.9 27.0h1M450.4 38.9h1M452.0 43.5h1M452.5 49.5h1M450.6 55.9h1M458.6 21.8h1M455.7 41.6h1M453.7 51.8h1M454.7 54.0h1M454.1 58.3h1M464.2 14.5h1M462.2 20.7h1M461.4 28.5h1M461.3 34.2h1M465.9 14.8h1M461.6 40.8h1M462.6 43.0h1M460.0 56.5h1M468.0 18.9h1M466.0 24.8h1M469.3 17.2h1M467.3 43.4h1M465.3 49.3h1M472.5 9.3h1M467.9 49.4h1M472.3 25.8h1M478.2 8.2h1M476.9 19.8h1M475.4 28.4h1M472.5 46.3h1M479.6 12.4h1M475.8 38.6h1M475.5 42.1h1M481.5 10.8h1M478.7 34.5h1M477.4 52.5h1M483.5 10.6h1M483.0 25.1h1M480.7 41.0h1M483.2 35.3h1M489.1 9.5h1M488.3 10.9h1M488.5 13.2h1M485.8 27.5h1M483.9 43.1h1M482.8 51.6h1M490.0 11.2h1M490.1 21.3h1M487.3 42.0h1M485.8 47.9h1M493.8 9.9h1M492.8 17.9h1M491.2 33.6h1M489.9 35.9h1M492.5 42.6h1M490.0 58.0h1M488.5 60.1h1M493.8 40.4h1M492.8 59.1h1M499.4 18.9h1M497.2 28.9h1M496.2 37.0h1M494.8 58.6h1M494.0 63.0h1M502.3 14.7h1M500.2 25.2h1M499.1 43.4h1M503.7 23.2h1M501.5 29.3h1M500.7 47.5h1M505.1 17.4h1M503.2 43.3h1M502.7 52.0h1M509.8 11.6h1M509.3 15.8h1M506.7 32.1h1M505.7 40.2h1M511.0 20.5h1M509.5 22.0h1M510.1 28.3h1M508.0 34.4h1M508.2 39.8h1M507.5 48.6h1M506.6 52.2h1M514.1 12.3h1M512.4 28.3h1M509.6 38.2h1M507.7 64.4h1M516.0 16.9h1M514.3 18.6h1M513.6 32.6h1M510.8 46.8h1M510.2 54.4h1M510.4 57.0h1M512.3 61.3h1M512.1 64.7h1M519.4 11.2h1M518.0 33.2h1M514.6 65.8h1M521.3 19.5h1M519.2 41.8h1M523.6 15.8h1M522.1 31.3h1M519.5 51.9h1M518.2 64.2h1M518.5 66.0h1M526.9 8.0h1M527.2 18.0h1M522.6 44.1h1M528.5 12.2h1M527.5 24.2h1M528.1 25.9h1M526.6 38.7h1M525.0 54.2h1M523.5 62.1h1M531.5 8.3h1M530.3 26.7h1M528.4 32.1h1M526.5 52.2h1M525.6 56.7h1M523.9 68.3h1M532.2 20.3h1M533.1 23.0h1M531.0 42.8h1M529.9 46.8h1M527.6 57.2h1M527.4 60.8h1M534.9 16.9h1M534.1 21.2h1M533.1 28.9h1M533.3 32.8h1M531.6 41.3h1M532.3 51.1h1M531.0 59.6h1M536.3 35.1h1M533.7 55.8h1M532.9 59.7h1M533.3 65.7h1M536.4 68.1h1" stroke="#c84a18" stroke-width="1" fill="none"/>
<path d="M404.5 15.2h1M402.4 35.4h1M400.7 47.3h1M406.1 20.1h1M406.3 24.1h1M402.5 41.8h1M409.9 12.1h1M408.0 17.6h1M405.3 38.3h1M404.9 46.2h1M411.6 12.4h1M407.5 38.5h1M406.9 52.2h1M414.3 8.7h1M413.6 16.4h1M415.1 35.4h1M413.7 47.4h1M421.1 13.0h1M418.7 29.1h1M416.5 39.1h1M415.5 47.1h1M423.3 13.3h1M419.3 41.8h1M419.1 49.6h1M425.7 13.7h1M420.9 54.1h1M423.5 40.5h1M422.0 52.5h1M423.0 54.4h1M426.3 36.5h1M425.8 50.3h1M429.1 38.9h1M427.8 40.9h1M433.2 12.5h1M432.9 20.5h1M430.4 41.2h1M429.9 44.8h1M429.2 55.3h1M436.3 15.5h1M431.0 49.2h1M435.7 29.3h1M434.3 45.2h1M436.7 41.9h1M436.6 52.1h1M442.9 9.6h1M441.6 22.1h1M441.0 26.0h1M438.9 42.0h1M445.3 20.3h1M439.9 54.2h1M446.7 14.3h1M445.3 26.2h1M444.5 44.8h1M449.7 10.6h1M450.8 12.8h1M449.3 20.7h1M446.4 39.2h1M446.8 44.7h1M450.8 29.3h1M448.7 34.7h1M448.0 43.3h1M448.9 45.5h1M452.5 29.7h1M451.8 41.8h1M456.2 11.5h1M455.8 15.1h1M454.5 27.2h1M455.0 29.7h1M453.0 45.3h1M456.7 27.8h1M461.0 8.2h1M461.2 18.0h1M456.0 48.4h1M456.4 58.2h1M464.5 10.7h1M461.3 38.7h1M460.0 46.9h1M458.5 52.2h1M466.2 10.3h1M463.9 30.7h1M462.7 36.7h1M461.0 45.1h1M460.7 52.5h1M464.2 41.1h1M463.2 54.9h1M462.1 57.3h1M469.3 27.4h1M466.6 41.4h1M465.9 51.6h1M469.3 33.7h1M466.2 57.9h1M469.2 57.6h1M476.5 30.1h1M473.7 54.4h1M478.9 36.7h1M479.1 40.9h1M482.3 28.6h1M480.1 49.2h1M478.7 50.7h1M484.7 22.8h1M481.2 61.2h1M488.3 21.8h1M484.3 39.0h1M488.0 31.8h1M485.1 51.8h1M485.4 58.2h1M492.2 15.8h1M490.9 24.2h1M488.6 43.6h1M488.5 48.0h1M488.9 49.9h1M495.8 13.9h1M493.8 30.2h1M491.8 36.0h1M497.9 10.7h1M499.1 16.5h1M499.3 22.9h1M496.0 46.9h1M501.0 27.4h1M499.2 28.6h1M495.8 56.7h1M495.6 61.0h1M503.5 13.4h1M502.7 21.3h1M499.1 59.7h1M497.5 61.5h1M506.8 11.8h1M503.5 33.8h1M504.3 39.4h1M502.0 45.6h1M508.6 9.9h1M507.4 17.8h1M506.1 46.1h1M504.8 57.7h1M505.3 64.2h1M513.4 10.0h1M511.7 32.7h1M508.9 46.4h1M514.0 28.3h1M511.4 48.9h1M509.4 58.5h1M509.1 63.1h1M517.2 20.9h1M516.6 28.9h1M515.2 30.9h1M515.8 32.7h1M513.3 43.0h1M512.9 46.7h1M513.6 53.1h1M521.3 8.9h1M520.1 16.9h1M515.6 47.4h1M523.4 9.3h1M518.7 49.5h1M517.5 51.4h1M521.2 35.6h1M521.8 41.6h1M518.7 56.0h1M517.8 67.5h1M525.0 23.5h1M524.3 37.9h1M523.0 50.1h1M521.7 52.1h1M522.6 54.0h1M519.7 67.9h1M522.6 60.5h1M531.0 18.4h1M530.0 20.6h1M528.4 42.3h1M527.6 50.8h1M528.5 49.1h1M527.6 71.1h1M535.8 8.8h1M536.1 15.2h1M535.4 23.4h1M530.0 56.9h1M530.1 62.9h1M535.7 29.5h1M533.5 45.4h1M532.6 53.2h1M532.3 67.7h1" stroke="#d8341a" stroke-width="1" fill="none"/>
<path d="M404.0 19.1h1M402.7 31.6h1M400.5 51.3h1M401.4 50.0h1M407.8 21.7h1M405.7 44.2h1M410.7 24.5h1M412.3 22.2h1M411.6 26.9h1M410.3 44.9h1M408.2 50.8h1M413.7 37.2h1M415.4 40.8h1M419.2 15.3h1M415.5 51.1h1M422.5 21.6h1M420.5 23.7h1M421.9 31.7h1M426.5 15.6h1M424.6 27.7h1M429.3 12.2h1M430.0 14.7h1M425.9 47.0h1M430.5 16.9h1M433.7 8.6h1M430.2 46.9h1M437.4 10.9h1M434.8 17.2h1M436.1 18.8h1M435.3 27.6h1M433.9 39.3h1M433.2 43.1h1M430.4 53.4h1M440.4 9.2h1M438.2 29.7h1M436.1 49.5h1M436.1 55.9h1M443.5 16.4h1M444.7 14.3h1M443.2 26.2h1M442.4 30.5h1M448.1 12.6h1M442.7 50.6h1M445.3 46.8h1M445.8 53.3h1M451.3 14.9h1M450.7 19.1h1M450.7 23.0h1M450.6 33.5h1M448.5 39.0h1M448.0 53.6h1M454.8 13.6h1M453.3 25.0h1M457.4 10.0h1M455.9 21.4h1M454.8 33.7h1M453.4 35.8h1M454.6 37.4h1M453.7 41.5h1M452.6 54.0h1M458.7 11.7h1M462.5 9.9h1M460.8 11.7h1M459.0 33.9h1M459.4 40.3h1M459.3 44.1h1M464.3 26.8h1M463.4 29.0h1M462.2 46.7h1M460.5 48.3h1M463.9 45.3h1M465.6 44.9h1M472.1 13.7h1M474.2 9.8h1M473.1 21.9h1M472.5 39.5h1M476.2 14.2h1M477.3 16.1h1M473.2 48.5h1M479.2 9.8h1M477.2 26.1h1M478.0 28.4h1M477.3 32.4h1M476.5 44.3h1M475.1 52.2h1M474.5 56.1h1M480.3 28.8h1M478.7 30.7h1M478.5 45.1h1M475.2 58.5h1M482.3 23.2h1M481.8 26.7h1M481.9 36.7h1M483.6 30.9h1M481.9 49.2h1M483.7 47.5h1M483.4 57.8h1M490.8 13.2h1M491.8 20.2h1M492.7 21.8h1M492.3 25.9h1M487.9 52.0h1M486.9 60.0h1M494.7 12.3h1M492.6 28.3h1M491.2 40.0h1M490.9 44.5h1M496.0 26.4h1M495.4 54.9h1M493.6 57.1h1M493.2 61.1h1M497.9 41.3h1M497.4 44.6h1M504.0 19.3h1M502.8 27.4h1M499.5 55.8h1M498.1 57.6h1M506.9 15.9h1M504.5 31.8h1M503.3 47.8h1M501.3 59.5h1M508.4 23.7h1M506.4 25.9h1M503.0 54.0h1M507.1 38.0h1M506.2 49.8h1M509.9 34.2h1M508.1 50.5h1M507.9 54.5h1M507.3 58.3h1M508.1 60.9h1M513.0 30.4h1M512.8 34.9h1M512.5 40.9h1M517.4 10.8h1M514.6 35.0h1M514.0 38.5h1M514.2 48.7h1M513.4 57.0h1M519.0 18.7h1M522.4 17.7h1M515.7 63.3h1M520.0 43.8h1M520.3 53.9h1M519.1 61.6h1M527.6 10.1h1M520.5 64.0h1M524.9 44.0h1M529.5 34.9h1M532.6 16.3h1M531.9 30.6h1M531.4 34.8h1M530.3 36.5h1M528.6 62.8h1M527.1 64.8h1M536.1 25.4h1M534.4 36.9h1M532.5 57.0h1" stroke="#a81018" stroke-width="1" fill="none"/>
<path d="M401.2 43.6h1M408.1 8.1h1M404.9 21.8h1M405.4 27.8h1M405.1 31.4h1M403.4 33.9h1M408.7 20.3h1M406.9 29.8h1M411.0 13.9h1M409.1 36.3h1M407.9 44.3h1M406.5 46.5h1M407.3 48.1h1M405.9 50.2h1M410.2 38.6h1M410.0 48.7h1M417.2 9.0h1M415.5 20.5h1M415.1 24.7h1M411.7 43.1h1M418.0 16.9h1M415.7 27.0h1M414.8 45.1h1M419.3 19.4h1M419.6 25.5h1M416.3 49.6h1M421.9 15.4h1M421.5 25.4h1M418.9 39.5h1M425.2 18.1h1M422.2 28.2h1M421.7 46.3h1M426.8 8.2h1M426.9 12.2h1M426.1 26.5h1M425.4 29.8h1M424.0 32.1h1M424.2 35.9h1M423.8 42.5h1M422.6 48.6h1M425.3 40.1h1M425.3 54.8h1M430.7 22.6h1M428.5 37.0h1M428.3 46.5h1M426.4 52.5h1M433.7 19.2h1M433.3 23.0h1M430.4 37.0h1M436.0 8.7h1M435.0 31.0h1M438.0 19.9h1M436.7 31.3h1M439.8 13.3h1M439.4 27.6h1M437.7 33.6h1M442.0 17.7h1M440.0 44.1h1M445.6 12.5h1M445.5 16.1h1M443.8 17.8h1M443.3 22.4h1M445.5 36.4h1M445.0 40.4h1M443.3 42.2h1M441.7 54.5h1M448.4 18.5h1M447.7 37.0h1M444.3 50.9h1M449.0 31.2h1M449.5 37.3h1M446.9 51.0h1M446.5 55.3h1M453.9 10.8h1M452.6 23.3h1M452.5 33.5h1M457.0 13.6h1M455.5 19.6h1M454.8 23.8h1M458.2 16.0h1M456.2 32.2h1M455.3 39.6h1M460.4 22.3h1M458.2 31.8h1M457.3 40.4h1M463.0 8.4h1M458.8 48.8h1M457.7 56.5h1M464.8 12.5h1M464.9 22.7h1M464.0 34.6h1M463.0 39.1h1M461.1 54.9h1M467.9 8.5h1M468.4 10.9h1M466.3 30.7h1M462.8 53.2h1M469.8 9.3h1M466.0 55.4h1M472.9 11.6h1M472.6 15.1h1M469.9 29.5h1M470.6 31.8h1M469.3 37.7h1M469.4 43.7h1M468.4 45.2h1M474.0 13.9h1M475.1 16.1h1M473.8 28.1h1M471.4 33.4h1M470.8 47.7h1M469.6 54.2h1M475.1 21.8h1M476.3 24.4h1M474.5 39.9h1M472.5 51.8h1M477.8 22.1h1M478.4 24.7h1M476.9 36.0h1M476.5 40.4h1M480.5 14.8h1M481.9 16.3h1M480.7 24.5h1M476.5 61.1h1M479.4 42.9h1M478.1 59.3h1M478.6 61.4h1M486.2 17.4h1M483.7 26.9h1M483.7 37.0h1M487.3 29.4h1M486.0 37.4h1M482.1 59.8h1M489.1 24.0h1M486.4 43.4h1M486.6 49.4h1M484.5 55.8h1M491.8 29.9h1M490.3 38.2h1M494.4 16.0h1M495.4 18.5h1M492.5 31.9h1M489.7 52.1h1M494.8 32.4h1M495.7 34.9h1M494.7 42.8h1M493.0 44.5h1M497.8 31.2h1M501.7 8.6h1M502.8 10.6h1M500.2 20.7h1M498.1 47.3h1M497.4 54.9h1M496.9 63.1h1M501.1 32.8h1M499.4 45.4h1M499.0 53.0h1M498.7 63.8h1M504.3 35.7h1M503.0 37.5h1M500.9 53.2h1M502.2 55.9h1M499.9 61.8h1M508.8 20.0h1M506.6 35.6h1M504.4 51.6h1M504.4 56.1h1M510.8 9.6h1M510.6 13.7h1M509.6 18.2h1M509.5 32.3h1M509.2 36.1h1M510.9 30.3h1M510.5 40.3h1M508.7 56.2h1M515.2 10.6h1M516.3 12.5h1M510.5 50.4h1M518.0 13.0h1M518.2 17.3h1M514.6 45.4h1M510.5 67.0h1M519.6 24.9h1M516.7 35.2h1M515.6 53.0h1M522.7 13.1h1M519.4 35.8h1M517.7 57.8h1M523.5 26.0h1M521.9 27.5h1M522.0 38.1h1M520.7 49.5h1M520.1 58.1h1M518.0 60.0h1M524.2 32.1h1M523.7 46.2h1M521.2 56.2h1M522.2 58.2h1M528.9 17.9h1M526.5 32.2h1M527.5 34.0h1M525.6 36.3h1M525.0 50.3h1M524.1 52.3h1M521.8 68.1h1M528.8 38.9h1M532.8 12.8h1M530.9 32.8h1M531.2 38.6h1M528.0 52.7h1M527.9 66.6h1M534.1 24.9h1M532.6 43.5h1M531.4 45.0h1M531.3 49.3h1M529.5 61.0h1M534.2 41.0h1M532.4 63.2h1M535.1 53.9h1M534.6 57.9h1M534.8 63.4h1M533.0 69.9h1M533.6 71.5h1M535.9 65.7h1" stroke="#d86018" stroke-width="1" fill="none"/>
<path d="M407.0 9.5h1M403.8 29.7h1M401.9 45.7h1M402.9 47.9h1M410.6 8.1h1M408.2 13.7h1M409.0 15.8h1M406.4 40.4h1M405.2 42.1h1M410.5 18.3h1M409.9 22.1h1M408.9 26.4h1M409.5 32.4h1M408.5 34.4h1M413.4 10.7h1M412.6 28.7h1M410.7 30.2h1M409.6 52.9h1M413.6 26.5h1M412.0 39.1h1M416.6 18.7h1M417.6 25.4h1M415.3 31.0h1M414.5 49.0h1M418.9 23.1h1M417.3 31.5h1M418.1 37.3h1M421.2 19.4h1M419.6 35.8h1M420.0 37.7h1M418.6 43.4h1M424.1 25.8h1M423.7 29.7h1M420.7 39.8h1M421.7 42.0h1M419.8 52.0h1M427.9 14.2h1M425.3 24.0h1M423.1 44.4h1M428.1 20.0h1M426.8 32.8h1M426.6 38.6h1M425.1 44.5h1M425.0 48.3h1M431.7 8.3h1M432.5 14.4h1M427.8 50.6h1M429.8 50.8h1M435.7 23.3h1M434.5 35.3h1M433.0 47.0h1M438.3 13.4h1M436.5 35.3h1M435.6 43.4h1M441.4 11.3h1M437.8 40.0h1M437.9 44.2h1M436.0 45.7h1M443.4 12.2h1M441.5 32.5h1M440.0 39.7h1M437.7 50.4h1M441.0 42.3h1M440.4 50.6h1M441.2 52.6h1M447.7 10.1h1M447.1 24.6h1M446.4 28.7h1M445.1 30.4h1M443.7 48.5h1M448.8 28.6h1M445.4 57.0h1M452.8 8.7h1M449.4 41.5h1M450.4 43.2h1M452.7 39.3h1M451.9 47.8h1M451.4 51.6h1M459.2 18.3h1M457.2 24.2h1M457.4 30.0h1M455.5 45.8h1M454.2 48.1h1M453.5 55.8h1M460.6 15.8h1M459.2 24.2h1M458.8 27.9h1M457.6 35.9h1M463.1 18.2h1M461.0 32.1h1M460.4 42.5h1M459.7 50.5h1M465.0 16.7h1M460.7 58.7h1M464.6 42.9h1M464.5 47.2h1M470.5 14.9h1M469.7 19.1h1M466.9 33.0h1M471.9 19.8h1M470.5 25.7h1M468.9 47.3h1M468.2 56.1h1M474.8 19.8h1M472.2 30.1h1M470.6 52.1h1M477.5 11.6h1M474.3 29.8h1M474.4 35.9h1M471.8 54.0h1M478.7 20.5h1M474.0 50.4h1M473.1 58.5h1M479.8 26.2h1M477.6 43.0h1M483.2 20.9h1M480.0 38.9h1M485.9 11.2h1M484.8 18.8h1M485.3 21.5h1M484.0 33.6h1M483.0 45.7h1M479.9 59.6h1M485.7 31.0h1M486.4 33.6h1M485.2 41.6h1M482.3 55.3h1M488.6 37.5h1M489.7 41.9h1M487.7 57.8h1M487.7 62.4h1M493.0 24.2h1M494.3 26.4h1M493.5 33.9h1M493.0 38.4h1M491.8 46.2h1M489.0 56.2h1M489.4 62.5h1M497.2 12.1h1M497.8 14.3h1M496.6 16.0h1M494.1 36.7h1M494.3 46.7h1M493.2 54.7h1M495.5 44.8h1M494.8 49.1h1M501.2 17.2h1M500.5 31.0h1M499.7 38.9h1M496.8 59.2h1M501.8 35.0h1M504.5 25.8h1M505.3 27.7h1M504.6 41.9h1M511.6 12.4h1M505.4 54.3h1M506.4 56.6h1M504.8 62.0h1M512.5 24.4h1M510.7 36.6h1M516.8 8.4h1M513.1 26.4h1M511.7 38.4h1M515.6 36.6h1M512.0 55.1h1M512.0 58.6h1M510.9 62.9h1M518.1 22.6h1M518.8 29.1h1M516.9 41.5h1M515.8 43.3h1M514.8 55.5h1M520.4 33.3h1M519.1 45.8h1M522.9 19.2h1M520.9 39.6h1M524.9 33.8h1M522.8 39.7h1M522.2 48.3h1M522.8 64.2h1M530.8 12.5h1M531.8 14.2h1M529.4 24.1h1M528.8 28.3h1M529.9 30.8h1M526.9 44.3h1M525.8 67.1h1M531.9 24.6h1M529.0 44.6h1M529.0 54.9h1M526.6 69.0h1M535.7 18.9h1M532.4 37.1h1M532.6 47.0h1M530.9 52.9h1M529.1 65.3h1M533.0 49.5h1M531.8 61.7h1M535.3 49.3h1M536.1 51.4h1M534.2 67.9h1M535.1 69.7h1M536.0 72.1h1M535.1 74.1h1" stroke="#e01c28" stroke-width="1" fill="none"/>
<path d="M406.2 13.5h1M407.2 16.0h1M411.4 16.2h1M412.5 14.4h1M413.5 20.5h1M415.4 11.0h1M416.3 12.6h1M412.6 45.0h1M411.3 46.6h1M417.1 29.2h1M416.4 32.9h1M415.9 37.3h1M414.3 39.4h1M420.0 11.2h1M420.3 17.7h1M423.4 9.4h1M423.3 20.0h1M423.1 34.1h1M428.8 22.6h1M427.9 24.4h1M427.7 30.9h1M423.8 52.8h1M431.1 12.5h1M429.2 32.6h1M429.7 34.4h1M434.8 21.4h1M433.9 29.2h1M432.1 41.3h1M432.1 51.7h1M438.3 15.8h1M433.7 49.4h1M439.8 17.6h1M440.6 19.8h1M439.3 21.5h1M438.5 36.1h1M437.1 37.6h1M437.1 47.6h1M440.4 30.1h1M440.9 36.2h1M438.8 45.9h1M439.3 48.3h1M442.3 33.9h1M443.2 36.2h1M446.2 18.7h1M444.2 38.9h1M442.9 46.5h1M443.2 56.7h1M449.4 14.9h1M448.2 22.9h1M447.3 27.0h1M446.7 41.0h1M453.4 19.2h1M450.9 35.5h1M450.3 49.7h1M449.0 51.0h1M449.7 57.2h1M451.9 58.1h1M461.8 14.3h1M456.5 44.4h1M455.7 52.4h1M463.1 12.5h1M462.8 16.2h1M462.2 26.8h1M458.4 58.6h1M461.7 51.1h1M466.5 20.8h1M467.3 22.9h1M465.2 39.1h1M464.2 50.9h1M468.4 20.9h1M469.5 22.9h1M468.9 31.7h1M468.0 35.0h1M467.2 37.1h1M463.9 57.4h1M465.2 59.3h1M470.8 21.8h1M469.8 40.0h1M473.7 17.5h1M472.9 36.2h1M470.4 41.5h1M476.1 17.9h1M473.9 34.1h1M472.4 56.3h1M474.8 46.1h1M480.9 20.4h1M476.4 50.9h1M484.0 16.7h1M482.2 33.3h1M485.0 25.1h1M482.0 39.4h1M481.9 43.4h1M481.1 51.0h1M480.5 55.1h1M481.4 57.7h1M487.1 19.1h1M488.6 27.4h1M488.3 33.8h1M492.4 11.5h1M495.4 8.2h1M496.2 9.8h1M494.8 22.6h1M491.5 50.4h1M495.9 24.3h1M492.7 48.8h1M493.2 50.2h1M498.0 35.1h1M495.8 51.2h1M494.5 52.5h1M501.0 13.0h1M501.8 19.0h1M498.7 36.8h1M499.3 49.7h1M506.0 13.5h1M502.3 41.3h1M507.8 28.0h1M504.7 45.5h1M503.0 57.9h1M510.1 24.2h1M509.3 48.7h1M509.1 52.2h1M507.0 62.7h1M514.5 14.6h1M515.4 20.9h1M513.2 36.9h1M510.2 64.9h1M518.5 8.7h1M517.0 25.1h1M517.2 31.2h1M516.3 39.2h1M516.8 45.2h1M513.9 59.1h1M513.1 67.1h1M522.3 11.3h1M521.6 21.7h1M518.4 39.7h1M517.9 43.7h1M523.0 23.7h1M520.2 47.7h1M526.3 11.7h1M527.3 14.0h1M526.1 26.2h1M527.7 19.9h1M528.6 21.8h1M525.0 40.1h1M526.0 46.1h1M531.0 22.5h1M525.0 60.9h1M533.8 18.6h1M532.6 26.4h1M531.0 65.3h1M530.9 69.5h1M536.2 61.8h1" stroke="#b8701c" stroke-width="1" fill="none"/>
<path d="M457.5 34.0h1M471.9 45.9h1M459.1 23.8h1M521.9 37.5h1M493.7 42.6h1M445.2 27.7h1M511.1 47.8h1M502.3 36.6h1M466.6 34.0h1M473.9 36.5h1M482.3 31.2h1M495.9 31.3h1M455.3 58.7h1M450.1 26.0h1M495.0 31.1h1M475.1 43.2h1M442.4 27.7h1M477.6 40.9h1M482.9 37.5h1M448.4 30.3h1M478.2 44.6h1M462.6 34.8h1M458.2 35.2h1M480.6 43.7h1M470.6 31.1h1M516.4 25.1h1M476.9 38.9h1M466.6 38.6h1M471.4 48.6h1M475.9 32.5h1M443.3 40.0h1M480.4 27.8h1M486.6 49.2h1M467.5 36.2h1M511.7 37.2h1M466.8 61.7h1M460.1 38.9h1M502.1 31.7h1M501.2 37.3h1M485.2 32.2h1M446.4 38.4h1M472.2 29.9h1M459.0 42.3h1M451.7 38.2h1M490.4 42.2h1M470.4 31.1h1M472.5 21.3h1M455.7 27.1h1M453.7 28.0h1M495.7 41.0h1M455.7 18.9h1M487.3 16.0h1M425.8 23.6h1M463.4 21.9h1M478.4 38.5h1M463.6 50.8h1M471.1 41.5h1M475.4 53.6h1M497.0 62.6h1M450.6 25.7h1M423.7 31.3h1M483.0 38.1h1M459.8 35.3h1M463.8 30.0h1M428.4 31.4h1M517.7 52.4h1M453.3 39.4h1M473.3 38.6h1M499.0 50.2h1M519.9 43.1h1M479.5 39.6h1M448.0 19.5h1M479.0 30.8h1M450.6 26.8h1M458.5 35.6h1" stroke="#a8a020" stroke-width="1" fill="none"/>
<path d="M443.8 22.6h1M480.2 41.9h1M464.8 41.4h1M457.4 29.7h1M511.5 52.2h1M497.4 15.2h1M476.2 27.7h1M493.5 23.6h1M462.1 37.8h1M515.1 32.2h1M458.1 39.0h1M465.0 28.4h1M464.5 25.0h1M461.9 29.4h1M495.3 51.5h1M461.0 33.3h1M479.8 52.7h1M497.8 37.7h1M450.6 39.8h1M498.0 39.4h1M505.2 42.8h1M464.9 35.5h1M480.7 29.1h1M488.9 40.2h1M470.7 46.5h1M476.3 44.7h1M474.3 20.5h1M486.8 36.4h1M457.1 45.5h1M484.8 34.1h1M474.0 51.9h1M438.6 38.6h1M447.9 29.4h1M457.8 54.4h1M487.9 32.3h1M449.7 29.3h1M452.6 45.5h1M448.7 38.1h1M490.9 35.8h1M497.8 55.4h1M452.4 48.1h1M460.7 38.9h1M489.3 52.3h1M486.2 21.8h1M483.1 26.8h1M492.0 34.2h1M508.5 44.7h1M484.2 27.0h1M472.7 20.9h1M472.5 22.3h1M469.6 28.7h1M464.9 26.7h1M462.8 26.8h1M471.1 39.6h1M470.2 30.8h1M444.9 40.6h1M498.1 28.7h1M434.2 24.6h1M450.5 42.9h1M480.5 52.3h1M455.0 42.1h1M446.9 35.3h1M481.7 40.2h1M505.6 39.0h1M481.9 39.2h1M509.2 56.3h1M473.4 47.6h1M509.4 22.4h1M500.1 56.7h1M437.7 34.5h1M433.9 51.1h1M470.6 46.0h1M457.6 41.9h1M495.8 28.9h1M500.5 55.4h1M515.2 57.7h1M483.0 23.8h1M476.3 44.5h1M501.7 41.9h1M471.8 18.3h1M498.1 32.9h1M460.9 25.1h1M474.3 21.6h1M480.4 38.0h1M446.0 42.7h1M448.6 36.7h1M486.5 36.7h1M445.8 34.2h1M468.3 34.3h1M518.4 37.7h1M488.7 46.5h1M493.9 28.3h1M487.6 28.0h1M460.8 34.8h1M479.5 33.3h1M467.0 42.0h1M463.5 26.7h1M477.3 29.3h1" stroke="#b89a20" stroke-width="1" fill="none"/>
<path d="M475.3 23.8h1M488.0 40.1h1M483.2 44.6h1M468.9 40.0h1M476.9 30.2h1M497.9 37.3h1M459.6 43.2h1M463.2 34.7h1M461.0 16.2h1M474.6 27.1h1M446.2 32.8h1M455.3 33.7h1M455.8 34.7h1M479.5 30.5h1M467.3 41.8h1M482.1 32.7h1M513.5 53.1h1M490.0 31.6h1M484.3 40.0h1M444.7 20.7h1M466.8 35.9h1M466.4 23.5h1M461.0 41.3h1M471.4 32.1h1M439.0 22.1h1M451.6 19.8h1M479.4 32.3h1M466.4 38.3h1M445.3 17.7h1M475.6 51.1h1M480.7 44.0h1M469.8 52.6h1M485.1 35.8h1M473.2 17.8h1M508.5 31.4h1M495.4 33.2h1M485.0 44.8h1M454.4 48.8h1M500.8 49.7h1M481.2 45.2h1M475.1 38.1h1M493.0 42.9h1M480.7 29.9h1M507.4 25.7h1M466.1 23.6h1M491.8 19.9h1M450.8 36.1h1M452.9 25.5h1M459.0 27.5h1M496.9 38.8h1M500.3 38.4h1M492.6 28.7h1M458.0 46.2h1M494.8 32.9h1M478.8 29.4h1M480.3 35.3h1M447.8 22.2h1M443.2 43.2h1M452.2 39.2h1M481.7 33.9h1M474.7 60.4h1M472.6 38.9h1M467.7 32.6h1M472.5 31.2h1M489.9 37.2h1M473.4 23.8h1M428.3 39.8h1M505.0 27.2h1M467.1 42.8h1M460.6 41.7h1M482.7 17.8h1M505.7 32.1h1M477.4 40.8h1M427.4 36.7h1M420.0 35.3h1M440.6 17.5h1M471.4 36.8h1M449.3 42.1h1M482.5 34.5h1M458.3 55.4h1M459.9 33.9h1M492.7 23.4h1M461.0 29.6h1M483.1 40.9h1M435.5 33.6h1M452.4 21.8h1M467.3 39.2h1M495.7 29.9h1M477.9 44.5h1M473.2 29.9h1M489.8 26.7h1M503.1 37.4h1M459.8 20.6h1M485.4 36.2h1" stroke="#c8b424" stroke-width="1" fill="none"/>
<path d="M474.3 33.1h1M443.9 27.0h1M469.4 19.4h1M489.1 37.6h1M476.0 37.1h1M481.5 36.2h1M481.6 38.9h1M472.9 20.0h1M509.7 39.5h1M474.9 43.3h1M473.6 43.3h1M447.4 26.7h1M497.7 35.5h1M480.5 33.3h1M490.1 32.9h1M511.7 31.1h1M464.9 18.0h1M478.8 48.0h1M458.9 49.0h1M437.4 19.8h1M461.7 48.1h1M494.6 37.1h1M451.3 48.9h1M434.0 21.5h1M446.1 42.4h1M503.6 53.7h1M480.5 26.0h1M468.3 40.3h1M467.0 28.6h1M471.3 45.0h1M488.6 33.9h1M466.0 44.2h1M446.5 42.7h1M485.1 23.8h1M473.4 30.6h1M502.4 41.2h1M469.7 41.1h1M489.4 35.5h1M478.3 32.7h1M493.8 45.4h1M449.4 34.9h1M462.1 27.0h1M471.7 52.9h1M458.2 43.3h1M456.2 51.2h1M440.6 39.9h1M468.2 44.1h1M504.7 33.8h1M486.1 39.4h1M479.3 28.8h1M468.3 45.8h1M467.9 30.6h1M462.8 27.0h1M411.8 41.2h1M446.4 28.2h1M489.6 37.2h1M446.9 36.1h1M467.4 24.4h1M472.2 32.4h1M464.2 37.9h1M463.9 51.3h1M476.4 39.4h1M474.2 41.1h1M446.2 32.2h1M464.3 46.9h1M500.3 52.0h1M495.4 39.4h1M475.6 37.4h1M499.3 34.0h1M491.8 39.6h1M471.2 26.5h1M470.3 33.4h1M469.9 28.8h1M474.7 41.9h1M472.8 36.9h1M463.8 29.6h1M486.4 39.3h1M459.0 37.1h1M457.7 40.7h1" stroke="#7aa828" stroke-width="1" fill="none"/>
<path d="M428.4 40.6h1M450.8 39.0h1M424.9 27.1h1M458.6 16.2h1M472.4 26.3h1M497.4 42.7h1M448.3 23.4h1M491.0 32.8h1M458.3 31.1h1M463.6 40.1h1M489.8 53.3h1M483.5 34.2h1M483.0 39.8h1M460.0 40.8h1M496.0 37.4h1M459.0 24.1h1M440.5 26.8h1M491.1 36.4h1M439.4 22.7h1M479.4 22.7h1M479.5 33.6h1M437.7 49.4h1M508.3 46.1h1M494.9 44.7h1M479.0 35.4h1M461.3 27.4h1M458.0 29.8h1M432.9 37.3h1M487.1 36.2h1M487.1 35.1h1M482.2 44.9h1M445.7 37.5h1M429.2 15.7h1M452.9 39.9h1M464.0 44.2h1M512.5 35.1h1M481.5 27.1h1M509.1 39.4h1M433.4 26.9h1M492.2 59.3h1M455.9 30.5h1M479.1 45.7h1M468.0 42.4h1M457.7 33.8h1M445.8 30.4h1M475.2 37.6h1M462.2 29.3h1M492.6 24.3h1M453.9 36.3h1M449.6 43.8h1M445.9 28.6h1M455.5 34.3h1M432.6 34.0h1M481.5 38.3h1M456.1 46.6h1M491.6 51.6h1M445.4 31.1h1M495.0 35.8h1M487.1 22.4h1M463.2 54.8h1M465.3 44.1h1M486.1 21.7h1M441.3 24.1h1M481.7 32.2h1M510.1 36.1h1M488.0 38.9h1M460.3 35.4h1M502.5 37.5h1M470.9 40.7h1M485.3 37.2h1M464.4 51.7h1M418.9 10.8h1M416.1 28.1h1M426.7 13.4h1M412.6 9.6h1M408.6 17.0h1M429.5 30.4h1M406.2 33.2h1M413.3 11.0h1M411.6 17.5h1M425.4 13.4h1M414.3 12.9h1M421.6 15.4h1M421.4 24.7h1M414.6 19.0h1M413.3 31.0h1M411.2 22.0h1M411.9 9.0h1M416.4 9.5h1M412.5 10.3h1M413.0 36.5h1M422.8 23.6h1M413.3 9.2h1M406.5 16.4h1M414.7 10.0h1M426.1 26.4h1M417.2 24.1h1M426.9 16.7h1M426.6 27.7h1M419.0 18.6h1M411.4 34.6h1M420.3 10.1h1M415.2 16.9h1M418.8 21.6h1M420.1 23.5h1M418.3 29.2h1" stroke="#d08a1c" stroke-width="1" fill="none"/>
<path d="M418.6 23.8h1M416.7 20.9h1M415.8 16.2h1M428.8 27.8h1M412.5 29.8h1M418.2 17.7h1M417.0 16.4h1M432.4 16.5h1M410.5 28.2h1M421.1 21.9h1M409.5 24.0h1M407.6 21.3h1M414.1 13.0h1M415.9 12.4h1M413.8 23.4h1M412.4 15.1h1M419.9 16.0h1M413.9 17.7h1M420.3 14.1h1M417.5 25.3h1M415.8 12.5h1M425.5 22.7h1M408.4 21.3h1M415.1 16.7h1" stroke="#c86a18" stroke-width="1" fill="none"/>
<path d="M426.3 16.2h1M422.3 15.0h1M411.3 19.3h1M422.0 34.1h1M419.4 18.0h1M412.3 12.0h1M415.5 21.6h1M422.1 25.7h1M405.1 23.1h1M415.0 20.2h1M413.4 17.9h1M409.3 22.8h1M425.1 9.4h1M410.8 13.5h1M423.8 11.6h1M415.8 10.1h1M411.6 17.0h1M415.1 22.0h1M432.8 17.5h1M426.1 17.2h1M429.7 15.5h1M411.4 17.3h1M424.1 30.2h1M406.0 18.6h1M421.5 31.6h1M416.7 23.6h1M419.3 23.1h1M426.3 22.5h1M409.8 12.5h1M414.4 17.0h1M426.9 15.2h1M417.8 18.1h1M418.2 13.0h1M421.4 17.0h1M425.8 28.1h1M416.2 27.0h1M413.8 21.1h1" stroke="#d8a81c" stroke-width="1" fill="none"/>
<path d="M453.9 243.0h1M445.2 241.9h1M437.2 238.6h1M453.1 243.3h1M448.1 240.0h1M452.2 233.9h1M449.7 243.7h1M440.1 233.8h1M446.8 233.1h1M444.0 236.7h1M448.1 231.6h1M442.8 230.0h1M438.2 229.5h1M449.0 230.8h1M440.4 226.7h1" stroke="#c8a020" stroke-width="1" fill="none"/>
<path d="M450.8 244.3h1M442.6 235.2h1M436.9 236.9h1M438.4 233.5h1M442.6 236.4h1M494.8 191.2h1M485.8 185.0h1M490.5 198.6h1M486.8 188.8h1M485.5 191.8h1M489.8 195.6h1M490.6 190.5h1M486.1 197.1h1M491.4 189.9h1M490.9 193.9h1M490.5 193.3h1M497.3 195.9h1M489.5 186.6h1M439.1 234.8h1M447.0 230.8h1M440.4 229.6h1M442.4 229.4h1M444.7 226.1h1M447.4 236.5h1M439.4 230.0h1M440.0 230.2h1M447.9 231.8h1" stroke="#d04018" stroke-width="1" fill="none"/>
<path d="M497.0 187.3h1M489.2 187.4h1M480.0 184.2h1M491.2 189.4h1M483.9 187.6h1M492.0 189.5h1M488.3 194.6h1M490.5 190.6h1M489.3 194.4h1M485.4 197.6h1M496.0 185.4h1M486.1 189.8h1M486.9 196.1h1M492.8 182.9h1M490.1 188.1h1M493.0 187.3h1M481.4 193.2h1M488.5 189.4h1M486.9 192.5h1" stroke="#d8c020" stroke-width="1" fill="none"/>
<path d="M489.9 192.1h1M481.1 196.7h1M487.5 188.4h1M486.8 186.7h1M490.9 190.9h1M494.5 194.8h1M495.6 190.2h1M496.2 200.1h1M489.6 197.0h1M490.4 197.9h1" stroke="#30c040" stroke-width="1" fill="none"/>
<path d="M478.8 192.2h1M489.4 196.0h1M480.7 191.0h1M482.4 178.8h1M489.9 180.4h1M486.2 186.5h1M494.6 198.4h1M479.7 188.1h1M491.8 185.2h1M488.4 190.1h1M481.8 185.2h1M490.6 186.6h1M442.0 236.0h1M454.6 228.2h1M440.7 230.6h1M445.1 231.8h1M448.3 236.1h1M446.7 230.4h1M449.2 227.2h1M443.7 228.6h1" stroke="#9ac828" stroke-width="1" fill="none"/>
<path d="M495.2 188.4h1M489.6 195.8h1M494.5 188.8h1M500.7 185.3h1M485.9 194.4h1M486.5 189.7h1M490.2 197.0h1M491.5 194.2h1M490.7 190.5h1M488.4 188.5h1M484.7 192.9h1M496.6 190.6h1M488.5 191.0h1M484.7 197.9h1M481.6 192.4h1M493.9 194.6h1" stroke="#20a8a0" stroke-width="1" fill="none"/>
<path d="M337.1 148.5h1M345.7 155.7h1M397.7 171.2h1M378.2 137.0h1M335.3 170.7h1M382.7 151.9h1M374.1 189.9h1M441.2 168.6h1M308.7 183.2h1M405.2 188.6h1" stroke="#176a40" stroke-width="1" fill="none"/>
<path d="M323.9 176.7h1M356.2 190.3h1M383.6 137.2h1M377.6 196.8h1M405.7 144.7h1M434.3 188.4h1M448.5 165.4h1M425.3 173.6h1M405.6 167.5h1" stroke="#115a52" stroke-width="1" fill="none"/>
<path d="M367.3 165.3h1M410.4 133.7h1M418.7 177.5h1M329.5 135.2h1M405.9 170.9h1M394.3 160.9h1M418.5 181.5h1M402.9 173.4h1M432.0 151.7h1M395.9 172.7h1M400.2 199.9h1M369.9 147.4h1M319.8 154.9h1" stroke="#1a8a80" stroke-width="1" fill="none"/>
<path d="M393.6 171.2h1M401.3 199.0h1M382.9 177.2h1M463.6 142.5h1M406.0 154.0h1M343.5 156.2h1M399.6 154.1h1M424.4 138.6h1M331.1 167.7h1M353.6 148.7h1M462.3 131.4h1M442.7 149.5h1M420.4 172.9h1" stroke="#146a62" stroke-width="1" fill="none"/>
<line x1="319.1" y1="34.0" x2="345.5" y2="17.0" stroke="#af3c14" stroke-width="1.2" stroke-dasharray="1.3,1.1" stroke-dashoffset="2.4" opacity="0.95"/>
<line x1="318.2" y1="38.3" x2="345.3" y2="21.5" stroke="#b44615" stroke-width="1.2" stroke-dasharray="1.3,1.1" stroke-dashoffset="2.5" opacity="0.95"/>
<line x1="319.0" y1="42.6" x2="345.2" y2="26.1" stroke="#b95116" stroke-width="1.2" stroke-dasharray="1.3,1.1" stroke-dashoffset="0.4" opacity="0.95"/>
<line x1="318.6" y1="46.9" x2="345.0" y2="30.6" stroke="#be5c17" stroke-width="1.2" stroke-dasharray="1.3,1.1" stroke-dashoffset="0.1" opacity="0.95"/>
<line x1="318.8" y1="51.2" x2="344.8" y2="35.1" stroke="#c46718" stroke-width="1.2" stroke-dasharray="1.3,1.1" stroke-dashoffset="1.4" opacity="0.95"/>
<line x1="318.3" y1="55.5" x2="344.6" y2="39.7" stroke="#c9721a" stroke-width="1.2" stroke-dasharray="1.3,1.1" stroke-dashoffset="0.7" opacity="0.95"/>
<line x1="318.7" y1="59.8" x2="344.5" y2="44.2" stroke="#ce7c1b" stroke-width="1.2" stroke-dasharray="1.3,1.1" stroke-dashoffset="1.4" opacity="0.95"/>
<line x1="319.5" y1="64.1" x2="344.3" y2="48.7" stroke="#d4871c" stroke-width="1.2" stroke-dasharray="1.3,1.1" stroke-dashoffset="0.5" opacity="0.95"/>
<line x1="318.2" y1="68.4" x2="344.1" y2="53.3" stroke="#d9921d" stroke-width="1.2" stroke-dasharray="1.3,1.1" stroke-dashoffset="2.5" opacity="0.95"/>
<line x1="318.4" y1="72.7" x2="343.9" y2="57.8" stroke="#de9d1e" stroke-width="1.2" stroke-dasharray="1.3,1.1" stroke-dashoffset="0.9" opacity="0.95"/>
<line x1="318.6" y1="77.0" x2="343.8" y2="62.3" stroke="#e4a820" stroke-width="1.2" stroke-dasharray="1.3,1.1" stroke-dashoffset="0.2" opacity="0.95"/>
<line x1="320.0" y1="81.3" x2="343.6" y2="66.9" stroke="#e9b221" stroke-width="1.2" stroke-dasharray="1.3,1.1" stroke-dashoffset="1.1" opacity="0.95"/>
<line x1="319.3" y1="85.6" x2="343.4" y2="71.4" stroke="#ecb822" stroke-width="1.2" stroke-dasharray="1.3,1.1" stroke-dashoffset="0.8" opacity="0.95"/>
<line x1="319.4" y1="89.9" x2="343.2" y2="75.9" stroke="#ecb822" stroke-width="1.2" stroke-dasharray="1.3,1.1" stroke-dashoffset="1.5" opacity="0.95"/>
<line x1="318.3" y1="94.2" x2="343.1" y2="80.5" stroke="#ecb822" stroke-width="1.2" stroke-dasharray="1.3,1.1" stroke-dashoffset="2.7" opacity="0.95"/>
<line x1="318.9" y1="98.5" x2="342.9" y2="85.0" stroke="#ecb822" stroke-width="1.2" stroke-dasharray="1.3,1.1" stroke-dashoffset="2.6" opacity="0.95"/>
<line x1="319.1" y1="102.8" x2="342.7" y2="89.5" stroke="#ecb822" stroke-width="1.2" stroke-dasharray="1.3,1.1" stroke-dashoffset="2.5" opacity="0.95"/>
<line x1="319.1" y1="107.1" x2="342.5" y2="94.1" stroke="#ecb822" stroke-width="1.2" stroke-dasharray="1.3,1.1" stroke-dashoffset="2.5" opacity="0.95"/>
<line x1="347.0" y1="13.4" x2="365.0" y2="8.0" stroke="url(#go)" stroke-width="1.1" stroke-dasharray="1.4,1.1" stroke-dashoffset="0.9" opacity="0.87"/>
<line x1="346.8" y1="16.3" x2="372.1" y2="8.0" stroke="url(#go)" stroke-width="1.1" stroke-dasharray="1.4,1.1" stroke-dashoffset="2.2" opacity="0.58"/>
<line x1="346.7" y1="19.3" x2="378.6" y2="8.0" stroke="url(#go)" stroke-width="1.1" stroke-dasharray="1.4,1.1" stroke-dashoffset="0.7" opacity="0.90"/>
<line x1="346.5" y1="22.5" x2="384.2" y2="8.0" stroke="url(#go)" stroke-width="1.1" stroke-dasharray="1.4,1.1" stroke-dashoffset="2.9" opacity="0.66"/>
<line x1="346.3" y1="25.9" x2="389.3" y2="8.0" stroke="url(#go)" stroke-width="1.1" stroke-dasharray="1.4,1.1" stroke-dashoffset="1.3" opacity="0.92"/>
<line x1="346.1" y1="29.3" x2="393.7" y2="8.0" stroke="url(#go)" stroke-width="1.1" stroke-dasharray="1.4,1.1" stroke-dashoffset="2.0" opacity="0.64"/>
<line x1="345.9" y1="32.9" x2="397.7" y2="8.0" stroke="url(#go)" stroke-width="1.1" stroke-dasharray="1.4,1.1" stroke-dashoffset="0.6" opacity="0.66"/>
<line x1="345.7" y1="36.2" x2="400.9" y2="8.0" stroke="url(#go)" stroke-width="1.1" stroke-dasharray="1.4,1.1" stroke-dashoffset="1.1" opacity="0.73"/>
<line x1="345.5" y1="39.9" x2="404.0" y2="8.0" stroke="url(#gy)" stroke-width="1.1" stroke-dasharray="1.4,1.1" stroke-dashoffset="0.8" opacity="0.56"/>
<line x1="345.3" y1="43.5" x2="406.7" y2="8.0" stroke="url(#gy)" stroke-width="1.1" stroke-dasharray="1.4,1.1" stroke-dashoffset="1.3" opacity="0.73"/>
<line x1="345.1" y1="47.6" x2="409.4" y2="8.0" stroke="url(#gy)" stroke-width="1.31248" stroke-dasharray="7,0.6,3,0.5" stroke-dashoffset="1.1" opacity="0.54"/>
<line x1="344.9" y1="51.1" x2="411.4" y2="8.1" stroke="url(#gy)" stroke-width="1.24949" stroke-dasharray="7,0.6,3,0.5" stroke-dashoffset="0.4" opacity="0.73"/>
<line x1="344.7" y1="55.2" x2="410.7" y2="10.0" stroke="url(#gy)" stroke-width="1.3663" stroke-dasharray="7,0.6,3,0.5" stroke-dashoffset="1.9" opacity="0.69"/>
<line x1="344.4" y1="60.2" x2="409.9" y2="12.5" stroke="url(#gy)" stroke-width="1.47505" stroke-dasharray="7,0.6,3,0.5" stroke-dashoffset="0.2" opacity="0.91"/>
<line x1="344.2" y1="63.8" x2="409.3" y2="14.3" stroke="url(#gy)" stroke-width="1.46911" stroke-dasharray="7,0.6,3,0.5" stroke-dashoffset="2.2" opacity="0.71"/>
<line x1="343.9" y1="68.6" x2="408.5" y2="16.8" stroke="url(#gy)" stroke-width="1.45611" stroke-dasharray="7,0.6,3,0.5" stroke-dashoffset="0.9" opacity="0.70"/>
<line x1="343.7" y1="72.7" x2="407.8" y2="18.9" stroke="url(#gy)" stroke-width="1.26005" stroke-dasharray="7,0.6,3,0.5" stroke-dashoffset="3.0" opacity="0.89"/>
<line x1="343.5" y1="77.3" x2="407.0" y2="21.3" stroke="url(#gy)" stroke-width="1.0769" stroke-dasharray="7,0.6,3,0.5" stroke-dashoffset="1.7" opacity="0.56"/>
<line x1="343.2" y1="81.6" x2="406.3" y2="23.7" stroke="url(#gy)" stroke-width="1.11098" stroke-dasharray="7,0.6,3,0.5" stroke-dashoffset="0.3" opacity="0.84"/>
<line x1="343.0" y1="85.2" x2="405.7" y2="25.7" stroke="url(#gy)" stroke-width="1.01778" stroke-dasharray="7,0.6,3,0.5" stroke-dashoffset="2.8" opacity="0.56"/>
<line x1="342.8" y1="90.1" x2="404.9" y2="28.4" stroke="url(#gy)" stroke-width="1.14732" stroke-dasharray="7,0.6,3,0.5" stroke-dashoffset="3.0" opacity="0.74"/>
<line x1="342.6" y1="93.8" x2="404.3" y2="30.6" stroke="url(#gy)" stroke-width="1.2921" stroke-dasharray="7,0.6,3,0.5" stroke-dashoffset="0.2" opacity="0.99"/>
<polyline points="167.5,120.0 164.0,117.0 160.6,118.5 162.0,121.0 165.5,124.4 173.1,134.5 182.0,146.0 187.1,153.6 190.9,158.7 201.1,166.4 211.6,178.0 221.8,188.2 232.0,195.5 243.6,200.7 246.5,202.7 258.2,209.1 265.5,212.9 267.5,214.0 275.6,210.0 287.3,202.7 296.0,200.7 304.7,196.9 316.4,189.6 330.9,180.9 345.5,172.2 358.2,162.7 376.4,153.6 383.6,144.5 394.5,139.1 396.2,134.5 406.4,131.6 409.3,127.3 420.4,120.2 433.1,112.5 443.3,104.9 452.9,96.5" fill="none" stroke="#ececec" stroke-width="1.25" stroke-linejoin="round" stroke-linecap="round" />
<polyline points="167.5,120.0 180.7,121.8 198.5,125.6 216.4,129.5 234.2,133.8 252.0,139.6 267.3,144.0 278.5,147.5 293.1,153.3 303.3,156.8 300.4,159.5 303.3,156.8 312.0,148.9 316.8,144.5 326.3,133.1 334.9,121.5 337.8,117.1 342.6,112.7 345.3,107.4 356.9,98.6 371.5,87.0 386.0,76.8 400.5,66.6 409.3,60.8 418.0,54.0 422.6,52.2 423.2,55.0 419.3,63.3 420.6,69.3" fill="none" stroke="#ececec" stroke-width="1.25" stroke-linejoin="round" stroke-linecap="round" />
<polyline points="170.0,108.3 173.1,112.4 180.7,123.1 190.9,133.3 202.4,142.2 208.0,144.0 207.5,148.5 213.8,154.9 224.0,162.5 234.2,170.2 246.9,177.8 258.5,182.6 261.3,186.5 272.7,193.4 284.4,200.7 296.0,207.1 310.5,214.4 323.6,219.6" fill="none" stroke="#f5e72a" stroke-width="1.95" stroke-linejoin="round" stroke-linecap="round" />
<polyline points="323.6,219.6 336.7,214.4 349.0,208.3" fill="none" stroke="#0c7a12" stroke-width="1.4" stroke-linejoin="round" stroke-linecap="round" />
<polyline points="349.3,208.2 352.0,206.0 365.5,197.3 367.3,194.7 380.0,186.4 398.2,173.6 412.7,164.5 418.2,157.3 430.9,150.0 440.7,143.8 448.4,138.8 450.9,135.4 461.1,127.8 468.7,119.4 476.4,113.8 484.0,106.7 491.1,99.0" fill="none" stroke="#7d6a8a" stroke-width="1.9" stroke-linejoin="round" stroke-linecap="round" />
<polyline points="349.3,208.2 352.0,206.0 365.5,197.3 367.3,194.7 380.0,186.4 398.2,173.6 412.7,164.5 418.2,157.3 430.9,150.0 440.7,143.8 448.4,138.8 450.9,135.4 461.1,127.8 468.7,119.4 476.4,113.8 484.0,106.7 491.1,99.0" fill="none" stroke="#aaa5ae" stroke-width="0.8" stroke-linejoin="round" stroke-linecap="round" />
<polyline points="171.8,107.3 180.7,108.6 198.5,113.4 216.4,117.5 234.2,121.8 252.0,125.6 262.2,128.2 264.7,130.2 269.8,132.9 287.3,137.3 301.8,141.1 312.0,146.0 314.9,148.0" fill="none" stroke="#5cc6d6" stroke-width="1.6" stroke-linejoin="round" stroke-linecap="round" />
<polyline points="314.7,147.0 324.9,136.0 333.6,127.3 340.9,118.5 343.8,111.3 345.3,108.4 356.9,99.6" fill="none" stroke="#f2452a" stroke-width="2" stroke-linejoin="round" stroke-linecap="round" />
<polyline points="356.9,99.6 371.5,88.0 386.0,77.8 400.5,67.6 409.3,61.8 418.0,54.5" fill="none" stroke="#ef5a4a" stroke-width="1.4" stroke-linejoin="round" stroke-linecap="round" />
<circle cx="315" cy="148.5" r="1.4" fill="#35d04a"/>
<polyline points="167.2,109.0 167.6,106.6 170.0,105.6 172.5,106.0 174.3,107.4" fill="none" stroke="#0f6a14" stroke-width="1.6" stroke-linejoin="round" stroke-linecap="round" />
<line x1="491.1" y1="98.5" x2="500.5" y2="86.3" stroke="#e01020" stroke-width="2"/>
<line x1="491.1" y1="98.5" x2="501.8" y2="76.1" stroke="#1414f0" stroke-width="2.6" stroke-linecap="round"/>
<line x1="491.1" y1="98.5" x2="462.4" y2="90.9" stroke="#12e024" stroke-width="2.2" stroke-linecap="round"/>
<rect x="46.9" y="22.5" width="131.1" height="61.2" fill="#fff"/>
<line x1="53.8" x2="88.4" y1="31.0" y2="31.0" stroke="#f5222a" stroke-width="1.5"/>
<line x1="53.8" x2="88.4" y1="37.3" y2="37.3" stroke="#5a9bbf" stroke-width="1.5"/>
<line x1="53.8" x2="88.4" y1="42.3" y2="42.3" stroke="#fbe13a" stroke-width="1.5"/>
<line x1="53.8" x2="88.4" y1="48.7" y2="48.7" stroke="#704a8a" stroke-width="1.5"/>
<line x1="53.8" x2="88.4" y1="59.7" y2="59.7" stroke="#1db31d" stroke-width="1.5"/>
<rect x="52.6" y="70.8" width="37.6" height="4.8" rx="2.4" fill="#fff" stroke="#666" stroke-width="1.5"/>
<text x="93.4" y="44.1" font-size="10.3" textLength="76.8" lengthAdjust="spacingAndGlyphs" fill="#111" stroke="#111" stroke-width="0.28">Fused odometry</text>
<text x="93.4" y="63.4" font-size="10.3" textLength="83.0" lengthAdjust="spacingAndGlyphs" fill="#111" stroke="#111" stroke-width="0.28">Position estimate</text>
<text x="93.4" y="77.3" font-size="10.3" textLength="61.6" lengthAdjust="spacingAndGlyphs" fill="#111" stroke="#111" stroke-width="0.28">Ground truth</text>
<rect x="502.8" y="222.6" width="40" height="30" fill="#fff"/>
<text x="520.2" y="241.3" font-size="13.3" text-anchor="middle" fill="#111" stroke="#111" stroke-width="0.25">(A)</text>
<rect x="38.2" y="259.7" width="495.1" height="273.7" fill="#fff"/>
<path d="M38.5 533.2C39.0 533.2 41.5 533.3 42.5 533.2C43.5 533.1 45.8 532.5 47.0 532.0C48.2 531.5 51.8 529.1 52.9 528.8C54.0 528.5 55.1 529.5 56.3 529.6C57.5 529.7 61.7 530.5 63.1 529.8C64.5 529.1 66.1 526.3 68.2 523.9C70.3 521.5 78.6 512.1 80.9 509.4C83.2 506.7 85.5 503.1 87.3 501.0C89.1 498.9 94.2 494.7 96.2 492.1C98.2 489.5 102.3 481.9 103.8 479.7C105.3 477.5 107.4 475.9 108.9 473.8C110.4 471.7 114.7 464.4 116.5 461.8C118.3 459.2 122.5 454.0 124.2 452.2C125.9 450.4 128.7 449.1 130.5 447.1C132.3 445.1 137.7 437.7 139.4 435.6C141.1 433.5 143.8 430.6 145.0 429.5C146.2 428.4 148.1 427.0 149.6 426.7C151.1 426.4 155.4 426.8 157.3 426.9C159.2 427.0 162.6 427.3 165.1 427.3C167.6 427.3 176.1 427.5 178.2 427.3C180.3 427.1 181.6 426.3 182.5 426.0C183.4 425.7 184.8 425.1 185.5 425.1C186.2 425.1 187.5 425.8 188.4 426.0C189.3 426.2 190.8 426.5 192.7 426.7C194.6 426.9 200.9 428.1 204.5 428.0C208.1 427.9 218.3 426.8 222.7 426.2C227.1 425.6 237.0 423.6 240.9 422.9C244.8 422.2 252.4 420.3 255.5 420.0C258.6 419.7 262.5 419.9 266.4 420.0C270.3 420.1 283.8 420.8 288.2 420.7C292.6 420.6 299.2 419.3 302.7 418.9C306.2 418.5 314.2 417.7 317.3 417.5C320.4 417.3 325.6 418.0 328.2 417.5C330.8 417.0 336.4 414.5 339.1 413.5C341.8 412.5 348.2 410.2 350.9 409.3C353.6 408.4 358.7 406.5 361.8 405.6C364.9 404.7 372.5 402.4 376.4 401.6C380.3 400.8 390.1 399.5 394.5 399.1C398.9 398.7 408.3 398.6 412.7 398.4C417.1 398.2 426.5 397.3 430.9 397.3C435.3 397.3 445.7 398.2 449.1 398.4C452.5 398.6 457.4 398.5 458.9 398.8C460.4 399.1 461.0 400.0 461.5 400.5C462.0 401.0 462.8 402.6 463.3 403.3C463.8 404.0 464.7 406.1 465.5 406.6C466.3 407.1 468.9 407.0 470.0 407.1C471.1 407.2 473.7 407.3 474.3 407.4C474.9 407.5 474.6 406.9 475.3 407.9C476.0 408.9 479.2 413.8 480.5 415.8C481.8 417.8 484.5 422.6 485.8 424.6C487.1 426.6 489.8 430.8 491.1 432.5C492.4 434.2 494.9 437.1 496.3 438.6C497.7 440.1 501.3 443.2 502.5 444.7C503.7 446.2 505.2 449.3 506.0 450.9C506.8 452.5 508.6 456.6 509.5 457.9C510.4 459.2 513.0 460.2 513.9 461.4C514.8 462.6 516.6 465.9 517.4 467.5C518.2 469.1 520.1 473.2 520.9 474.6C521.7 476.0 523.4 477.9 524.4 478.9C525.4 479.9 528.5 482.3 529.6 483.3C530.7 484.3 532.9 487.0 533.4 487.5" fill="none" stroke="#ec6628" stroke-width="1.08" stroke-linejoin="round"/>
<path d="M56.3 529.4C57.1 529.4 61.7 530.3 63.1 529.4C64.5 528.5 66.1 524.9 68.2 522.2C70.3 519.5 78.6 509.8 80.9 506.9C83.2 504.0 85.5 500.1 87.3 498.0C89.1 495.9 94.2 491.8 96.2 489.1C98.2 486.4 102.3 477.5 103.8 475.1C105.3 472.7 107.4 471.0 108.9 468.7C110.4 466.4 114.7 458.9 116.5 456.0C118.3 453.1 122.5 446.5 124.2 444.5C125.9 442.5 128.7 441.5 130.5 439.4C132.3 437.3 137.7 428.9 139.4 426.7C141.1 424.5 143.8 422.0 145.0 421.0C146.2 420.0 148.1 418.9 149.6 418.6C151.1 418.3 155.4 418.6 157.3 418.6C159.2 418.6 162.6 419.0 165.1 419.0C167.6 419.0 176.1 419.1 178.2 419.0C180.3 418.9 181.6 418.2 182.5 418.0C183.4 417.8 184.8 417.2 185.5 417.2C186.2 417.2 187.5 418.1 188.4 418.3C189.3 418.5 190.8 418.9 192.7 419.0C194.6 419.1 200.9 419.7 204.5 419.5C208.1 419.3 218.3 418.1 222.7 417.5C227.1 416.9 237.0 415.2 240.9 414.5C244.8 413.8 252.4 412.2 255.5 412.0C258.6 411.8 262.5 412.5 266.4 412.7C270.3 412.9 283.8 413.6 288.2 413.5C292.6 413.4 299.2 412.4 302.7 412.0C306.2 411.6 314.2 410.0 317.3 409.8C320.4 409.6 325.6 411.0 328.2 410.5C330.8 410.0 336.4 406.4 339.1 405.5C341.8 404.6 348.2 403.6 350.9 402.7C353.6 401.8 358.7 399.4 361.8 398.4C364.9 397.4 372.5 395.4 376.4 394.7C380.3 394.0 390.1 393.1 394.5 392.9C398.9 392.7 408.3 393.0 412.7 392.9C417.1 392.8 426.5 391.8 430.9 391.8C435.3 391.8 445.7 392.3 449.1 392.5C452.5 392.7 458.0 392.9 459.6 393.2C461.2 393.5 461.8 394.4 462.5 395.0C463.2 395.6 464.4 397.5 465.5 398.2C466.6 398.9 470.2 400.2 471.3 400.7C472.4 401.2 474.0 402.0 474.5 402.3C475.0 402.6 474.6 402.3 475.3 403.5C476.0 404.7 479.2 410.3 480.5 412.3C481.8 414.3 484.5 418.3 485.8 420.2C487.1 422.1 489.8 426.3 491.1 428.1C492.4 429.9 494.9 433.4 496.3 435.1C497.7 436.8 501.2 440.7 502.5 442.1C503.8 443.5 506.2 445.2 506.8 446.5C507.4 447.8 507.3 451.3 507.7 452.6C508.1 453.9 509.8 456.7 510.4 457.0C511.0 457.3 512.2 455.1 512.6 455.3C513.0 455.5 513.3 457.6 513.9 458.8C514.5 460.0 516.7 463.6 517.4 464.9C518.1 466.2 519.4 468.1 520.0 469.3C520.6 470.5 521.7 473.4 522.6 474.6C523.5 475.8 526.6 477.7 527.9 478.9C529.2 480.1 532.7 483.7 533.4 484.3" fill="none" stroke="#1683dc" stroke-width="1.08" stroke-linejoin="round"/>
<rect x="143.5" y="414.5" width="21" height="20.5" fill="none" stroke="#4a4a4a" stroke-width="0.8"/>
<rect x="464.4" y="397.3" width="11" height="15.6" fill="none" stroke="#4a4a4a" stroke-width="0.8"/>
<rect x="56.3" y="259.7" width="97.0" height="273.7" fill="#4dbeee" fill-opacity="0.32"/>
<rect x="191.3" y="259.7" width="72.0" height="273.7" fill="#4dbeee" fill-opacity="0.32"/>
<rect x="322.3" y="259.7" width="90.9" height="273.7" fill="#4dbeee" fill-opacity="0.32"/>
<rect x="469.9" y="259.7" width="63.5" height="273.7" fill="#4dbeee" fill-opacity="0.32"/>
<rect x="38.2" y="259.7" width="495.1" height="273.7" fill="none" stroke="#4a4a4a" stroke-width="0.75"/>
<path d="M38.2 533.4v-4.2M47.3 533.4v-2.3M56.3 533.4v-2.3M65.3 533.4v-2.3M74.3 533.4v-2.3M83.3 533.4v-4.2M92.3 533.4v-2.3M101.3 533.4v-2.3M110.3 533.4v-2.3M119.3 533.4v-2.3M128.3 533.4v-4.2M137.3 533.4v-2.3M146.3 533.4v-2.3M155.3 533.4v-2.3M164.3 533.4v-2.3M173.3 533.4v-4.2M182.3 533.4v-2.3M191.3 533.4v-2.3M200.3 533.4v-2.3M209.3 533.4v-2.3M218.3 533.4v-4.2M227.3 533.4v-2.3M236.3 533.4v-2.3M245.3 533.4v-2.3M254.3 533.4v-2.3M263.3 533.4v-4.2M272.3 533.4v-2.3M281.3 533.4v-2.3M290.3 533.4v-2.3M299.3 533.4v-2.3M308.3 533.4v-4.2M317.3 533.4v-2.3M326.3 533.4v-2.3M335.3 533.4v-2.3M344.3 533.4v-2.3M353.3 533.4v-4.2M362.3 533.4v-2.3M371.4 533.4v-2.3M380.4 533.4v-2.3M389.4 533.4v-2.3M398.4 533.4v-4.2M407.4 533.4v-2.3M416.4 533.4v-2.3M425.4 533.4v-2.3M434.4 533.4v-2.3M443.4 533.4v-4.2M452.4 533.4v-2.3M461.4 533.4v-2.3M470.4 533.4v-2.3M479.4 533.4v-2.3M488.4 533.4v-4.2M497.4 533.4v-2.3M506.4 533.4v-2.3M515.4 533.4v-2.3M524.4 533.4v-2.3M533.4 533.4v-4.2M38.2 533.4h4.2M38.2 526.5h2.3M38.2 519.7h2.3M38.2 512.8h2.3M38.2 506.0h4.2M38.2 499.1h2.3M38.2 492.3h2.3M38.2 485.5h2.3M38.2 478.6h4.2M38.2 471.8h2.3M38.2 464.9h2.3M38.2 458.1h2.3M38.2 451.3h4.2M38.2 444.4h2.3M38.2 437.6h2.3M38.2 430.7h2.3M38.2 423.9h4.2M38.2 417.0h2.3M38.2 410.2h2.3M38.2 403.4h2.3M38.2 396.5h4.2M38.2 389.7h2.3M38.2 382.8h2.3M38.2 376.0h2.3M38.2 369.2h4.2M38.2 362.3h2.3M38.2 355.5h2.3M38.2 348.6h2.3M38.2 341.8h4.2M38.2 335.0h2.3M38.2 328.1h2.3M38.2 321.3h2.3M38.2 314.4h4.2M38.2 307.6h2.3M38.2 300.7h2.3M38.2 293.9h2.3M38.2 287.1h4.2M38.2 280.2h2.3M38.2 273.4h2.3M38.2 266.5h2.3M38.2 259.7h4.2" stroke="#4a4a4a" stroke-width="0.5" fill="none"/>
<text x="38.2" y="549.1" font-size="11.5" text-anchor="middle" fill="#1c1c1c">0</text>
<text x="83.3" y="549.1" font-size="11.5" text-anchor="middle" fill="#1c1c1c">10</text>
<text x="128.3" y="549.1" font-size="11.5" text-anchor="middle" fill="#1c1c1c">20</text>
<text x="173.3" y="549.1" font-size="11.5" text-anchor="middle" fill="#1c1c1c">30</text>
<text x="218.3" y="549.1" font-size="11.5" text-anchor="middle" fill="#1c1c1c">40</text>
<text x="263.3" y="549.1" font-size="11.5" text-anchor="middle" fill="#1c1c1c">50</text>
<text x="308.3" y="549.1" font-size="11.5" text-anchor="middle" fill="#1c1c1c">60</text>
<text x="353.3" y="549.1" font-size="11.5" text-anchor="middle" fill="#1c1c1c">70</text>
<text x="398.4" y="549.1" font-size="11.5" text-anchor="middle" fill="#1c1c1c">80</text>
<text x="443.4" y="549.1" font-size="11.5" text-anchor="middle" fill="#1c1c1c">90</text>
<text x="488.4" y="549.1" font-size="11.5" text-anchor="middle" fill="#1c1c1c">100</text>
<text x="533.4" y="549.1" font-size="11.5" text-anchor="middle" fill="#1c1c1c">110</text>
<text x="33.8" y="538.2" font-size="11.5" text-anchor="end" fill="#1c1c1c">0</text>
<text x="33.8" y="510.9" font-size="11.5" text-anchor="end" fill="#1c1c1c">2</text>
<text x="33.8" y="483.5" font-size="11.5" text-anchor="end" fill="#1c1c1c">4</text>
<text x="33.8" y="456.2" font-size="11.5" text-anchor="end" fill="#1c1c1c">6</text>
<text x="33.8" y="428.8" font-size="11.5" text-anchor="end" fill="#1c1c1c">8</text>
<text x="33.8" y="400.6" font-size="11.5" text-anchor="end" fill="#1c1c1c">10</text>
<text x="33.8" y="373.9" font-size="11.5" text-anchor="end" fill="#1c1c1c">12</text>
<text x="33.8" y="345.9" font-size="11.5" text-anchor="end" fill="#1c1c1c">14</text>
<text x="33.8" y="318.5" font-size="11.5" text-anchor="end" fill="#1c1c1c">16</text>
<text x="33.8" y="291.2" font-size="11.5" text-anchor="end" fill="#1c1c1c">18</text>
<text x="33.8" y="263.8" font-size="11.5" text-anchor="end" fill="#1c1c1c">20</text>
<text x="286" y="565.7" font-size="12.8" text-anchor="middle" fill="#1c1c1c">Time (s)</text>
<text transform="translate(14.9,396.8) rotate(-90)" font-size="13.15" text-anchor="middle" fill="#1c1c1c">Position estimate in the X-axis direction (m)</text>
<rect x="46.4" y="265.4" width="112" height="30.2" fill="#fff" stroke="#4a4a4a" stroke-width="0.8"/>
<line x1="48.7" x2="73.5" y1="273.3" y2="273.3" stroke="#1683dc" stroke-width="1.4"/>
<line x1="48.7" x2="73.5" y1="287.1" y2="287.1" stroke="#ec6628" stroke-width="1.4"/>
<text x="76.4" y="277" font-size="10.8" fill="#111">Ground Truth</text>
<text x="76.4" y="291" font-size="10.8" fill="#111">Fused Odometry</text>
<clipPath id="c1"><rect x="61.7" y="300.6" width="195.8" height="103.7"/></clipPath>
<rect x="61.7" y="300.6" width="195.8" height="103.7" fill="#fff"/>
<path d="M61.7 385.3C65.3 383.7 74.4 379.3 81.8 376.3C89.2 373.3 95.2 371.2 102.7 368.7C110.2 366.2 119.2 363.7 123.7 362.5C128.2 361.3 122.2 362.1 127.8 362.0C133.4 361.9 144.5 361.9 155.0 362.0C165.5 362.1 175.5 362.2 186.4 362.5C197.3 362.8 206.7 363.2 215.7 363.7C224.7 364.1 229.1 364.8 236.6 365.0C244.1 365.2 253.7 365.0 257.5 365.0" fill="none" stroke="#ec6628" stroke-width="1.1" stroke-linejoin="round" clip-path="url(#c1)"/>
<path d="M61.7 343.4C65.3 341.8 74.4 337.5 81.8 334.4C89.2 331.3 97.1 328.2 102.7 326.1C108.3 324.0 109.2 323.9 113.0 323.0C116.8 322.1 119.5 321.6 123.7 321.1C127.9 320.6 130.6 320.4 136.2 320.2C141.8 320.0 146.0 320.0 155.0 320.2C164.0 320.4 175.5 320.7 186.4 321.1C197.3 321.5 206.7 321.9 215.7 322.3C224.7 322.7 229.1 323.0 236.6 323.2C244.1 323.4 253.7 323.2 257.5 323.2" fill="none" stroke="#1683dc" stroke-width="1.1" stroke-linejoin="round" clip-path="url(#c1)"/>
<rect x="61.7" y="300.6" width="93.3" height="103.7" fill="#4dbeee" fill-opacity="0.32"/>
<line x1="155" x2="155" y1="300.6" y2="404.3" stroke="#222" stroke-width="0.7" stroke-dasharray="1.2,1.2"/>
<rect x="61.7" y="300.6" width="195.8" height="103.7" fill="none" stroke="#4a4a4a" stroke-width="0.65"/>
<text x="87.3" y="414.8" font-size="7.7" text-anchor="middle" fill="#1c1c1c">24</text>
<text x="128.7" y="414.8" font-size="7.7" text-anchor="middle" fill="#1c1c1c">25</text>
<text x="170.1" y="414.8" font-size="7.7" text-anchor="middle" fill="#1c1c1c">26</text>
<text x="211.5" y="414.8" font-size="7.7" text-anchor="middle" fill="#1c1c1c">27</text>
<text x="253.3" y="414.8" font-size="7.7" text-anchor="middle" fill="#1c1c1c">28</text>
<text x="59.2" y="315.0" font-size="8" text-anchor="end" fill="#1c1c1c">8.5</text>
<text x="59.2" y="349.7" font-size="8" text-anchor="end" fill="#1c1c1c">8</text>
<text x="59.2" y="384.8" font-size="8" text-anchor="end" fill="#1c1c1c">7.5</text>
<path d="M87.3 404.3v-2.2M128.7 404.3v-2.2M170.1 404.3v-2.2M211.5 404.3v-2.2M253.3 404.3v-2.2M61.7 312.3h2.2M61.7 347.0h2.2M61.7 382.1h2.2" stroke="#4a4a4a" stroke-width="0.7" fill="none"/>
<path d="M61.7 404.3L143.5 414.5M257.5 404.3L164.5 414.5" stroke="#4a4a4a" stroke-width="0.8" fill="none"/>
<clipPath id="c2"><rect x="300.3" y="286.1" width="200.6" height="102.2"/></clipPath>
<rect x="300.3" y="286.1" width="200.6" height="102.2" fill="#fff"/>
<path d="M300.3 340.2C302.4 341.3 308.4 344.7 311.8 346.3C315.2 347.9 316.4 348.3 319.0 349.3C321.6 350.3 322.5 350.8 326.4 351.8C330.3 352.8 335.7 354.2 340.9 355.0C346.1 355.8 350.3 356.2 355.5 356.5C360.7 356.8 363.1 356.6 370.0 356.7C376.9 356.8 387.0 357.2 393.6 357.0C400.2 356.8 400.8 356.1 406.4 355.5C412.0 354.9 417.1 354.2 424.5 353.6C431.9 353.0 439.9 352.3 447.3 352.3C454.7 352.3 459.0 353.1 465.5 353.6C472.0 354.1 477.2 354.1 483.6 355.0C490.0 355.9 497.8 358.0 500.9 358.6" fill="none" stroke="#ec6628" stroke-width="1.1" stroke-linejoin="round" clip-path="url(#c2)"/>
<path d="M300.3 294.1C301.9 294.8 306.3 296.9 309.1 298.2C311.9 299.5 313.4 300.3 316.0 301.4C318.6 302.5 319.6 303.2 323.6 304.4C327.6 305.6 333.0 306.9 338.2 307.9C343.4 308.9 347.0 309.4 352.7 309.8C358.4 310.2 362.6 310.2 370.0 310.3C377.4 310.4 385.4 310.3 393.6 310.6C401.8 310.9 407.5 311.3 415.5 311.8C423.5 312.3 430.0 312.8 438.2 313.6C446.4 314.4 453.5 315.2 460.9 316.4C468.3 317.6 473.4 318.5 479.1 320.0C484.8 321.5 488.8 323.1 492.7 324.5C496.6 325.9 499.4 327.1 500.9 327.7" fill="none" stroke="#1683dc" stroke-width="1.1" stroke-linejoin="round" clip-path="url(#c2)"/>
<rect x="393.6" y="286.1" width="107.3" height="102.2" fill="#4dbeee" fill-opacity="0.32"/>
<line x1="393.6" x2="393.6" y1="286.1" y2="388.3" stroke="#222" stroke-width="0.7" stroke-dasharray="1.2,1.2"/>
<rect x="300.3" y="286.1" width="200.6" height="102.2" fill="none" stroke="#4a4a4a" stroke-width="0.65"/>
<text x="316.8" y="398.5" font-size="7.7" text-anchor="middle" fill="#1c1c1c">95</text>
<text x="357.7" y="398.5" font-size="7.7" text-anchor="middle" fill="#1c1c1c">95.5</text>
<text x="399.1" y="398.5" font-size="7.7" text-anchor="middle" fill="#1c1c1c">96</text>
<text x="440.0" y="398.5" font-size="7.7" text-anchor="middle" fill="#1c1c1c">96.5</text>
<text x="481.4" y="398.5" font-size="7.7" text-anchor="middle" fill="#1c1c1c">97</text>
<text x="298.5" y="302.0" font-size="8" text-anchor="end" fill="#1c1c1c">9.8</text>
<text x="298.5" y="320.7" font-size="8" text-anchor="end" fill="#1c1c1c">9.6</text>
<text x="298.5" y="339.8" font-size="8" text-anchor="end" fill="#1c1c1c">9.4</text>
<text x="298.5" y="358.4" font-size="8" text-anchor="end" fill="#1c1c1c">9.2</text>
<text x="298.5" y="377.0" font-size="8" text-anchor="end" fill="#1c1c1c">9</text>
<path d="M316.8 388.3v-2.2M357.7 388.3v-2.2M399.1 388.3v-2.2M440.0 388.3v-2.2M481.4 388.3v-2.2M300.3 298.6h2.2M300.3 317.3h2.2M300.3 336.4h2.2M300.3 355.0h2.2M300.3 373.6h2.2" stroke="#4a4a4a" stroke-width="0.7" fill="none"/>
<path d="M300.3 388.3L464.4 397.3M500.9 388.3L475.4 397.3" stroke="#4a4a4a" stroke-width="0.8" fill="none"/>
<rect x="231.9" y="471.9" width="72.1" height="34.3" fill="none" stroke="#8c8c8c" stroke-width="0.7"/>
<text x="233.2" y="486.1" font-size="10" fill="#1a1a1a" stroke="#1a1a1a" stroke-width="0.25" textLength="57.3" lengthAdjust="spacingAndGlyphs">Using LiDAR</text>
<text x="233.2" y="499.5" font-size="10" fill="#1a1a1a" stroke="#1a1a1a" stroke-width="0.25" textLength="67.4" lengthAdjust="spacingAndGlyphs">odometry only</text>
<rect x="330.6" y="471.7" width="128.5" height="34.4" fill="none" stroke="#8c8c8c" stroke-width="0.7"/>
<text x="334.7" y="485.7" font-size="10" fill="#1a1a1a" stroke="#1a1a1a" stroke-width="0.25" textLength="115" lengthAdjust="spacingAndGlyphs">Using LiDAR odometry &amp;</text>
<text x="334.7" y="499.1" font-size="10" fill="#1a1a1a" stroke="#1a1a1a" stroke-width="0.25" textLength="102.3" lengthAdjust="spacingAndGlyphs">optical flow odometry</text>
<line x1="291.3" y1="464.5" x2="267.9" y2="478.4" stroke="#45a820" stroke-width="1.6"/>
<line x1="367.5" y1="452.6" x2="395" y2="471.2" stroke="#45a820" stroke-width="1.6"/>
<rect x="500.1" y="514" width="40" height="21.5" fill="#fff"/>
<text x="517" y="532.1" font-size="13.2" text-anchor="middle" fill="#111" stroke="#111" stroke-width="0.25">(B)</text>
</svg>
</body></html>
